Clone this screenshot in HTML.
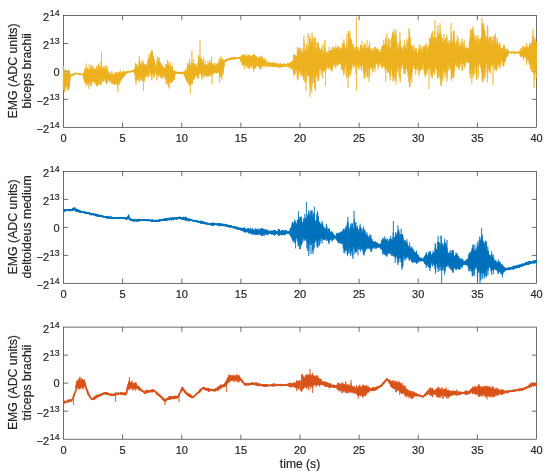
<!DOCTYPE html>
<html><head><meta charset="utf-8"><title>EMG</title>
<style>html,body{margin:0;padding:0;background:#fff}svg{display:block}text{stroke:#262626;stroke-width:.2px}</style>
</head><body>
<svg width="550" height="476" viewBox="0 0 550 476" font-family="'Liberation Sans', sans-serif" fill="#262626">
<rect width="550" height="476" fill="#fff"/>
<rect x="63.5" y="15.5" width="473.0" height="111.8" stroke="#262626" stroke-width="0.67" fill="none"/>
<g stroke="#262626" stroke-width="0.67" fill="none">
<path d="M122.6,127.3v-4.7M122.6,15.5v4.7M181.8,127.3v-4.7M181.8,15.5v4.7M240.9,127.3v-4.7M240.9,15.5v4.7M300.0,127.3v-4.7M300.0,15.5v4.7M359.1,127.3v-4.7M359.1,15.5v4.7M418.2,127.3v-4.7M418.2,15.5v4.7M477.4,127.3v-4.7M477.4,15.5v4.7M63.5,43.5h4.7M536.5,43.5h-4.7M63.5,71.4h4.7M536.5,71.4h-4.7M63.5,99.3h4.7M536.5,99.3h-4.7"/>
</g>
<path d="M63.5,83.5 63.6,87.4 63.6,84.4 63.7,76.8 63.8,83.1 63.8,74.5 63.9,84.7 64.0,75.0 64.0,86.6 64.1,76.2 64.2,86.3 64.2,73.5 64.3,76.5 64.4,70.1 64.4,91.2 64.5,75.7 64.6,73.9 64.6,72.7 64.7,87.3 64.8,91.0 64.8,90.7 64.9,74.8 65.0,92.6 65.0,75.5 65.1,87.7 65.2,69.1 65.2,84.3 65.3,89.6 65.4,85.5 65.4,73.3 65.5,86.9 65.6,69.4 65.6,85.2 65.7,72.0 65.8,84.8 65.8,70.9 65.9,86.8 66.0,76.5 66.0,86.6 66.1,76.8 66.2,83.2 66.2,73.7 66.3,82.7 66.4,77.6 66.4,82.6 66.5,77.3 66.6,85.4 66.6,75.8 66.7,86.5 66.8,86.0 66.8,73.6 66.9,82.5 67.0,83.5 67.0,76.2 67.1,83.8 67.2,88.3 67.2,81.7 67.3,77.8 67.4,76.3 67.4,76.2 67.5,83.5 67.6,76.4 67.6,83.4 67.7,71.4 67.8,91.0 67.8,72.2 67.9,89.5 68.0,75.1 68.0,83.7 68.1,71.7 68.2,75.8 68.2,69.9 68.3,89.4 68.4,69.7 68.4,82.6 68.5,74.1 68.6,85.2 68.6,73.0 68.7,84.5 68.8,74.6 68.8,85.1 68.9,89.8 69.0,88.2 69.0,75.8 69.1,86.5 69.2,75.4 69.2,87.0 69.3,71.8 69.4,87.2 69.4,75.7 69.5,82.9 69.6,70.5 69.6,83.6 69.7,75.9 69.8,78.9 69.8,75.0 69.9,81.3 70.0,75.9 70.0,78.3 70.1,75.5 70.2,78.1 70.2,75.4 70.3,76.4 70.4,74.5 70.4,76.6 70.5,74.5 70.6,75.5 70.6,75.7 70.7,76.5 70.8,75.9 70.8,75.6 70.9,74.1 71.0,76.1 71.0,74.7 71.1,75.7 71.2,74.3 71.2,75.9 71.3,75.9 71.4,75.9 71.4,74.6 71.5,75.3 71.6,74.8 71.6,75.4 71.7,74.4 71.8,75.3 71.8,74.4 71.9,75.4 72.0,74.6 72.0,75.3 72.1,74.7 72.2,75.2 72.2,74.7 72.3,75.2 72.4,74.2 72.4,75.2 72.5,74.1 72.6,75.1 72.6,74.4 72.7,75.5 72.8,74.1 72.8,74.8 72.9,75.1 73.0,75.0 73.0,74.2 73.1,74.8 73.2,74.1 73.2,75.5 73.3,73.7 73.4,75.1 73.4,74.8 73.5,73.7 73.6,74.0 73.6,75.1 73.7,75.6 73.8,75.0 73.8,73.3 73.9,75.0 74.0,74.6 74.0,74.5 74.1,73.7 74.2,75.0 74.2,73.4 74.3,74.5 74.4,73.7 74.4,74.9 74.5,73.7 74.6,74.5 74.6,73.2 74.7,73.3 74.8,73.2 74.8,74.2 74.9,73.3 75.0,73.9 75.0,73.4 75.1,74.1 75.2,73.4 75.2,74.0 75.3,73.4 75.4,74.2 75.4,73.2 75.5,73.8 75.6,72.9 75.6,73.0 75.7,72.6 75.8,73.8 75.8,72.8 75.9,74.0 76.0,72.8 76.0,74.0 76.1,73.3 76.2,73.8 76.2,72.8 76.3,74.3 76.4,72.9 76.4,74.1 76.5,73.2 76.6,73.0 76.6,73.4 76.7,74.0 76.8,73.3 76.8,73.9 76.9,73.1 77.0,73.9 77.0,73.2 77.1,74.0 77.2,74.0 77.2,74.1 77.3,73.4 77.4,73.8 77.4,73.3 77.5,73.4 77.6,73.6 77.6,74.1 77.7,73.4 77.8,73.5 77.8,73.0 77.9,74.0 78.0,73.4 78.0,74.1 78.1,73.2 78.2,74.4 78.2,73.7 78.3,74.2 78.4,73.4 78.4,74.1 78.5,73.7 78.6,73.6 78.6,73.7 78.7,73.7 78.8,73.7 78.8,74.1 78.9,73.6 79.0,73.6 79.0,74.2 79.1,74.5 79.2,73.7 79.2,74.6 79.3,73.7 79.4,74.4 79.4,73.5 79.5,74.4 79.6,73.9 79.6,74.3 79.7,73.7 79.8,74.6 79.8,74.4 79.9,74.3 80.0,73.7 80.0,74.7 80.1,73.7 80.2,74.7 80.2,73.9 80.3,74.5 80.4,73.7 80.4,74.5 80.5,73.8 80.6,73.7 80.6,73.8 80.7,74.6 80.8,73.9 80.8,73.9 80.9,74.0 81.0,74.5 81.0,73.8 81.1,73.9 81.2,74.8 81.2,74.9 81.3,74.1 81.4,74.6 81.4,74.5 81.5,74.9 81.6,73.8 81.6,74.6 81.7,74.3 81.8,74.0 81.8,73.7 81.9,74.6 82.0,74.6 82.0,74.8 82.1,74.2 82.2,74.8 82.2,74.3 82.3,74.7 82.4,74.0 82.4,75.2 82.5,74.0 82.6,74.8 82.6,74.3 82.7,74.9 82.8,74.3 82.8,75.0 82.9,74.2 83.0,75.0 83.0,74.2 83.1,75.4 83.2,74.4 83.2,75.2 83.3,74.1 83.4,77.2 83.4,73.5 83.5,76.5 83.6,73.4 83.6,78.5 83.7,71.7 83.8,78.2 83.8,73.5 83.9,79.1 84.0,80.3 84.0,79.9 84.1,73.8 84.2,78.3 84.2,73.0 84.3,79.5 84.4,73.8 84.4,81.0 84.5,82.6 84.6,80.4 84.6,68.2 84.7,78.7 84.8,70.6 84.8,78.7 84.9,70.4 85.0,82.7 85.0,73.2 85.1,80.1 85.2,69.5 85.2,80.5 85.3,72.5 85.4,81.1 85.4,72.5 85.5,81.8 85.6,81.7 85.6,79.4 85.7,73.7 85.8,79.1 85.8,80.2 85.9,72.1 86.0,73.2 86.0,83.3 86.1,63.6 86.2,86.4 86.2,70.8 86.3,79.0 86.4,83.4 86.4,80.9 86.5,74.2 86.6,82.5 86.6,72.5 86.7,80.5 86.8,67.1 86.8,81.5 86.9,73.5 87.0,78.7 87.0,80.1 87.1,80.2 87.2,68.8 87.2,84.7 87.3,74.8 87.4,72.0 87.4,68.4 87.5,81.8 87.6,74.5 87.6,73.5 87.7,68.0 87.8,84.0 87.8,69.5 87.9,80.8 88.0,73.9 88.0,81.4 88.1,70.8 88.2,83.6 88.2,73.0 88.3,81.3 88.4,73.2 88.4,83.8 88.5,71.2 88.6,72.9 88.6,72.0 88.7,79.4 88.8,70.2 88.8,89.0 88.9,72.8 89.0,82.1 89.0,71.1 89.1,79.4 89.2,64.3 89.2,78.8 89.3,71.4 89.4,70.8 89.4,72.8 89.5,81.6 89.6,70.4 89.6,82.6 89.7,69.1 89.8,79.2 89.8,74.1 89.9,82.9 90.0,69.9 90.0,85.5 90.1,69.8 90.2,82.2 90.2,70.6 90.3,73.9 90.4,72.7 90.4,80.4 90.5,71.3 90.6,80.5 90.6,67.0 90.7,82.0 90.8,73.1 90.8,80.1 90.9,68.0 91.0,80.7 91.0,71.9 91.1,80.0 91.2,86.3 91.2,82.7 91.3,64.9 91.4,80.6 91.4,69.5 91.5,79.7 91.6,84.8 91.6,86.0 91.7,65.1 91.8,82.0 91.8,65.1 91.9,81.6 92.0,69.7 92.0,70.9 92.1,68.8 92.2,82.4 92.2,67.8 92.3,78.0 92.4,71.9 92.4,78.2 92.5,69.8 92.6,81.3 92.6,73.2 92.7,77.8 92.8,80.5 92.8,78.4 92.9,71.2 93.0,73.9 93.0,74.2 93.1,82.2 93.2,72.8 93.2,72.6 93.3,72.0 93.4,72.0 93.4,70.4 93.5,80.6 93.6,77.9 93.6,72.8 93.7,73.7 93.8,81.0 93.8,67.0 93.9,79.1 94.0,73.4 94.0,82.4 94.1,68.5 94.2,78.3 94.2,72.9 94.3,80.0 94.4,70.0 94.4,73.8 94.5,69.9 94.6,81.6 94.6,68.9 94.7,83.2 94.8,82.4 94.8,83.6 94.9,72.9 95.0,82.9 95.0,69.6 95.1,82.2 95.2,72.0 95.2,80.6 95.3,69.8 95.4,81.4 95.4,73.2 95.5,79.1 95.6,73.0 95.6,80.3 95.7,69.1 95.8,78.4 95.8,73.3 95.9,72.0 96.0,74.1 96.0,81.0 96.1,71.9 96.2,85.0 96.2,68.6 96.3,86.4 96.4,65.6 96.4,80.8 96.5,68.9 96.6,78.9 96.6,80.9 96.7,79.3 96.8,83.4 96.8,71.6 96.9,86.3 97.0,80.9 97.0,68.3 97.1,80.6 97.2,81.4 97.2,80.4 97.3,68.3 97.4,84.0 97.4,78.9 97.5,79.2 97.6,71.5 97.6,80.6 97.7,70.0 97.8,85.5 97.8,73.1 97.9,79.4 98.0,73.8 98.0,84.8 98.1,65.1 98.2,79.3 98.2,84.5 98.3,71.6 98.4,71.3 98.4,66.8 98.5,66.1 98.6,84.6 98.6,79.0 98.7,71.3 98.8,65.4 98.8,68.5 98.9,63.6 99.0,77.7 99.0,67.9 99.1,77.8 99.2,68.5 99.2,67.5 99.3,82.0 99.4,81.0 99.4,71.1 99.5,77.2 99.6,68.1 99.6,84.6 99.7,69.4 99.8,77.3 99.8,72.4 99.9,78.8 100.0,70.9 100.0,76.6 100.1,70.2 100.2,72.1 100.2,72.0 100.3,77.0 100.4,78.4 100.4,78.4 100.5,70.0 100.6,77.6 100.6,84.9 100.7,77.2 100.8,78.7 100.8,80.0 100.9,61.6 101.0,78.8 101.0,66.9 101.1,79.3 101.2,66.8 101.2,85.0 101.3,79.1 101.4,81.0 101.4,71.1 101.5,51.4 101.6,81.1 101.6,83.8 101.7,68.3 101.8,79.2 101.8,68.9 101.9,79.3 102.0,66.4 102.0,78.2 102.1,70.9 102.2,71.3 102.2,71.1 102.3,77.8 102.4,70.1 102.4,78.7 102.5,80.8 102.6,79.6 102.6,71.1 102.7,77.1 102.8,69.7 102.8,79.5 102.9,69.4 103.0,78.6 103.0,71.5 103.1,76.6 103.2,69.1 103.2,81.7 103.3,67.3 103.4,77.6 103.4,68.0 103.5,77.9 103.6,78.3 103.6,81.7 103.7,68.8 103.8,81.5 103.8,68.5 103.9,77.1 104.0,68.8 104.0,77.8 104.1,65.5 104.2,78.4 104.2,68.3 104.3,77.5 104.4,71.0 104.4,70.9 104.5,72.1 104.6,71.7 104.6,71.7 104.7,77.6 104.8,67.7 104.8,80.0 104.9,72.7 105.0,77.8 105.0,70.8 105.1,78.8 105.2,72.1 105.2,76.9 105.3,71.5 105.4,78.1 105.4,71.6 105.5,80.9 105.6,71.3 105.6,80.5 105.7,69.9 105.8,79.7 105.8,70.4 105.9,81.9 106.0,82.0 106.0,72.8 106.1,71.5 106.2,83.1 106.2,65.6 106.3,80.2 106.4,65.7 106.4,78.6 106.5,66.8 106.6,83.2 106.6,70.6 106.7,68.5 106.8,69.7 106.8,83.8 106.9,79.4 107.0,82.0 107.0,67.7 107.1,83.4 107.2,71.8 107.2,78.6 107.3,67.8 107.4,79.6 107.4,76.9 107.5,77.7 107.6,74.2 107.6,78.1 107.7,72.4 107.8,78.9 107.8,71.6 107.9,79.9 108.0,73.0 108.0,80.4 108.1,71.4 108.2,78.3 108.2,73.7 108.3,80.2 108.4,73.8 108.4,73.8 108.5,76.8 108.6,77.1 108.6,74.4 108.7,78.1 108.8,73.2 108.8,72.0 108.9,71.5 109.0,77.6 109.0,73.9 109.1,76.5 109.2,73.8 109.2,78.2 109.3,73.7 109.4,81.6 109.4,72.4 109.5,82.2 109.6,73.9 109.6,78.4 109.7,75.3 109.8,80.5 109.8,75.0 109.9,79.5 110.0,75.7 110.0,79.0 110.1,74.3 110.2,75.1 110.2,75.4 110.3,81.1 110.4,74.5 110.4,76.4 110.5,76.5 110.6,80.9 110.6,76.9 110.7,79.9 110.8,80.3 110.8,81.6 110.9,76.0 111.0,79.3 111.0,77.1 111.1,74.3 111.2,73.9 111.2,82.5 111.3,82.9 111.4,81.3 111.4,73.0 111.5,81.0 111.6,72.5 111.6,75.5 111.7,74.6 111.8,70.6 111.8,75.6 111.9,81.0 112.0,75.1 112.0,84.6 112.1,73.6 112.2,75.9 112.2,75.7 112.3,81.3 112.4,81.2 112.4,83.8 112.5,73.3 112.6,80.1 112.6,82.7 112.7,82.6 112.8,75.0 112.8,82.8 112.9,75.9 113.0,81.3 113.0,76.1 113.1,82.8 113.2,76.2 113.2,82.1 113.3,76.3 113.4,82.3 113.4,76.7 113.5,80.1 113.6,75.0 113.6,77.2 113.7,76.8 113.8,84.6 113.8,75.6 113.9,80.8 114.0,73.7 114.0,81.0 114.1,76.2 114.2,81.4 114.2,74.1 114.3,82.4 114.4,81.7 114.4,83.2 114.5,74.0 114.6,84.4 114.6,80.5 114.7,84.8 114.8,76.2 114.8,84.1 114.9,74.1 115.0,83.6 115.0,72.4 115.1,81.5 115.2,74.7 115.2,84.7 115.3,75.8 115.4,81.8 115.4,76.5 115.5,83.8 115.6,72.0 115.6,81.2 115.7,75.4 115.8,72.5 115.8,76.4 115.9,84.1 116.0,73.8 116.0,71.8 116.1,72.3 116.2,82.6 116.2,75.4 116.3,83.3 116.4,76.9 116.4,82.3 116.5,76.4 116.6,81.9 116.6,77.7 116.7,82.2 116.8,76.2 116.8,81.3 116.9,75.1 117.0,78.1 117.0,77.9 117.1,75.0 117.2,76.6 117.2,73.4 117.3,73.2 117.4,86.4 117.4,73.4 117.5,82.9 117.6,72.2 117.6,84.1 117.7,75.8 117.8,76.5 117.8,76.2 117.9,75.2 118.0,92.4 118.0,75.1 118.1,74.0 118.2,82.4 118.2,75.2 118.3,76.8 118.4,73.9 118.4,84.2 118.5,74.9 118.6,80.5 118.6,72.5 118.7,82.4 118.8,76.3 118.8,79.9 118.9,75.5 119.0,80.7 119.0,73.2 119.1,81.1 119.2,74.7 119.2,84.7 119.3,71.6 119.4,74.2 119.4,74.7 119.5,79.3 119.6,72.4 119.6,80.5 119.7,73.3 119.8,83.7 119.8,74.2 119.9,81.5 120.0,73.9 120.0,80.3 120.1,73.5 120.2,81.6 120.2,72.8 120.3,78.5 120.4,69.9 120.4,78.8 120.5,73.6 120.6,79.5 120.6,74.2 120.7,78.9 120.8,74.5 120.8,72.5 120.9,74.0 121.0,74.6 121.0,73.5 121.1,77.1 121.2,73.0 121.2,79.7 121.3,77.4 121.4,80.6 121.4,73.4 121.5,79.1 121.6,74.1 121.6,77.0 121.7,73.4 121.8,77.3 121.8,72.7 121.9,77.9 122.0,78.1 122.0,77.8 122.1,72.1 122.2,78.6 122.2,74.0 122.3,76.6 122.4,73.2 122.4,77.0 122.5,73.6 122.6,76.7 122.6,71.7 122.7,77.9 122.8,71.5 122.8,73.1 122.9,71.4 123.0,78.4 123.0,72.7 123.1,76.8 123.2,71.5 123.2,76.5 123.3,71.2 123.4,76.8 123.4,72.7 123.5,75.8 123.6,72.9 123.6,76.2 123.7,73.0 123.8,75.6 123.8,72.4 123.9,75.0 124.0,72.4 124.0,76.5 124.1,72.6 124.2,74.9 124.2,75.2 124.3,75.1 124.4,76.3 124.4,74.9 124.5,75.6 124.6,75.0 124.6,71.6 124.7,71.3 124.8,71.9 124.8,74.5 124.9,71.3 125.0,72.0 125.0,72.7 125.1,74.2 125.2,72.5 125.2,75.0 125.3,71.9 125.4,74.5 125.4,72.0 125.5,74.3 125.6,71.8 125.6,73.7 125.7,72.4 125.8,74.1 125.8,73.2 125.9,73.2 126.0,72.0 126.0,73.0 126.1,72.3 126.2,73.4 126.2,72.1 126.3,73.4 126.4,72.0 126.4,72.7 126.5,71.9 126.6,72.8 126.6,71.6 126.7,72.5 126.8,71.3 126.8,73.1 126.9,71.9 127.0,72.8 127.0,71.9 127.1,72.7 127.2,72.7 127.2,73.0 127.3,71.6 127.4,72.5 127.4,71.6 127.5,72.4 127.6,71.9 127.6,72.5 127.7,71.8 127.8,72.6 127.8,72.6 127.9,72.4 128.0,71.4 128.0,72.6 128.1,72.6 128.2,72.5 128.2,71.6 128.3,72.4 128.4,71.7 128.4,72.2 128.5,72.5 128.6,72.6 128.6,71.5 128.7,71.0 128.8,71.3 128.8,71.0 128.9,71.3 129.0,72.1 129.0,72.2 129.1,72.5 129.2,72.3 129.2,71.3 129.3,72.2 129.4,72.5 129.4,71.2 129.5,72.3 129.6,71.0 129.6,72.1 129.7,71.4 129.8,72.0 129.8,72.1 129.9,71.0 130.0,71.1 130.0,71.9 130.1,72.7 130.2,72.1 130.2,71.3 130.3,72.0 130.4,71.0 130.4,72.6 130.5,70.8 130.6,72.0 130.6,71.1 130.7,71.6 130.8,71.2 130.8,71.6 130.9,71.2 131.0,71.6 131.0,71.0 131.1,71.5 131.2,71.0 131.2,71.8 131.3,71.6 131.4,71.5 131.4,71.7 131.5,71.7 131.6,71.0 131.6,71.6 131.7,70.6 131.8,71.9 131.8,70.9 131.9,71.8 132.0,70.8 132.0,71.8 132.1,71.4 132.2,70.6 132.2,70.4 132.3,71.8 132.4,70.8 132.4,71.4 132.5,70.3 132.6,70.4 132.6,70.8 132.7,71.9 132.8,71.4 132.8,71.7 132.9,70.5 133.0,72.0 133.0,70.6 133.1,71.3 133.2,70.5 133.2,71.3 133.3,70.2 133.4,71.4 133.4,71.4 133.5,71.8 133.6,70.3 133.6,71.9 133.7,70.1 133.8,71.7 133.8,70.4 133.9,71.7 134.0,71.5 134.0,71.8 134.1,70.2 134.2,73.2 134.2,69.8 134.3,72.9 134.4,69.5 134.4,72.4 134.5,69.5 134.6,74.1 134.6,68.1 134.7,73.7 134.8,74.3 134.8,69.3 134.9,73.1 135.0,73.2 135.0,69.7 135.1,75.2 135.2,67.9 135.2,67.7 135.3,67.3 135.4,76.6 135.4,77.5 135.5,74.4 135.6,63.6 135.6,80.8 135.7,64.8 135.8,79.3 135.8,63.1 135.9,75.8 136.0,69.1 136.0,85.1 136.1,64.2 136.2,77.4 136.2,74.9 136.3,75.0 136.4,67.8 136.4,81.3 136.5,79.4 136.6,68.0 136.6,64.0 136.7,78.2 136.8,67.8 136.8,78.7 136.9,68.3 137.0,66.6 137.0,77.5 137.1,78.7 137.2,65.3 137.2,74.4 137.3,69.1 137.4,67.2 137.4,69.6 137.5,73.6 137.6,66.8 137.6,79.7 137.7,66.0 137.8,74.6 137.8,69.1 137.9,74.0 138.0,77.7 138.0,77.4 138.1,67.7 138.2,73.4 138.2,67.0 138.3,76.5 138.4,67.0 138.4,77.7 138.5,66.6 138.6,80.3 138.6,79.0 138.7,81.0 138.8,67.0 138.8,74.0 138.9,68.1 139.0,76.1 139.0,61.8 139.1,76.8 139.2,66.9 139.2,63.8 139.3,56.0 139.4,75.9 139.4,67.4 139.5,82.3 139.6,59.7 139.6,74.6 139.7,75.3 139.8,77.2 139.8,61.8 139.9,74.6 140.0,66.0 140.0,74.4 140.1,67.8 140.2,76.0 140.2,67.1 140.3,78.9 140.4,63.9 140.4,79.3 140.5,66.2 140.6,74.4 140.6,68.3 140.7,74.0 140.8,66.0 140.8,73.7 140.9,69.2 141.0,73.2 141.0,64.9 141.1,75.3 141.2,64.7 141.2,73.7 141.3,68.5 141.4,67.1 141.4,64.4 141.5,73.5 141.6,68.6 141.6,74.0 141.7,65.0 141.8,80.2 141.8,61.4 141.9,80.9 142.0,66.3 142.0,64.6 142.1,67.2 142.2,67.7 142.2,75.2 142.3,67.0 142.4,68.2 142.4,68.5 142.5,80.0 142.6,78.7 142.6,68.6 142.7,78.1 142.8,60.3 142.8,81.1 142.9,65.5 143.0,74.9 143.0,68.9 143.1,81.2 143.2,68.4 143.2,78.4 143.3,64.2 143.4,91.0 143.4,65.5 143.5,77.3 143.6,62.3 143.6,74.0 143.7,67.3 143.8,74.8 143.8,77.1 143.9,77.0 144.0,64.6 144.0,76.3 144.1,65.3 144.2,76.2 144.2,67.7 144.3,74.9 144.4,67.3 144.4,74.9 144.5,68.2 144.6,81.7 144.6,64.6 144.7,79.7 144.8,69.1 144.8,68.3 144.9,67.0 145.0,75.2 145.0,67.2 145.1,74.7 145.2,64.7 145.2,73.4 145.3,76.8 145.4,74.9 145.4,65.3 145.5,76.6 145.6,64.7 145.6,73.6 145.7,69.8 145.8,63.5 145.8,73.8 145.9,75.8 146.0,69.1 146.0,75.7 146.1,68.1 146.2,75.3 146.2,65.4 146.3,73.1 146.4,65.6 146.4,76.6 146.5,73.1 146.6,75.6 146.6,68.7 146.7,73.5 146.8,68.3 146.8,75.1 146.9,69.6 147.0,74.1 147.0,72.6 147.1,71.9 147.2,67.1 147.2,71.4 147.3,68.9 147.4,72.5 147.4,67.8 147.5,71.6 147.6,67.7 147.6,75.2 147.7,65.8 147.8,70.4 147.8,59.8 147.9,72.5 148.0,63.3 148.0,77.5 148.1,63.1 148.2,74.7 148.2,69.8 148.3,72.9 148.4,71.5 148.4,77.5 148.5,61.7 148.6,72.8 148.6,58.0 148.7,70.3 148.8,58.5 148.8,75.6 148.9,60.4 149.0,72.4 149.0,54.0 149.1,68.6 149.2,63.4 149.2,72.3 149.3,62.6 149.4,56.7 149.4,58.9 149.5,62.1 149.6,58.5 149.6,68.1 149.7,61.3 149.8,70.4 149.8,59.7 149.9,68.6 150.0,58.4 150.0,69.7 150.1,63.2 150.2,69.1 150.2,61.2 150.3,76.0 150.4,70.1 150.4,72.7 150.5,57.2 150.6,74.3 150.6,52.6 150.7,67.7 150.8,69.7 150.8,70.6 150.9,60.0 151.0,69.0 151.0,55.0 151.1,52.2 151.2,61.5 151.2,60.9 151.3,56.4 151.4,68.9 151.4,61.3 151.5,73.7 151.6,51.4 151.6,69.2 151.7,60.9 151.8,79.8 151.8,49.7 151.9,79.5 152.0,58.0 152.0,72.6 152.1,51.2 152.2,70.6 152.2,54.8 152.3,70.6 152.4,59.0 152.4,74.2 152.5,51.6 152.6,73.8 152.6,72.3 152.7,70.9 152.8,57.1 152.8,70.0 152.9,62.7 153.0,70.1 153.0,71.5 153.1,68.9 153.2,55.7 153.2,69.7 153.3,60.8 153.4,74.8 153.4,56.2 153.5,68.6 153.6,70.4 153.6,74.0 153.7,62.6 153.8,72.5 153.8,60.3 153.9,75.7 154.0,58.4 154.0,77.3 154.1,59.9 154.2,69.6 154.2,63.1 154.3,71.9 154.4,62.7 154.4,65.2 154.5,75.3 154.6,76.9 154.6,64.7 154.7,70.1 154.8,66.3 154.8,70.4 154.9,62.7 155.0,72.0 155.0,72.2 155.1,72.4 155.2,71.5 155.2,71.6 155.3,71.9 155.4,73.3 155.4,66.9 155.5,72.2 155.6,68.4 155.6,72.9 155.7,70.9 155.8,67.8 155.8,72.6 155.9,72.6 156.0,68.4 156.0,70.8 156.1,67.8 156.2,66.9 156.2,66.8 156.3,73.7 156.4,66.3 156.4,73.4 156.5,64.8 156.6,73.7 156.6,74.0 156.7,74.5 156.8,75.6 156.8,80.5 156.9,63.8 157.0,75.2 157.0,60.5 157.1,75.2 157.2,72.7 157.2,74.3 157.3,56.6 157.4,57.0 157.4,56.8 157.5,73.7 157.6,61.2 157.6,72.6 157.7,63.6 157.8,71.6 157.8,61.7 157.9,64.1 158.0,61.1 158.0,77.5 158.1,58.2 158.2,57.5 158.2,64.4 158.3,73.8 158.4,64.9 158.4,64.5 158.5,63.8 158.6,70.8 158.6,64.2 158.7,75.8 158.8,65.2 158.8,74.4 158.9,63.3 159.0,75.5 159.0,64.1 159.1,63.0 159.2,61.4 159.2,61.8 159.3,64.5 159.4,57.2 159.4,65.9 159.5,72.4 159.6,62.1 159.6,70.9 159.7,63.3 159.8,75.6 159.8,65.9 159.9,72.4 160.0,62.0 160.0,63.7 160.1,63.5 160.2,72.6 160.2,64.0 160.3,77.7 160.4,65.4 160.4,74.7 160.5,64.0 160.6,71.1 160.6,64.4 160.7,74.9 160.8,64.0 160.8,71.9 160.9,64.9 161.0,74.1 161.0,62.7 161.1,78.7 161.2,66.7 161.2,74.3 161.3,67.1 161.4,72.4 161.4,67.2 161.5,74.9 161.6,67.3 161.6,74.3 161.7,68.2 161.8,75.5 161.8,74.3 161.9,73.8 162.0,65.9 162.0,76.1 162.1,69.6 162.2,69.8 162.2,65.6 162.3,77.9 162.4,65.5 162.4,75.4 162.5,65.3 162.6,67.2 162.6,69.6 162.7,68.0 162.8,78.0 162.8,75.8 162.9,65.8 163.0,73.5 163.0,68.3 163.1,73.5 163.2,68.0 163.2,75.3 163.3,70.2 163.4,74.0 163.4,67.5 163.5,76.6 163.6,74.9 163.6,74.4 163.7,69.8 163.8,78.5 163.8,67.5 163.9,73.8 164.0,69.4 164.0,68.4 164.1,70.8 164.2,74.1 164.2,68.0 164.3,75.6 164.4,74.6 164.4,68.0 164.5,70.3 164.6,75.9 164.6,68.2 164.7,73.6 164.8,70.5 164.8,75.3 164.9,70.8 165.0,74.2 165.0,70.7 165.1,69.2 165.2,70.4 165.2,74.6 165.3,68.0 165.4,79.7 165.4,68.7 165.5,77.6 165.6,69.7 165.6,76.8 165.7,64.0 165.8,76.4 165.8,70.5 165.9,80.8 166.0,64.3 166.0,77.6 166.1,70.0 166.2,77.9 166.2,68.7 166.3,84.9 166.4,65.2 166.4,79.5 166.5,65.6 166.6,78.0 166.6,66.1 166.7,78.9 166.8,70.1 166.8,77.7 166.9,70.9 167.0,80.2 167.0,82.8 167.1,76.9 167.2,65.6 167.2,76.6 167.3,68.9 167.4,71.0 167.4,70.1 167.5,60.0 167.6,68.8 167.6,68.9 167.7,65.5 167.8,69.3 167.8,62.9 167.9,78.8 168.0,60.6 168.0,84.6 168.1,69.8 168.2,81.6 168.2,84.7 168.3,85.0 168.4,69.2 168.4,82.3 168.5,87.1 168.6,78.4 168.6,63.7 168.7,83.9 168.8,67.0 168.8,82.7 168.9,67.8 169.0,77.7 169.0,65.2 169.1,79.0 169.2,80.4 169.2,88.7 169.3,65.4 169.4,78.7 169.4,66.9 169.5,79.4 169.6,70.7 169.6,79.3 169.7,71.7 169.8,78.6 169.8,66.4 169.9,81.1 170.0,71.1 170.0,78.0 170.1,68.9 170.2,77.5 170.2,71.1 170.3,78.7 170.4,69.1 170.4,80.5 170.5,62.1 170.6,82.4 170.6,65.7 170.7,67.2 170.8,69.3 170.8,83.2 170.9,81.6 171.0,78.4 171.0,81.1 171.1,78.6 171.2,78.3 171.2,78.0 171.3,82.3 171.4,71.7 171.4,71.7 171.5,79.6 171.6,70.6 171.6,81.1 171.7,67.6 171.8,82.9 171.8,70.2 171.9,67.1 172.0,81.9 172.0,78.3 172.1,73.2 172.2,81.5 172.2,69.4 172.3,71.7 172.4,65.5 172.4,79.7 172.5,66.0 172.6,80.1 172.6,72.8 172.7,77.3 172.8,69.7 172.8,81.0 172.9,70.8 173.0,77.2 173.0,73.1 173.1,70.3 173.2,70.1 173.2,78.8 173.3,70.4 173.4,76.7 173.4,71.1 173.5,79.8 173.6,70.7 173.6,77.9 173.7,79.8 173.8,80.3 173.8,72.3 173.9,77.8 174.0,73.6 174.0,79.5 174.1,71.4 174.2,76.9 174.2,79.5 174.3,77.8 174.4,72.1 174.4,72.0 174.5,78.9 174.6,76.6 174.6,70.5 174.7,71.1 174.8,71.1 174.8,75.4 174.9,71.3 175.0,75.6 175.0,72.5 175.1,74.3 175.2,72.3 175.2,71.9 175.3,73.8 175.4,74.2 175.4,71.7 175.5,72.8 175.6,72.3 175.6,72.9 175.7,72.1 175.8,72.9 175.8,73.2 175.9,72.9 176.0,71.7 176.0,72.8 176.1,72.9 176.2,73.1 176.2,71.9 176.3,72.9 176.4,71.8 176.4,73.4 176.5,73.0 176.6,73.1 176.6,71.7 176.7,72.8 176.8,72.1 176.8,73.4 176.9,72.1 177.0,73.3 177.0,72.0 177.1,73.5 177.2,72.1 177.2,72.9 177.3,72.4 177.4,72.9 177.4,72.0 177.5,73.0 177.6,72.3 177.6,72.3 177.7,72.3 177.8,73.7 177.8,71.9 177.9,73.1 178.0,72.0 178.0,72.0 178.1,72.3 178.2,73.6 178.2,72.4 178.3,73.4 178.4,72.0 178.4,73.5 178.5,73.9 178.6,73.1 178.6,72.4 178.7,72.4 178.8,72.4 178.8,73.1 178.9,73.5 179.0,72.3 179.0,73.5 179.1,73.0 179.2,72.4 179.2,73.2 179.3,72.3 179.4,73.4 179.4,71.7 179.5,73.6 179.6,72.4 179.6,73.3 179.7,72.3 179.8,73.2 179.8,72.3 179.9,72.2 180.0,72.4 180.0,73.6 180.1,71.9 180.2,74.1 180.2,72.5 180.3,74.0 180.4,72.0 180.4,73.3 180.5,72.5 180.6,73.4 180.6,72.3 180.7,73.1 180.8,73.4 180.8,74.0 180.9,72.3 181.0,73.2 181.0,72.3 181.1,73.8 181.2,72.1 181.2,73.5 181.3,72.1 181.4,74.0 181.4,71.7 181.5,74.0 181.6,72.2 181.6,73.7 181.7,72.0 181.8,74.2 181.9,72.5 181.9,73.2 182.0,72.1 182.1,73.5 182.1,73.6 182.2,73.4 182.3,72.2 182.3,74.0 182.4,74.0 182.5,72.0 182.5,72.7 182.6,73.2 182.7,72.7 182.7,73.1 182.8,72.7 182.9,73.3 182.9,72.3 183.0,73.1 183.1,72.7 183.1,73.6 183.2,72.6 183.3,73.4 183.3,72.7 183.4,73.7 183.5,72.3 183.5,72.4 183.6,72.7 183.7,73.5 183.7,73.5 183.8,73.3 183.9,71.9 183.9,73.9 184.0,72.2 184.1,72.4 184.1,71.5 184.2,75.1 184.3,72.2 184.3,74.6 184.4,71.4 184.5,75.0 184.5,72.5 184.6,74.5 184.7,71.0 184.7,75.0 184.8,71.7 184.9,77.3 184.9,74.7 185.0,76.1 185.1,72.4 185.1,76.3 185.2,71.8 185.3,75.6 185.3,76.9 185.4,75.3 185.5,68.7 185.5,78.6 185.6,72.2 185.7,79.2 185.7,72.0 185.8,76.7 185.9,70.3 185.9,76.9 186.0,78.5 186.1,75.2 186.1,71.7 186.2,70.3 186.3,71.4 186.3,77.7 186.4,75.4 186.5,81.5 186.5,75.3 186.6,75.0 186.7,70.7 186.7,78.1 186.8,71.2 186.9,76.5 186.9,77.0 187.0,79.2 187.1,70.5 187.1,77.7 187.2,68.3 187.3,80.7 187.3,64.9 187.4,82.7 187.5,71.1 187.5,80.6 187.6,63.6 187.7,82.4 187.7,67.8 187.8,81.1 187.9,62.7 187.9,78.3 188.0,76.6 188.1,79.8 188.1,71.3 188.2,80.6 188.3,67.9 188.3,78.6 188.4,67.5 188.5,79.3 188.5,70.9 188.6,80.2 188.7,68.4 188.7,77.2 188.8,83.2 188.9,79.3 188.9,64.4 189.0,84.5 189.1,69.6 189.1,83.5 189.2,65.9 189.3,85.9 189.3,70.4 189.4,77.7 189.5,62.0 189.5,85.2 189.6,58.7 189.7,81.1 189.7,62.6 189.8,79.8 189.9,71.2 189.9,76.6 190.0,66.0 190.1,77.6 190.1,70.7 190.2,75.6 190.3,68.3 190.3,76.2 190.4,94.0 190.5,67.7 190.5,71.2 190.6,78.0 190.7,66.4 190.7,78.1 190.8,67.0 190.9,81.7 190.9,64.7 191.0,76.5 191.1,68.8 191.1,84.8 191.2,68.9 191.3,79.1 191.3,83.2 191.4,76.4 191.5,64.7 191.5,84.1 191.6,61.6 191.7,79.9 191.7,66.6 191.8,79.1 191.9,78.1 191.9,50.6 192.0,80.4 192.1,83.2 192.1,80.1 192.2,78.3 192.3,65.3 192.3,78.0 192.4,63.4 192.5,64.2 192.5,67.9 192.6,84.4 192.7,68.7 192.7,64.3 192.8,66.3 192.9,69.2 192.9,66.5 193.0,78.2 193.1,68.5 193.1,78.0 193.2,62.8 193.3,78.1 193.3,58.9 193.4,79.8 193.5,67.0 193.5,75.0 193.6,68.0 193.7,74.1 193.7,66.8 193.8,75.9 193.9,69.4 193.9,80.0 194.0,68.4 194.1,77.2 194.1,69.2 194.2,74.8 194.3,63.4 194.3,74.4 194.4,64.3 194.5,78.0 194.5,68.9 194.6,67.5 194.7,64.0 194.7,75.8 194.8,66.2 194.9,78.3 194.9,68.9 195.0,75.0 195.1,63.7 195.1,75.4 195.2,68.5 195.3,74.3 195.3,75.4 195.4,65.7 195.5,63.6 195.5,68.3 195.6,65.3 195.7,76.3 195.7,69.3 195.8,73.9 195.9,65.1 195.9,74.2 196.0,66.4 196.1,69.1 196.1,68.6 196.2,72.9 196.3,68.9 196.3,72.9 196.4,68.9 196.5,73.0 196.5,69.0 196.6,76.2 196.7,67.3 196.7,73.0 196.8,65.7 196.9,76.2 196.9,69.4 197.0,72.9 197.1,67.9 197.1,74.4 197.2,72.9 197.3,76.0 197.3,68.2 197.4,78.6 197.5,68.2 197.5,74.7 197.6,62.8 197.7,76.3 197.7,74.6 197.8,67.6 197.9,67.5 197.9,75.5 198.0,66.0 198.1,78.6 198.1,65.3 198.2,74.8 198.3,64.3 198.3,63.4 198.4,60.9 198.5,62.0 198.5,55.4 198.6,72.1 198.7,55.9 198.7,78.8 198.8,61.7 198.9,73.7 198.9,61.5 199.0,70.1 199.1,58.4 199.1,73.3 199.2,61.0 199.3,70.3 199.3,60.3 199.4,70.5 199.5,59.3 199.5,73.4 199.6,59.2 199.7,57.0 199.7,60.6 199.8,68.3 199.9,59.0 199.9,68.5 200.0,40.3 200.1,72.5 200.1,62.0 200.2,70.3 200.3,60.5 200.3,73.7 200.4,62.1 200.5,68.9 200.5,58.7 200.6,73.6 200.7,57.4 200.7,72.4 200.8,69.6 200.9,69.0 200.9,60.8 201.0,71.1 201.1,58.5 201.1,69.3 201.2,60.6 201.3,70.5 201.3,59.6 201.4,70.9 201.5,61.2 201.5,74.8 201.6,59.3 201.7,78.2 201.7,78.0 201.8,80.2 201.9,60.4 201.9,76.1 202.0,60.1 202.1,61.6 202.1,63.5 202.2,77.0 202.3,60.9 202.3,74.9 202.4,62.0 202.5,69.8 202.5,61.2 202.6,71.9 202.7,62.3 202.7,62.9 202.8,64.6 202.9,71.5 202.9,71.6 203.0,74.9 203.1,64.5 203.1,63.9 203.2,63.2 203.3,72.6 203.3,65.4 203.4,64.6 203.5,65.5 203.5,72.0 203.6,57.5 203.7,74.8 203.7,72.3 203.8,78.5 203.9,66.6 203.9,75.3 204.0,63.7 204.1,75.0 204.1,64.4 204.2,71.3 204.3,65.7 204.3,72.6 204.4,66.4 204.5,70.4 204.5,67.2 204.6,72.3 204.7,67.5 204.7,70.9 204.8,66.2 204.9,70.7 204.9,65.0 205.0,71.0 205.1,64.1 205.1,75.7 205.2,60.2 205.3,73.7 205.3,64.9 205.4,75.0 205.5,73.9 205.5,76.0 205.6,65.9 205.7,72.4 205.7,76.2 205.8,71.2 205.9,64.5 205.9,73.2 206.0,66.0 206.1,72.6 206.1,66.9 206.2,73.6 206.3,71.8 206.3,71.2 206.4,66.1 206.5,67.3 206.5,66.4 206.6,77.1 206.7,66.3 206.7,71.5 206.8,66.9 206.9,71.1 206.9,65.9 207.0,74.0 207.1,65.3 207.1,71.0 207.2,73.0 207.3,70.5 207.3,65.2 207.4,70.6 207.5,64.3 207.5,71.0 207.6,71.9 207.7,76.6 207.7,66.3 207.8,75.7 207.9,60.9 207.9,74.1 208.0,65.0 208.1,74.7 208.1,64.3 208.2,72.9 208.3,65.0 208.3,76.1 208.4,64.4 208.5,75.8 208.5,66.0 208.6,64.4 208.7,63.3 208.7,73.4 208.8,63.0 208.9,73.3 208.9,65.2 209.0,72.1 209.1,67.9 209.1,74.4 209.2,71.2 209.3,70.8 209.3,65.2 209.4,76.6 209.5,66.4 209.5,74.7 209.6,73.0 209.7,73.0 209.7,67.1 209.8,59.9 209.9,66.2 209.9,73.6 210.0,64.5 210.1,74.5 210.1,62.1 210.2,72.4 210.3,67.4 210.3,63.9 210.4,73.5 210.5,72.0 210.5,66.3 210.6,75.7 210.7,65.7 210.7,64.4 210.8,62.7 210.9,75.2 210.9,72.6 211.0,73.1 211.1,67.8 211.1,74.1 211.2,64.5 211.3,72.7 211.3,63.4 211.4,73.2 211.5,67.5 211.5,56.5 211.6,73.7 211.7,73.7 211.7,67.1 211.8,72.9 211.9,67.6 211.9,73.3 212.0,84.4 212.1,65.0 212.1,67.6 212.2,71.7 212.3,66.2 212.3,73.9 212.4,63.0 212.5,73.1 212.5,72.5 212.6,71.9 212.7,72.6 212.7,73.1 212.8,67.3 212.9,75.5 212.9,63.1 213.0,70.6 213.1,66.5 213.1,70.7 213.2,65.7 213.3,70.8 213.3,66.6 213.4,72.5 213.5,64.5 213.5,71.9 213.6,65.2 213.7,72.7 213.7,67.8 213.8,73.9 213.9,72.5 213.9,71.1 214.0,66.9 214.1,71.0 214.1,66.0 214.2,71.8 214.3,66.5 214.3,71.3 214.4,65.8 214.5,72.1 214.5,65.3 214.6,71.2 214.7,64.9 214.7,72.6 214.8,66.7 214.9,66.1 214.9,62.6 215.0,63.9 215.1,63.7 215.1,72.2 215.2,66.9 215.3,72.8 215.3,65.0 215.4,72.5 215.5,72.8 215.5,71.1 215.6,66.9 215.7,71.1 215.7,70.5 215.8,71.0 215.9,70.1 215.9,72.6 216.0,65.5 216.1,70.6 216.1,67.4 216.2,72.9 216.3,73.3 216.3,72.0 216.4,67.3 216.5,70.4 216.5,66.3 216.6,71.6 216.7,73.4 216.7,70.4 216.8,63.7 216.9,71.9 216.9,66.1 217.0,72.4 217.1,64.8 217.1,70.2 217.2,70.6 217.3,72.4 217.3,67.0 217.4,70.3 217.5,65.3 217.5,71.9 217.6,62.9 217.7,71.4 217.7,64.1 217.8,71.2 217.9,67.1 217.9,72.8 218.0,67.2 218.1,72.5 218.1,65.3 218.2,72.0 218.3,67.0 218.3,69.5 218.4,66.9 218.5,70.0 218.5,67.4 218.6,71.8 218.7,66.8 218.7,70.9 218.8,66.0 218.9,71.8 218.9,61.9 219.0,72.2 219.1,64.4 219.1,58.3 219.2,65.3 219.3,72.7 219.3,62.7 219.4,83.0 219.5,62.3 219.5,71.0 219.6,73.7 219.7,62.9 219.7,76.6 219.8,74.7 219.9,62.3 219.9,70.7 220.0,60.1 220.1,73.9 220.1,60.7 220.2,71.7 220.3,60.1 220.3,70.4 220.4,62.7 220.5,69.0 220.5,76.7 220.6,71.0 220.7,59.4 220.7,71.4 220.8,60.1 220.9,74.2 220.9,56.2 221.0,72.8 221.1,61.6 221.1,77.7 221.2,72.5 221.3,75.7 221.3,58.7 221.4,76.9 221.5,60.8 221.5,73.0 221.6,63.8 221.7,69.8 221.7,59.0 221.8,79.7 221.9,58.3 221.9,75.5 222.0,63.5 222.1,76.3 222.1,58.3 222.2,70.0 222.3,62.4 222.3,73.4 222.4,72.2 222.5,69.4 222.5,58.8 222.6,71.4 222.7,69.9 222.7,73.2 222.8,62.5 222.9,70.2 222.9,70.1 223.0,59.7 223.1,74.0 223.1,70.2 223.2,71.8 223.3,69.0 223.3,60.5 223.4,63.8 223.5,60.8 223.5,70.8 223.6,62.1 223.7,67.6 223.7,63.4 223.8,66.5 223.9,60.8 223.9,61.7 224.0,61.3 224.1,67.0 224.1,61.1 224.2,61.1 224.3,61.2 224.3,63.1 224.4,60.2 224.5,62.1 224.5,62.1 224.6,60.7 224.7,60.3 224.7,61.5 224.8,60.7 224.9,62.0 224.9,60.6 225.0,61.3 225.1,60.6 225.1,61.3 225.2,60.4 225.3,61.2 225.3,61.9 225.4,61.3 225.5,61.2 225.5,61.5 225.6,59.8 225.7,61.6 225.7,59.7 225.8,59.5 225.9,60.1 225.9,61.2 226.0,59.1 226.1,61.1 226.1,59.8 226.2,60.8 226.3,59.7 226.3,60.7 226.4,59.4 226.5,61.5 226.5,59.8 226.6,59.2 226.7,59.6 226.7,60.3 226.8,59.4 226.9,58.9 226.9,59.5 227.0,60.4 227.1,58.8 227.1,60.1 227.2,59.2 227.3,59.9 227.3,59.2 227.4,60.5 227.5,59.3 227.5,60.4 227.6,59.3 227.7,60.1 227.7,58.8 227.8,59.0 227.9,58.4 227.9,60.0 228.0,59.0 228.1,59.2 228.1,59.0 228.2,60.0 228.3,59.1 228.3,60.0 228.4,58.8 228.5,59.9 228.5,58.5 228.6,59.6 228.7,58.6 228.7,58.7 228.8,58.5 228.9,60.2 228.9,59.0 229.0,58.7 229.1,59.8 229.1,60.5 229.2,58.8 229.3,60.0 229.3,58.1 229.4,58.5 229.5,58.2 229.5,59.6 229.6,58.0 229.7,58.7 229.7,58.4 229.8,59.4 229.9,59.3 229.9,59.6 230.0,58.3 230.1,59.4 230.1,59.2 230.2,59.4 230.3,58.6 230.3,59.6 230.4,59.3 230.5,57.8 230.5,58.0 230.6,59.0 230.7,58.0 230.7,59.9 230.8,59.7 230.9,59.5 230.9,57.5 231.0,59.1 231.1,58.2 231.1,59.2 231.2,59.9 231.3,59.2 231.3,58.2 231.4,59.8 231.5,57.6 231.5,59.2 231.6,58.3 231.7,59.0 231.7,59.6 231.8,59.0 231.9,57.8 231.9,58.9 232.0,58.0 232.1,58.9 232.1,58.2 232.2,58.8 232.3,57.8 232.3,58.8 232.4,57.8 232.5,59.2 232.5,57.5 232.6,58.9 232.7,58.0 232.7,58.7 232.8,57.8 232.9,59.3 232.9,58.0 233.0,59.0 233.1,58.0 233.1,59.0 233.2,57.8 233.3,59.4 233.3,57.1 233.4,58.8 233.5,57.4 233.5,58.9 233.6,57.9 233.7,58.1 233.7,57.6 233.8,59.0 233.9,58.8 233.9,59.4 234.0,57.9 234.1,58.7 234.1,57.4 234.2,59.5 234.3,57.3 234.3,59.6 234.4,57.8 234.5,59.1 234.5,57.3 234.6,58.7 234.7,57.4 234.7,57.7 234.8,58.1 234.9,58.6 234.9,57.6 235.0,58.8 235.1,58.1 235.1,58.1 235.2,59.1 235.3,58.6 235.3,58.1 235.4,58.8 235.5,57.5 235.5,58.1 235.6,57.6 235.7,59.0 235.7,57.7 235.8,58.6 235.9,57.6 235.9,58.8 236.0,58.5 236.1,58.6 236.1,58.0 236.2,58.7 236.3,57.6 236.3,58.5 236.4,57.6 236.5,58.4 236.5,58.0 236.6,58.4 236.7,57.7 236.7,58.6 236.8,57.6 236.9,58.7 236.9,57.9 237.0,57.9 237.1,57.6 237.1,57.4 237.2,57.6 237.3,58.6 237.3,58.4 237.4,58.5 237.5,58.7 237.5,58.4 237.6,57.3 237.7,58.4 237.7,58.8 237.8,58.5 237.9,57.4 237.9,59.0 238.0,57.6 238.1,58.4 238.1,57.9 238.2,58.4 238.3,57.8 238.3,58.5 238.4,58.4 238.5,58.6 238.5,57.7 238.6,58.6 238.7,57.4 238.7,58.8 238.8,57.6 238.9,58.7 238.9,57.7 239.0,58.5 239.1,58.8 239.1,58.4 239.2,57.5 239.3,58.7 239.3,57.8 239.4,58.6 239.5,58.7 239.5,58.5 239.6,57.6 239.7,58.8 239.7,57.6 239.8,58.3 239.9,57.4 239.9,58.6 240.0,58.0 240.1,59.4 240.1,57.2 240.2,57.9 240.3,59.1 240.3,59.5 240.4,57.7 240.5,61.5 240.5,57.9 240.6,60.7 240.7,56.7 240.7,60.1 240.8,57.7 240.9,60.2 240.9,57.0 241.0,60.4 241.1,57.5 241.1,60.8 241.2,56.8 241.3,60.5 241.3,55.6 241.4,56.9 241.5,58.2 241.5,60.6 241.6,61.1 241.7,60.4 241.7,62.4 241.8,62.6 241.9,57.1 241.9,61.6 242.0,57.5 242.1,66.0 242.1,55.9 242.2,61.4 242.3,54.2 242.3,61.1 242.4,55.1 242.5,64.1 242.5,57.8 242.6,60.5 242.7,57.2 242.7,61.5 242.8,57.4 242.9,62.0 242.9,58.0 243.0,63.9 243.1,56.5 243.1,62.8 243.2,56.2 243.3,56.6 243.3,57.8 243.4,62.1 243.5,56.4 243.5,65.3 243.6,65.3 243.7,55.0 243.7,57.5 243.8,64.5 243.9,57.1 243.9,61.7 244.0,55.9 244.1,63.8 244.1,55.1 244.2,69.3 244.3,61.8 244.3,63.1 244.4,54.5 244.5,66.8 244.5,62.7 244.6,61.9 244.7,57.2 244.7,63.7 244.8,55.2 244.9,61.8 244.9,56.4 245.0,61.6 245.1,57.5 245.1,60.8 245.2,56.6 245.3,61.7 245.3,57.6 245.4,62.2 245.5,56.8 245.5,65.4 245.6,56.2 245.7,57.4 245.7,55.9 245.8,64.0 245.9,54.4 245.9,65.0 246.0,64.7 246.1,63.2 246.1,64.5 246.2,62.8 246.3,57.4 246.3,67.6 246.4,56.4 246.5,64.2 246.5,57.9 246.6,63.8 246.7,58.4 246.7,61.4 246.8,58.2 246.9,62.2 246.9,57.5 247.0,65.3 247.1,57.4 247.1,63.4 247.2,63.3 247.3,61.1 247.3,56.1 247.4,65.3 247.5,57.8 247.5,65.8 247.6,56.9 247.7,67.0 247.7,56.6 247.8,65.8 247.9,57.4 247.9,66.2 248.0,55.5 248.1,66.4 248.1,54.4 248.2,69.2 248.3,56.4 248.3,63.8 248.4,56.8 248.5,66.7 248.5,57.8 248.6,67.3 248.7,58.1 248.7,63.8 248.8,55.2 248.9,62.3 248.9,57.2 249.0,63.4 249.1,55.5 249.1,64.0 249.2,57.7 249.3,65.8 249.3,57.2 249.4,57.4 249.5,56.4 249.5,62.0 249.6,58.1 249.7,69.2 249.7,54.9 249.8,64.7 249.9,56.6 249.9,66.9 250.0,56.7 250.1,62.6 250.1,55.9 250.2,62.4 250.3,56.9 250.3,65.0 250.4,56.7 250.5,58.0 250.5,55.4 250.6,63.8 250.7,56.8 250.7,64.6 250.8,56.6 250.9,65.6 250.9,56.4 251.0,64.2 251.1,57.7 251.1,67.9 251.2,57.8 251.3,65.9 251.3,56.4 251.4,65.4 251.5,67.4 251.5,63.4 251.6,57.5 251.7,63.6 251.7,58.3 251.8,63.0 251.9,56.6 251.9,65.0 252.0,58.6 252.1,62.5 252.1,57.6 252.2,65.5 252.3,57.3 252.3,63.9 252.4,55.4 252.5,62.9 252.5,57.1 252.6,63.0 252.7,57.0 252.7,57.5 252.8,57.1 252.9,62.7 252.9,55.4 253.0,61.9 253.1,56.1 253.1,68.6 253.2,54.6 253.3,63.4 253.3,67.8 253.4,62.3 253.5,54.5 253.5,71.5 253.6,55.2 253.7,66.4 253.7,54.5 253.8,67.8 253.9,58.3 253.9,67.9 254.0,54.1 254.1,64.0 254.1,56.6 254.2,67.8 254.3,54.9 254.3,68.6 254.4,58.0 254.5,56.0 254.5,57.9 254.6,66.4 254.7,55.0 254.7,69.1 254.8,57.0 254.9,67.2 254.9,57.6 255.0,64.7 255.1,56.8 255.1,62.8 255.2,56.9 255.3,68.1 255.3,56.9 255.4,63.3 255.5,56.8 255.5,62.7 255.6,55.3 255.7,68.0 255.7,56.1 255.8,58.1 255.9,58.8 255.9,66.6 256.0,63.1 256.1,62.4 256.1,57.5 256.2,57.9 256.3,57.0 256.3,62.8 256.4,58.9 256.5,56.2 256.5,57.5 256.6,65.8 256.7,63.9 256.7,65.7 256.8,57.2 256.9,58.2 256.9,63.2 257.0,62.7 257.1,58.1 257.1,62.0 257.2,64.5 257.3,62.8 257.3,58.5 257.4,63.4 257.5,58.2 257.5,64.6 257.6,58.2 257.7,61.8 257.7,63.6 257.8,66.8 257.9,64.7 257.9,65.2 258.0,59.2 258.1,64.7 258.1,59.1 258.2,65.1 258.3,58.3 258.3,62.0 258.4,62.7 258.5,63.4 258.5,57.5 258.6,64.4 258.7,63.8 258.7,65.8 258.8,59.3 258.9,67.4 258.9,57.9 259.0,66.3 259.1,58.6 259.1,64.2 259.2,56.5 259.3,64.3 259.3,59.1 259.4,67.2 259.5,57.7 259.5,68.3 259.6,59.8 259.7,67.7 259.7,58.6 259.8,67.9 259.9,58.0 259.9,69.3 260.0,56.7 260.1,63.8 260.1,59.7 260.2,57.8 260.3,57.2 260.3,57.2 260.4,65.0 260.5,63.5 260.5,63.8 260.6,66.0 260.7,58.2 260.7,68.0 260.8,58.3 260.9,58.5 260.9,59.4 261.0,65.4 261.1,59.3 261.1,64.1 261.2,59.9 261.3,59.6 261.3,58.3 261.4,70.1 261.5,55.8 261.5,66.2 261.6,56.3 261.7,64.4 261.7,56.1 261.8,66.5 261.9,59.3 261.9,65.0 262.0,56.3 262.1,66.4 262.1,59.4 262.2,64.8 262.3,60.0 262.3,64.2 262.4,61.1 262.5,65.4 262.5,60.0 262.6,64.2 262.7,60.9 262.7,65.3 262.8,58.8 262.9,64.0 262.9,60.4 263.0,64.6 263.1,64.3 263.1,64.9 263.2,59.5 263.3,63.7 263.3,60.8 263.4,63.5 263.5,60.8 263.5,64.8 263.6,61.1 263.7,67.1 263.7,61.5 263.8,58.2 263.9,61.7 263.9,65.8 264.0,59.8 264.1,64.5 264.1,60.0 264.2,65.4 264.3,60.7 264.3,65.5 264.4,61.6 264.5,66.9 264.5,59.0 264.6,66.7 264.7,58.5 264.7,64.6 264.8,61.0 264.9,66.4 264.9,61.0 265.0,64.8 265.1,61.9 265.1,63.9 265.2,61.5 265.3,64.1 265.3,62.1 265.4,65.6 265.5,61.2 265.5,64.7 265.6,62.1 265.7,64.1 265.7,64.6 265.8,64.1 265.9,60.8 265.9,62.3 266.0,60.7 266.1,61.9 266.1,61.3 266.2,60.8 266.3,59.6 266.3,61.0 266.4,62.0 266.5,66.7 266.5,65.8 266.6,64.5 266.7,64.8 266.7,66.4 266.8,62.6 266.9,66.1 266.9,62.7 267.0,65.2 267.1,65.0 267.1,65.3 267.2,62.7 267.3,64.6 267.3,65.1 267.4,65.2 267.5,63.2 267.5,64.8 267.6,63.3 267.7,63.4 267.7,63.5 267.8,62.2 267.9,63.0 267.9,65.6 268.0,65.2 268.1,64.9 268.1,63.1 268.2,65.0 268.3,63.2 268.3,64.7 268.4,63.6 268.5,63.3 268.5,63.4 268.6,65.9 268.7,67.1 268.7,63.4 268.8,62.0 268.9,66.2 268.9,62.6 269.0,65.7 269.1,67.0 269.1,66.1 269.2,63.1 269.3,63.3 269.3,62.7 269.4,65.2 269.5,63.8 269.5,65.3 269.6,62.8 269.7,65.2 269.7,61.9 269.8,65.3 269.9,63.9 269.9,66.1 270.0,66.6 270.1,65.4 270.1,64.0 270.2,64.0 270.3,63.1 270.3,65.6 270.4,66.4 270.5,66.0 270.5,64.2 270.6,65.6 270.7,63.4 270.7,66.2 270.8,63.7 270.9,63.8 270.9,64.3 271.0,65.5 271.1,63.6 271.1,65.9 271.2,63.6 271.3,66.0 271.3,62.7 271.4,62.9 271.5,63.1 271.5,66.1 271.6,63.8 271.7,66.9 271.7,64.0 271.8,63.1 271.9,63.0 271.9,65.9 272.0,62.3 272.1,66.6 272.1,62.7 272.2,65.5 272.3,65.9 272.3,63.5 272.4,64.2 272.5,66.5 272.5,63.8 272.6,65.7 272.7,61.9 272.7,67.0 272.8,63.2 272.9,62.3 272.9,63.3 273.0,67.0 273.1,63.9 273.1,66.6 273.2,63.9 273.3,65.8 273.3,62.9 273.4,66.2 273.5,63.4 273.5,65.7 273.6,63.1 273.7,65.9 273.7,64.5 273.8,66.2 273.9,63.4 273.9,66.4 274.0,63.8 274.1,65.9 274.1,63.9 274.2,66.2 274.3,64.0 274.3,65.7 274.4,66.2 274.5,66.5 274.5,64.0 274.6,66.7 274.7,63.7 274.7,66.4 274.8,64.2 274.9,64.4 274.9,63.4 275.0,65.8 275.1,62.6 275.1,66.0 275.2,65.9 275.3,66.8 275.3,63.3 275.4,65.9 275.5,63.9 275.5,65.8 275.6,64.5 275.7,66.4 275.7,63.7 275.8,66.0 275.9,63.4 275.9,65.8 276.0,63.2 276.1,67.2 276.1,67.0 276.2,66.9 276.3,63.9 276.3,66.0 276.4,64.6 276.5,67.0 276.5,63.8 276.6,66.8 276.7,64.4 276.7,65.8 276.8,64.1 276.9,65.9 276.9,65.9 277.0,67.0 277.1,63.4 277.1,64.4 277.2,64.2 277.3,66.6 277.3,62.8 277.4,66.5 277.5,64.2 277.5,67.2 277.6,64.5 277.7,64.7 277.7,64.5 277.8,66.8 277.9,64.8 277.9,66.4 278.0,64.5 278.1,66.7 278.1,65.0 278.2,66.0 278.3,64.4 278.3,66.1 278.4,64.3 278.5,65.7 278.5,66.2 278.6,66.7 278.7,64.6 278.7,66.1 278.8,64.3 278.9,63.9 278.9,64.5 279.0,66.7 279.1,64.4 279.1,68.2 279.2,67.0 279.3,67.1 279.3,66.6 279.4,66.5 279.5,64.8 279.5,66.9 279.6,64.7 279.7,67.6 279.7,66.5 279.8,68.0 279.9,63.2 279.9,64.2 280.0,64.1 280.1,66.9 280.1,66.7 280.2,66.1 280.3,63.2 280.3,66.6 280.4,66.4 280.5,66.2 280.5,64.8 280.6,66.2 280.7,64.9 280.7,66.0 280.8,63.7 280.9,66.9 280.9,63.7 281.0,66.7 281.1,63.9 281.1,67.7 281.2,66.4 281.3,66.8 281.3,66.7 281.4,66.9 281.5,66.1 281.5,67.1 281.6,64.8 281.7,66.1 281.7,64.2 281.8,66.1 281.9,64.5 281.9,65.9 282.0,64.5 282.1,66.2 282.1,66.8 282.2,66.2 282.3,64.6 282.3,66.2 282.4,64.1 282.5,66.2 282.5,64.1 282.6,64.7 282.7,64.7 282.7,66.6 282.8,64.9 282.9,66.1 282.9,64.8 283.0,64.6 283.1,64.5 283.1,66.4 283.2,64.1 283.3,64.5 283.3,66.2 283.4,66.8 283.5,64.8 283.5,64.8 283.6,64.8 283.7,67.0 283.7,64.8 283.8,66.5 283.9,64.8 283.9,66.0 284.0,64.5 284.1,64.4 284.1,64.2 284.2,63.8 284.3,63.7 284.3,66.4 284.4,63.3 284.5,64.1 284.5,63.1 284.6,66.6 284.7,64.2 284.7,67.0 284.8,64.3 284.9,66.7 284.9,64.7 285.0,66.2 285.1,64.9 285.1,66.2 285.2,64.4 285.3,66.4 285.3,66.1 285.4,66.3 285.5,64.7 285.5,66.8 285.6,66.5 285.7,65.9 285.7,65.9 285.8,65.7 285.9,65.0 285.9,64.4 286.0,64.4 286.1,65.9 286.1,64.7 286.2,65.7 286.3,64.8 286.3,66.1 286.4,64.4 286.5,64.5 286.5,64.9 286.6,65.9 286.7,64.1 286.7,65.7 286.8,63.9 286.9,66.1 286.9,64.7 287.0,65.8 287.1,64.8 287.1,64.6 287.2,64.1 287.3,65.9 287.3,64.8 287.4,66.7 287.5,63.7 287.5,66.3 287.6,64.3 287.7,64.2 287.7,63.3 287.8,65.7 287.9,67.0 287.9,66.4 288.0,64.6 288.1,67.6 288.1,62.8 288.2,66.0 288.3,66.8 288.3,66.3 288.4,63.7 288.5,67.5 288.5,63.6 288.6,66.1 288.7,64.3 288.7,66.7 288.8,63.0 288.9,66.7 288.9,63.8 289.0,66.0 289.1,65.6 289.1,65.9 289.2,63.8 289.3,64.6 289.3,64.6 289.4,66.6 289.5,63.5 289.5,65.9 289.6,63.4 289.7,64.2 289.7,64.4 289.8,66.9 289.9,63.5 289.9,65.9 290.0,64.2 290.1,67.1 290.1,63.6 290.2,65.7 290.3,63.3 290.3,66.4 290.4,67.6 290.5,66.4 290.5,62.0 290.6,67.2 290.7,62.8 290.7,68.2 290.8,63.4 290.9,66.8 290.9,63.8 291.0,68.9 291.1,63.9 291.1,66.5 291.2,69.0 291.3,66.5 291.3,63.7 291.4,66.0 291.5,63.9 291.5,67.3 291.6,63.4 291.7,63.0 291.7,63.6 291.8,61.3 291.9,63.4 291.9,69.5 292.0,61.6 292.1,67.5 292.1,61.9 292.2,68.3 292.3,63.8 292.3,62.8 292.4,61.8 292.5,66.9 292.5,66.9 292.6,68.8 292.7,63.3 292.7,66.4 292.8,63.0 292.9,66.1 292.9,59.7 293.0,66.1 293.1,60.9 293.1,67.2 293.2,69.7 293.3,66.8 293.3,67.0 293.4,72.5 293.5,62.1 293.5,58.2 293.6,59.5 293.7,73.6 293.7,54.7 293.8,57.7 293.9,54.0 293.9,58.1 294.0,58.6 294.1,75.3 294.1,69.5 294.2,75.8 294.3,60.3 294.3,69.1 294.4,57.9 294.5,72.3 294.5,61.4 294.6,73.5 294.7,55.8 294.7,69.5 294.8,58.8 294.9,69.0 294.9,61.5 295.0,71.0 295.1,60.2 295.1,68.3 295.2,59.4 295.3,69.1 295.3,55.0 295.4,67.4 295.5,59.9 295.5,69.5 295.6,55.7 295.7,69.6 295.7,55.9 295.8,74.1 295.9,55.5 295.9,69.1 296.0,57.2 296.1,69.8 296.1,58.7 296.2,68.1 296.3,56.5 296.3,67.3 296.4,59.0 296.5,65.9 296.5,60.1 296.6,61.2 296.7,61.1 296.7,67.1 296.8,66.5 296.9,67.0 296.9,58.0 297.0,70.5 297.1,59.7 297.1,59.0 297.2,58.1 297.3,79.5 297.3,47.1 297.4,70.6 297.5,58.3 297.5,68.5 297.6,52.3 297.7,78.8 297.7,54.5 297.8,56.4 297.9,47.4 297.9,80.3 298.0,50.4 298.1,77.0 298.1,57.4 298.2,55.2 298.3,56.5 298.3,70.1 298.4,50.3 298.5,71.4 298.5,56.6 298.6,69.0 298.7,56.4 298.7,68.9 298.8,55.2 298.9,67.9 298.9,48.0 299.0,73.7 299.1,51.5 299.1,67.7 299.2,52.3 299.3,57.1 299.3,57.5 299.4,68.7 299.5,52.9 299.5,70.5 299.6,58.1 299.7,67.9 299.7,48.6 299.8,72.3 299.9,65.9 299.9,71.1 300.0,47.5 300.1,69.6 300.1,57.3 300.2,68.7 300.3,55.0 300.3,64.9 300.4,52.2 300.5,69.5 300.5,52.0 300.6,75.4 300.7,56.4 300.7,68.3 300.8,66.6 300.9,56.3 300.9,57.1 301.0,53.4 301.1,50.4 301.1,67.7 301.2,50.1 301.3,53.2 301.3,54.0 301.4,72.5 301.5,55.6 301.5,67.1 301.6,48.3 301.7,52.4 301.7,51.7 301.8,76.6 301.9,65.3 301.9,71.3 302.0,58.5 302.1,70.4 302.1,58.5 302.2,70.7 302.3,58.9 302.3,65.4 302.4,54.1 302.5,74.7 302.5,51.9 302.6,69.6 302.7,76.1 302.7,70.4 302.8,66.7 302.9,69.7 302.9,57.6 303.0,72.8 303.1,54.5 303.1,72.5 303.2,72.8 303.3,73.2 303.3,48.0 303.4,79.7 303.5,69.0 303.5,77.1 303.6,55.9 303.7,69.1 303.7,55.2 303.8,54.4 303.9,35.9 303.9,76.5 304.0,71.1 304.1,72.4 304.1,46.8 304.2,40.8 304.3,45.6 304.3,82.3 304.4,48.4 304.5,77.3 304.5,53.3 304.6,72.7 304.7,52.1 304.7,70.4 304.8,55.7 304.9,66.9 304.9,54.5 305.0,53.9 305.1,55.3 305.1,66.4 305.2,52.4 305.3,53.4 305.3,56.4 305.4,70.1 305.5,54.8 305.5,66.8 305.6,52.6 305.7,81.4 305.7,76.5 305.8,75.3 305.9,49.3 305.9,71.7 306.0,91.0 306.1,53.6 306.1,51.5 306.2,70.6 306.3,51.0 306.3,71.8 306.4,73.7 306.5,43.5 306.5,51.3 306.6,67.6 306.7,55.1 306.7,82.4 306.8,69.4 306.9,67.0 306.9,49.4 307.0,70.8 307.1,51.8 307.1,78.1 307.2,46.9 307.3,73.6 307.3,56.3 307.4,70.5 307.5,55.2 307.5,69.0 307.6,54.8 307.7,70.6 307.7,51.8 307.8,70.0 307.9,71.8 307.9,67.5 308.0,33.0 308.1,71.4 308.1,52.6 308.2,67.4 308.3,55.2 308.3,76.1 308.4,50.1 308.5,69.2 308.5,51.2 308.6,69.8 308.7,75.6 308.7,70.1 308.8,44.2 308.9,69.8 308.9,55.1 309.0,76.0 309.1,51.6 309.1,75.0 309.2,54.3 309.3,69.3 309.3,46.2 309.4,76.3 309.5,49.6 309.5,83.9 309.6,39.1 309.7,35.1 309.7,38.1 309.8,76.4 309.9,39.2 309.9,96.9 310.0,52.6 310.1,74.5 310.1,53.3 310.2,78.3 310.3,46.2 310.3,79.6 310.4,50.1 310.5,76.1 310.5,45.6 310.6,37.9 310.7,52.8 310.7,87.7 310.8,45.3 310.9,76.9 310.9,71.0 311.0,90.4 311.1,55.8 311.1,69.0 311.2,47.8 311.3,58.1 311.3,48.0 311.4,74.8 311.5,47.0 311.5,78.3 311.6,42.5 311.7,72.9 311.7,41.2 311.8,93.1 311.9,41.9 311.9,78.0 312.0,50.3 312.1,75.6 312.1,32.4 312.2,77.5 312.3,50.7 312.3,84.5 312.4,72.3 312.5,76.1 312.5,37.8 312.6,42.7 312.7,49.3 312.7,69.9 312.8,56.6 312.9,74.9 312.9,42.7 313.0,75.1 313.1,48.3 313.1,69.9 313.2,51.4 313.3,74.4 313.3,50.5 313.4,82.9 313.5,50.4 313.5,70.2 313.6,50.4 313.7,77.2 313.7,51.1 313.8,68.6 313.9,52.9 313.9,70.6 314.0,36.4 314.1,52.9 314.1,55.8 314.2,70.7 314.3,47.2 314.3,56.6 314.4,41.9 314.5,78.0 314.5,38.2 314.6,72.3 314.7,50.7 314.7,73.5 314.8,88.5 314.9,70.6 314.9,38.8 315.0,87.3 315.1,73.3 315.1,78.7 315.2,37.7 315.3,82.3 315.3,48.0 315.4,91.1 315.5,68.7 315.5,48.9 315.6,58.6 315.7,77.3 315.7,47.1 315.8,73.5 315.9,52.5 315.9,68.5 316.0,52.7 316.1,75.6 316.1,70.8 316.2,73.9 316.3,53.2 316.3,69.9 316.4,57.3 316.5,70.5 316.5,51.8 316.6,71.3 316.7,58.5 316.7,77.4 316.8,58.2 316.9,67.9 316.9,42.2 317.0,72.7 317.1,50.6 317.1,74.7 317.2,53.7 317.3,68.3 317.3,47.5 317.4,71.8 317.5,54.7 317.5,70.2 317.6,55.2 317.7,43.6 317.7,55.5 317.8,69.4 317.9,51.0 317.9,80.7 318.0,44.8 318.1,70.3 318.1,56.6 318.2,81.3 318.3,52.5 318.3,41.9 318.4,52.8 318.5,69.1 318.5,54.0 318.6,79.3 318.7,49.3 318.7,52.4 318.8,53.2 318.9,46.6 318.9,78.0 319.0,54.1 319.1,48.8 319.1,66.4 319.2,56.2 319.3,65.2 319.3,56.4 319.4,56.4 319.5,48.2 319.5,69.4 319.6,57.0 319.7,64.8 319.7,49.8 319.8,65.9 319.9,57.7 319.9,69.9 320.0,65.8 320.1,69.2 320.1,49.1 320.2,67.7 320.3,53.7 320.3,66.3 320.4,50.3 320.5,69.2 320.5,55.5 320.6,64.6 320.7,55.3 320.7,66.0 320.8,51.3 320.9,66.1 320.9,50.0 321.0,67.9 321.1,56.5 321.1,75.0 321.2,51.9 321.3,65.1 321.3,54.8 321.4,53.6 321.5,48.7 321.5,68.9 321.6,55.2 321.7,71.3 321.7,47.0 321.8,71.7 321.9,55.5 321.9,67.3 322.0,49.0 322.1,72.7 322.1,72.5 322.2,72.8 322.3,64.1 322.3,68.9 322.4,64.4 322.5,71.0 322.5,67.2 322.6,63.9 322.7,52.6 322.7,78.5 322.8,44.5 322.9,68.4 322.9,54.6 323.0,67.3 323.1,69.2 323.1,70.0 323.2,52.9 323.3,64.9 323.3,56.3 323.4,54.0 323.5,55.3 323.5,57.3 323.6,64.9 323.7,70.8 323.7,58.0 323.8,63.8 323.9,56.3 323.9,63.8 324.0,55.1 324.1,68.0 324.1,50.3 324.2,71.5 324.3,55.1 324.3,64.3 324.4,42.9 324.5,69.5 324.5,69.5 324.6,70.3 324.7,48.7 324.7,49.8 324.8,53.9 324.9,72.6 324.9,56.1 325.0,40.0 325.1,66.0 325.1,67.9 325.2,47.9 325.3,65.5 325.3,54.0 325.4,65.5 325.5,86.0 325.5,52.1 325.6,55.8 325.7,69.6 325.7,53.4 325.8,70.7 325.9,53.2 325.9,66.7 326.0,55.5 326.1,67.7 326.1,52.5 326.2,65.6 326.3,64.3 326.3,66.1 326.4,54.3 326.5,64.5 326.5,53.0 326.6,53.4 326.7,56.9 326.7,62.8 326.8,54.2 326.9,52.7 326.9,68.5 327.0,66.3 327.1,56.9 327.1,65.8 327.2,57.0 327.3,61.5 327.3,53.7 327.4,61.6 327.5,55.7 327.5,67.5 327.6,62.3 327.7,61.4 327.7,56.6 327.8,52.8 327.9,51.0 327.9,62.1 328.0,51.3 328.1,64.2 328.1,62.9 328.2,62.6 328.3,54.6 328.3,62.1 328.4,55.0 328.5,62.2 328.5,56.4 328.6,68.3 328.7,63.1 328.7,69.1 328.8,53.4 328.9,67.3 328.9,55.0 329.0,62.8 329.1,50.3 329.1,50.9 329.2,46.7 329.3,65.2 329.3,55.0 329.4,64.9 329.5,51.1 329.5,66.9 329.6,55.0 329.7,55.0 329.7,53.6 329.8,64.0 329.9,55.6 329.9,53.7 330.0,53.5 330.1,62.8 330.1,55.7 330.2,64.7 330.3,51.9 330.3,50.0 330.4,55.2 330.5,53.2 330.5,52.0 330.6,67.2 330.7,50.3 330.7,70.4 330.8,55.1 330.9,69.8 330.9,52.2 331.0,63.6 331.1,64.1 331.1,64.3 331.2,67.8 331.3,54.1 331.3,50.8 331.4,61.6 331.5,51.7 331.5,69.3 331.6,54.6 331.7,63.6 331.7,54.3 331.8,63.6 331.9,64.9 331.9,69.2 332.0,48.5 332.1,61.5 332.1,71.8 332.2,64.0 332.3,46.6 332.3,65.8 332.4,67.3 332.5,63.4 332.5,64.1 332.6,61.5 332.7,52.1 332.7,65.5 332.8,50.2 332.9,61.1 332.9,50.6 333.0,62.9 333.1,52.3 333.1,61.5 333.2,55.2 333.3,61.4 333.3,54.2 333.4,64.6 333.5,54.1 333.5,63.9 333.6,46.8 333.7,62.2 333.7,67.0 333.8,52.4 333.9,53.2 333.9,60.4 334.0,50.0 334.1,53.3 334.1,48.2 334.2,60.7 334.3,51.3 334.3,62.5 334.4,53.2 334.5,64.1 334.5,52.3 334.6,60.5 334.7,54.1 334.7,65.0 334.8,48.5 334.9,61.3 334.9,53.6 335.0,52.0 335.1,52.7 335.1,59.2 335.2,53.7 335.3,62.7 335.3,50.0 335.4,67.3 335.5,53.0 335.5,64.6 335.6,48.9 335.7,63.7 335.7,47.7 335.8,66.4 335.9,44.8 335.9,68.1 336.0,67.4 336.1,63.7 336.1,50.0 336.2,62.6 336.3,48.5 336.3,60.5 336.4,49.8 336.5,60.6 336.5,52.0 336.6,64.3 336.7,51.4 336.7,59.9 336.8,49.8 336.9,59.6 336.9,49.7 337.0,63.2 337.1,51.3 337.1,65.1 337.2,50.4 337.3,60.8 337.3,49.1 337.4,63.0 337.5,46.7 337.5,62.0 337.6,52.6 337.7,66.0 337.7,52.9 337.8,62.4 337.9,50.8 337.9,62.9 338.0,51.4 338.1,59.9 338.1,54.0 338.2,59.6 338.3,45.9 338.3,64.7 338.4,48.0 338.5,64.8 338.5,52.5 338.6,62.9 338.7,48.4 338.7,53.1 338.8,53.6 338.9,61.3 338.9,54.6 339.0,60.6 339.1,54.5 339.1,60.6 339.2,54.0 339.3,59.5 339.3,52.2 339.4,59.0 339.5,63.3 339.5,59.7 339.6,51.6 339.7,61.8 339.7,47.0 339.8,63.4 339.9,47.3 339.9,59.6 340.0,51.1 340.1,59.9 340.1,52.9 340.2,61.0 340.3,51.5 340.3,59.9 340.4,49.3 340.5,63.8 340.5,48.9 340.6,61.2 340.7,54.8 340.7,60.3 340.8,53.2 340.9,64.2 340.9,53.4 341.0,64.2 341.1,51.2 341.1,54.3 341.2,51.3 341.3,66.5 341.3,63.7 341.4,65.8 341.5,53.1 341.5,64.1 341.6,48.8 341.7,61.6 341.7,48.1 341.8,70.1 341.9,51.9 341.9,68.8 342.0,66.3 342.1,64.1 342.1,69.9 342.2,63.7 342.3,49.8 342.3,61.7 342.4,53.9 342.5,66.6 342.5,42.9 342.6,63.9 342.7,45.3 342.7,69.2 342.8,45.1 342.9,62.1 342.9,52.3 343.0,70.8 343.1,44.4 343.1,61.5 343.2,49.1 343.3,66.2 343.3,52.2 343.4,63.4 343.5,50.2 343.5,48.8 343.6,52.0 343.7,75.5 343.7,39.5 343.8,68.1 343.9,44.3 343.9,68.0 344.0,45.9 344.1,74.2 344.1,41.4 344.2,67.8 344.3,49.6 344.3,71.0 344.4,65.5 344.5,65.3 344.5,47.3 344.6,62.4 344.7,51.6 344.7,68.2 344.8,55.1 344.9,52.6 344.9,52.9 345.0,62.3 345.1,50.7 345.1,52.6 345.2,65.4 345.3,64.8 345.3,55.0 345.4,63.1 345.5,47.8 345.5,60.3 345.6,61.7 345.7,65.5 345.7,64.3 345.8,62.7 345.9,54.6 345.9,63.2 346.0,52.8 346.1,63.2 346.1,51.8 346.2,76.0 346.3,50.9 346.3,53.5 346.4,44.0 346.5,63.6 346.5,50.4 346.6,47.7 346.7,78.2 346.7,65.1 346.8,50.3 346.9,33.8 346.9,51.8 347.0,50.0 347.1,72.1 347.1,70.9 347.2,48.9 347.3,67.9 347.3,49.3 347.4,66.6 347.5,52.3 347.5,70.4 347.6,47.1 347.7,66.0 347.7,48.2 347.8,63.8 347.9,73.7 347.9,63.4 348.0,88.0 348.1,47.4 348.1,40.2 348.2,63.4 348.3,43.0 348.3,71.4 348.4,30.4 348.5,35.2 348.5,41.0 348.6,77.3 348.7,39.1 348.7,70.1 348.8,44.4 348.9,71.7 348.9,33.1 349.0,76.0 349.1,50.6 349.1,34.3 349.2,46.1 349.3,64.4 349.3,47.6 349.4,61.5 349.5,47.8 349.5,64.5 349.6,38.4 349.7,68.1 349.7,49.3 349.8,62.3 349.9,40.3 349.9,76.4 350.0,31.0 350.1,63.5 350.1,45.6 350.2,62.0 350.3,44.7 350.3,50.3 350.4,66.0 350.5,72.6 350.5,73.0 350.6,61.2 350.7,38.5 350.7,62.1 350.8,50.5 350.9,74.3 350.9,44.1 351.0,70.2 351.1,50.5 351.1,64.1 351.2,39.4 351.3,64.0 351.3,66.3 351.4,63.3 351.5,42.5 351.5,66.6 351.6,40.2 351.7,66.3 351.7,70.0 351.8,48.6 351.9,59.5 351.9,44.0 352.0,45.0 352.1,60.4 352.1,47.7 352.2,60.3 352.3,49.3 352.3,45.0 352.4,50.0 352.5,64.1 352.5,47.9 352.6,51.7 352.7,62.0 352.7,60.0 352.8,43.8 352.9,61.7 352.9,52.1 353.0,63.0 353.1,47.6 353.1,67.3 353.2,49.8 353.3,66.0 353.3,51.8 353.4,62.5 353.5,45.2 353.5,60.7 353.6,50.6 353.7,65.0 353.7,62.8 353.8,63.4 353.9,53.5 353.9,60.0 354.0,52.4 354.1,60.5 354.1,52.3 354.2,64.6 354.3,52.8 354.3,63.2 354.4,53.3 354.5,62.6 354.5,51.5 354.6,61.6 354.7,49.4 354.7,65.2 354.8,53.7 354.9,67.7 354.9,50.9 355.0,60.8 355.1,46.9 355.1,62.8 355.2,48.8 355.3,64.7 355.3,49.8 355.4,62.6 355.5,48.4 355.5,64.1 355.6,51.6 355.7,64.3 355.7,64.6 355.8,61.3 355.9,51.7 355.9,74.5 356.0,47.2 356.1,49.8 356.1,52.6 356.2,51.9 356.3,51.2 356.3,60.1 356.4,17.0 356.5,68.8 356.5,51.0 356.6,91.0 356.7,46.7 356.7,61.1 356.8,50.9 356.9,64.3 356.9,47.2 357.0,63.2 357.1,52.2 357.1,53.8 357.2,51.2 357.3,60.0 357.3,63.3 357.4,64.6 357.5,50.4 357.5,65.7 357.6,49.9 357.7,60.4 357.7,53.1 357.8,63.2 357.9,54.0 357.9,66.2 358.0,51.4 358.1,61.8 358.1,50.2 358.2,52.6 358.3,51.9 358.3,63.8 358.4,46.9 358.5,61.9 358.5,69.3 358.6,63.3 358.7,52.0 358.7,67.0 358.8,53.9 358.9,51.3 358.9,48.2 359.0,69.4 359.1,52.9 359.1,61.7 359.2,50.7 359.3,62.8 359.3,52.9 359.4,64.3 359.5,51.5 359.5,60.8 359.6,52.3 359.7,62.6 359.7,53.8 359.8,61.4 359.9,54.5 359.9,60.6 360.0,53.7 360.1,63.3 360.1,52.2 360.2,65.9 360.3,53.7 360.3,65.7 360.4,53.2 360.5,60.5 360.5,44.9 360.6,51.2 360.7,55.5 360.7,45.1 360.8,54.4 360.9,62.9 360.9,54.8 361.0,68.4 361.1,54.7 361.1,64.3 361.2,47.8 361.3,44.7 361.3,49.6 361.4,65.2 361.5,53.2 361.5,71.1 361.6,61.3 361.7,67.5 361.7,51.0 361.8,70.1 361.9,40.8 361.9,63.1 362.0,50.4 362.1,64.1 362.1,51.6 362.2,63.9 362.3,48.6 362.3,65.4 362.4,51.5 362.5,63.0 362.5,47.6 362.6,65.3 362.7,47.8 362.7,63.2 362.8,48.2 362.9,62.4 362.9,50.4 363.0,62.7 363.1,51.9 363.1,64.9 363.2,49.8 363.3,62.9 363.3,64.7 363.4,62.5 363.5,55.1 363.5,71.7 363.6,46.6 363.7,64.3 363.7,52.8 363.8,64.8 363.9,45.2 363.9,71.5 364.0,51.3 364.1,75.1 364.1,51.4 364.2,78.5 364.3,65.4 364.3,78.5 364.4,51.2 364.5,72.5 364.5,49.0 364.6,43.0 364.7,47.1 364.7,66.6 364.8,50.7 364.9,72.4 364.9,43.8 365.0,72.9 365.1,49.6 365.1,76.5 365.2,47.6 365.3,74.1 365.3,53.6 365.4,69.9 365.5,47.3 365.5,62.9 365.6,48.0 365.7,70.5 365.7,48.2 365.8,71.6 365.9,52.2 365.9,64.1 366.0,52.1 366.1,67.7 366.1,53.5 366.2,64.7 366.3,66.8 366.3,61.6 366.4,66.8 366.5,56.8 366.5,53.6 366.6,56.1 366.7,54.1 366.7,47.6 366.8,50.8 366.9,63.5 366.9,48.2 367.0,77.8 367.1,40.3 367.1,64.3 367.2,50.4 367.3,72.6 367.3,66.0 367.4,66.8 367.5,51.8 367.5,77.1 367.6,52.8 367.7,53.8 367.7,48.3 367.8,76.8 367.9,53.2 367.9,65.6 368.0,55.1 368.1,67.4 368.1,55.3 368.2,68.8 368.3,47.5 368.3,68.6 368.4,52.6 368.5,62.8 368.5,53.9 368.6,62.9 368.7,54.9 368.7,70.1 368.8,47.4 368.9,63.1 368.9,45.8 369.0,82.0 369.1,52.1 369.1,68.3 369.2,54.6 369.3,51.6 369.3,47.5 369.4,63.9 369.5,42.4 369.5,73.8 369.6,52.5 369.7,76.8 369.7,43.2 369.8,62.4 369.9,54.9 369.9,48.2 370.0,68.4 370.1,62.1 370.1,66.4 370.2,61.8 370.3,56.9 370.3,63.5 370.4,67.0 370.5,61.6 370.5,50.7 370.6,63.6 370.7,64.3 370.7,62.7 370.8,52.2 370.9,62.6 370.9,51.9 371.0,66.7 371.1,66.0 371.1,68.8 371.2,48.2 371.3,62.9 371.3,51.0 371.4,63.4 371.5,55.3 371.5,62.2 371.6,49.4 371.7,68.5 371.7,51.9 371.8,66.9 371.9,53.0 371.9,66.7 372.0,50.7 372.1,66.5 372.1,65.6 372.2,64.6 372.3,65.7 372.3,62.5 372.4,52.1 372.5,64.0 372.5,52.9 372.6,72.5 372.7,48.3 372.7,67.2 372.8,71.9 372.9,61.8 372.9,53.6 373.0,55.8 373.1,56.3 373.1,68.7 373.2,55.9 373.3,62.9 373.3,50.0 373.4,60.9 373.5,55.0 373.5,63.1 373.6,53.2 373.7,60.6 373.7,54.5 373.8,63.3 373.9,55.2 373.9,67.8 374.0,49.5 374.1,63.6 374.1,64.3 374.2,62.8 374.3,51.4 374.3,52.4 374.4,50.1 374.5,68.6 374.5,51.3 374.6,62.5 374.7,52.5 374.7,47.0 374.8,48.9 374.9,61.2 374.9,46.8 375.0,71.5 375.1,50.1 375.1,64.1 375.2,51.6 375.3,65.0 375.3,67.5 375.4,65.1 375.5,51.8 375.5,61.8 375.6,47.3 375.7,64.0 375.7,51.9 375.8,62.9 375.9,49.4 375.9,61.6 376.0,62.6 376.1,63.2 376.1,49.1 376.2,62.6 376.3,52.3 376.3,61.1 376.4,61.7 376.5,60.0 376.5,48.6 376.6,62.0 376.7,52.2 376.7,61.1 376.8,53.1 376.9,60.0 376.9,52.7 377.0,64.3 377.1,48.8 377.1,59.5 377.2,54.2 377.3,60.2 377.3,55.0 377.4,61.1 377.5,51.8 377.5,54.6 377.6,48.8 377.7,64.6 377.7,54.1 377.8,66.5 377.9,52.9 377.9,64.7 378.0,49.7 378.1,61.5 378.1,53.8 378.2,69.7 378.3,52.4 378.3,65.7 378.4,51.7 378.5,61.6 378.5,51.6 378.6,51.6 378.7,53.6 378.7,61.2 378.8,49.0 378.9,52.5 378.9,60.6 379.0,60.2 379.1,52.7 379.1,54.5 379.2,52.7 379.3,63.4 379.3,52.5 379.4,62.1 379.5,53.4 379.5,58.9 379.6,52.0 379.7,58.1 379.7,54.4 379.8,59.9 379.9,53.1 379.9,60.1 380.0,54.0 380.1,64.5 380.1,52.9 380.2,61.8 380.3,60.5 380.3,60.5 380.4,66.4 380.5,59.1 380.5,62.3 380.6,59.2 380.7,50.8 380.7,50.5 380.8,51.8 380.9,61.4 380.9,63.9 381.0,63.7 381.1,64.9 381.1,64.3 381.2,49.0 381.3,63.1 381.3,52.6 381.4,62.5 381.5,50.8 381.5,63.0 381.6,50.9 381.7,65.7 381.7,49.0 381.8,64.2 381.9,46.4 381.9,68.0 382.0,50.1 382.1,52.5 382.1,50.5 382.2,64.5 382.3,48.6 382.3,51.0 382.4,52.2 382.5,68.5 382.5,47.6 382.6,63.3 382.7,45.0 382.7,61.1 382.8,49.8 382.9,60.5 382.9,52.7 383.0,61.6 383.1,46.4 383.1,64.0 383.2,63.5 383.3,66.5 383.3,45.1 383.4,62.9 383.5,48.4 383.5,62.7 383.6,52.9 383.7,62.6 383.7,39.8 383.8,66.6 383.9,46.2 383.9,66.0 384.0,65.0 384.1,61.7 384.1,51.6 384.2,62.6 384.3,53.9 384.3,65.6 384.4,50.4 384.5,63.3 384.5,44.5 384.6,66.8 384.7,45.0 384.7,66.2 384.8,47.8 384.9,63.4 384.9,43.5 385.0,63.9 385.1,44.5 385.1,70.1 385.2,47.4 385.3,48.6 385.3,52.0 385.4,71.8 385.5,48.4 385.5,49.3 385.6,49.3 385.7,81.7 385.7,37.9 385.8,62.7 385.9,39.3 385.9,63.8 386.0,47.1 386.1,62.1 386.1,44.9 386.2,61.2 386.3,51.4 386.3,63.1 386.4,52.5 386.5,68.9 386.5,48.0 386.6,52.4 386.7,49.2 386.7,66.9 386.8,33.3 386.9,70.1 386.9,50.6 387.0,66.3 387.1,45.3 387.1,68.2 387.2,52.2 387.3,70.1 387.3,64.6 387.4,73.1 387.5,49.4 387.5,72.2 387.6,51.9 387.7,72.3 387.7,52.1 387.8,66.2 387.9,49.7 387.9,69.6 388.0,49.4 388.1,61.2 388.1,43.7 388.2,50.7 388.3,51.4 388.3,64.2 388.4,37.8 388.5,68.1 388.5,49.3 388.6,64.8 388.7,46.2 388.7,46.9 388.8,72.4 388.9,71.0 388.9,51.1 389.0,65.3 389.1,40.8 389.1,72.0 389.2,49.8 389.3,48.7 389.3,51.0 389.4,67.0 389.5,75.3 389.5,62.6 389.6,49.2 389.7,65.9 389.7,63.0 389.8,67.3 389.9,51.7 389.9,73.5 390.0,39.2 390.1,64.2 390.1,52.0 390.2,80.3 390.3,51.3 390.3,63.8 390.4,50.4 390.5,67.7 390.5,49.3 390.6,77.3 390.7,47.5 390.7,67.9 390.8,67.6 390.9,70.1 390.9,48.8 391.0,66.9 391.1,51.4 391.1,63.6 391.2,46.5 391.3,67.1 391.3,63.4 391.4,63.2 391.5,43.1 391.5,39.1 391.6,38.6 391.7,63.0 391.7,64.8 391.8,71.3 391.9,47.5 391.9,36.4 392.0,39.5 392.1,65.4 392.1,46.8 392.2,75.7 392.3,75.3 392.3,65.6 392.4,44.1 392.5,72.9 392.5,42.5 392.6,75.5 392.7,37.3 392.7,32.3 392.8,38.5 392.9,63.0 392.9,32.1 393.0,81.2 393.1,48.7 393.1,63.6 393.2,34.6 393.3,76.4 393.3,46.9 393.4,66.0 393.5,41.2 393.5,73.8 393.6,35.8 393.7,81.6 393.7,34.7 393.8,77.0 393.9,34.9 393.9,29.0 394.0,47.1 394.1,66.6 394.1,44.0 394.2,73.1 394.3,34.4 394.3,69.6 394.4,42.8 394.5,73.8 394.5,46.6 394.6,78.5 394.7,44.7 394.7,71.2 394.8,40.4 394.9,61.6 394.9,67.4 395.0,50.8 395.1,50.0 395.1,71.7 395.2,73.5 395.3,36.8 395.3,49.5 395.4,78.0 395.5,31.3 395.5,65.0 395.6,48.1 395.7,64.0 395.7,48.2 395.8,73.7 395.9,30.3 395.9,80.6 396.0,41.7 396.1,84.5 396.1,34.9 396.2,68.6 396.3,45.7 396.3,67.5 396.4,61.9 396.5,66.6 396.5,50.1 396.6,66.2 396.7,50.2 396.7,71.5 396.8,49.6 396.9,64.7 396.9,52.3 397.0,65.4 397.1,53.2 397.1,65.9 397.2,41.9 397.3,62.2 397.3,51.2 397.4,61.8 397.5,51.4 397.5,71.6 397.6,52.0 397.7,64.7 397.7,49.5 397.8,60.9 397.9,47.7 397.9,66.1 398.0,51.6 398.1,61.8 398.1,52.6 398.2,62.7 398.3,47.6 398.3,64.5 398.4,50.8 398.5,65.1 398.5,51.9 398.6,60.1 398.7,63.6 398.7,43.6 398.8,51.4 398.9,76.0 398.9,63.2 399.0,68.4 399.1,51.5 399.1,52.8 399.2,48.6 399.3,66.7 399.3,49.5 399.4,69.8 399.5,47.3 399.5,46.5 399.6,45.9 399.7,71.7 399.7,47.4 399.8,79.4 399.9,32.2 399.9,62.7 400.0,66.7 400.1,68.4 400.1,39.8 400.2,64.8 400.3,71.6 400.3,82.6 400.4,73.1 400.5,64.5 400.5,41.7 400.6,65.3 400.7,51.5 400.7,64.9 400.8,52.6 400.9,62.9 400.9,50.7 401.0,48.2 401.1,51.7 401.1,68.2 401.2,51.5 401.3,53.5 401.3,52.8 401.4,69.8 401.5,48.0 401.5,48.3 401.6,50.1 401.7,63.1 401.7,46.8 401.8,67.5 401.9,51.7 401.9,66.5 402.0,54.0 402.1,60.5 402.1,49.8 402.2,62.3 402.3,55.0 402.3,62.1 402.4,61.4 402.5,63.2 402.5,49.4 402.6,64.2 402.7,52.4 402.7,61.8 402.8,62.1 402.9,64.3 402.9,49.6 403.0,61.4 403.1,60.6 403.1,62.6 403.2,54.6 403.3,65.1 403.3,46.0 403.4,68.3 403.5,53.1 403.5,70.2 403.6,49.3 403.7,66.3 403.7,51.3 403.8,61.5 403.9,51.1 403.9,73.9 404.0,45.7 404.1,62.8 404.1,50.7 404.2,63.6 404.3,49.2 404.3,68.3 404.4,48.1 404.5,63.5 404.5,40.0 404.6,73.9 404.7,50.9 404.7,66.1 404.8,51.6 404.9,73.5 404.9,66.3 405.0,63.5 405.1,50.1 405.1,68.2 405.2,52.0 405.3,70.6 405.3,46.8 405.4,73.3 405.5,48.2 405.5,63.7 405.6,67.1 405.7,67.4 405.7,53.2 405.8,61.4 405.9,52.2 405.9,48.2 406.0,65.3 406.1,68.9 406.1,43.8 406.2,67.7 406.3,50.0 406.3,55.3 406.4,48.1 406.5,63.4 406.5,48.3 406.6,69.2 406.7,65.9 406.7,68.8 406.8,53.5 406.9,65.5 406.9,49.2 407.0,39.0 407.1,52.3 407.1,65.5 407.2,50.1 407.3,66.8 407.3,52.2 407.4,64.9 407.5,53.6 407.5,72.0 407.6,49.4 407.7,66.7 407.7,40.6 407.8,71.0 407.9,52.1 407.9,50.7 408.0,50.6 408.1,76.4 408.1,45.0 408.2,66.0 408.3,50.8 408.3,75.1 408.4,52.4 408.5,67.7 408.5,38.2 408.6,66.5 408.7,81.9 408.7,42.6 408.8,50.1 408.9,68.9 408.9,28.6 409.0,28.0 409.1,32.5 409.1,44.1 409.2,50.3 409.3,66.8 409.3,45.6 409.4,84.3 409.5,30.9 409.5,87.4 409.6,31.2 409.7,67.4 409.7,42.7 409.8,49.4 409.9,43.6 409.9,75.7 410.0,36.8 410.1,87.0 410.1,37.0 410.2,74.3 410.3,44.3 410.3,65.5 410.4,47.2 410.5,71.6 410.5,46.3 410.6,79.1 410.7,66.3 410.7,67.4 410.8,54.3 410.9,45.1 410.9,63.8 411.0,71.9 411.1,51.0 411.1,76.9 411.2,49.4 411.3,64.4 411.3,67.0 411.4,73.9 411.5,52.1 411.5,68.7 411.6,49.3 411.7,45.1 411.7,53.0 411.8,82.8 411.9,49.5 411.9,49.2 412.0,49.1 412.1,73.6 412.1,45.8 412.2,69.0 412.3,63.2 412.3,68.5 412.4,47.6 412.5,68.7 412.5,47.2 412.6,71.4 412.7,47.7 412.7,62.8 412.8,50.8 412.9,63.3 412.9,49.7 413.0,62.7 413.1,64.0 413.1,64.5 413.2,51.3 413.3,63.8 413.3,53.3 413.4,62.0 413.5,50.6 413.5,65.7 413.6,52.6 413.7,63.2 413.7,52.3 413.8,65.9 413.9,50.6 413.9,63.0 414.0,44.6 414.1,65.8 414.1,52.3 414.2,68.4 414.3,53.3 414.3,61.2 414.4,54.1 414.5,66.0 414.5,68.8 414.6,60.8 414.7,54.9 414.7,61.9 414.8,53.0 414.9,64.1 414.9,52.0 415.0,60.2 415.1,55.2 415.1,51.6 415.2,53.5 415.3,62.4 415.3,64.8 415.4,62.5 415.5,51.0 415.5,70.3 415.6,52.1 415.7,74.9 415.7,48.5 415.8,68.7 415.9,50.2 415.9,61.5 416.0,48.2 416.1,63.9 416.1,48.9 416.2,66.7 416.3,48.7 416.3,69.2 416.4,52.7 416.5,54.8 416.5,64.5 416.6,53.0 416.7,61.7 416.7,65.4 416.8,53.0 416.9,63.6 416.9,54.3 417.0,68.8 417.1,55.1 417.1,71.0 417.2,53.3 417.3,65.8 417.3,52.4 417.4,67.1 417.5,55.2 417.5,62.2 417.6,55.3 417.7,60.9 417.7,55.6 417.8,56.6 417.9,65.5 417.9,61.3 418.0,62.1 418.1,63.1 418.1,55.6 418.2,62.7 418.3,54.8 418.4,64.4 418.4,53.4 418.5,66.3 418.6,51.1 418.6,55.9 418.7,55.8 418.8,69.8 418.8,53.3 418.9,64.0 419.0,45.2 419.0,75.2 419.1,49.1 419.2,75.2 419.2,50.7 419.3,65.7 419.4,49.0 419.4,66.3 419.5,52.1 419.6,62.6 419.6,49.4 419.7,71.5 419.8,55.2 419.8,71.1 419.9,48.0 420.0,44.6 420.0,65.2 420.1,63.7 420.2,52.0 420.2,64.4 420.3,48.8 420.4,65.9 420.4,51.4 420.5,67.5 420.6,48.5 420.6,70.6 420.7,53.8 420.8,47.8 420.8,50.4 420.9,70.8 421.0,53.0 421.0,53.3 421.1,56.7 421.2,64.6 421.2,53.9 421.3,62.0 421.4,53.3 421.4,57.2 421.5,54.6 421.6,61.6 421.6,65.2 421.7,68.8 421.8,49.5 421.8,68.1 421.9,61.5 422.0,65.3 422.0,68.6 422.1,46.2 422.2,51.6 422.2,69.0 422.3,64.8 422.4,68.6 422.4,52.7 422.5,67.8 422.6,55.0 422.6,54.4 422.7,53.1 422.8,64.4 422.8,50.3 422.9,62.4 423.0,53.8 423.0,63.7 423.1,56.0 423.2,63.1 423.2,50.4 423.3,64.9 423.4,51.9 423.4,63.3 423.5,47.0 423.6,54.1 423.6,53.6 423.7,62.0 423.8,49.6 423.8,64.2 423.9,53.3 424.0,71.0 424.0,45.7 424.1,64.0 424.2,49.9 424.2,70.5 424.3,50.9 424.4,64.1 424.4,53.1 424.5,74.1 424.6,50.0 424.6,66.7 424.7,48.2 424.8,65.4 424.8,48.2 424.9,54.1 425.0,77.1 425.0,66.6 425.1,45.3 425.2,64.9 425.2,45.1 425.3,53.7 425.4,69.4 425.4,50.8 425.5,52.5 425.6,64.3 425.6,53.7 425.7,67.9 425.8,50.7 425.8,73.9 425.9,49.8 426.0,75.1 426.0,46.2 426.1,63.2 426.2,52.7 426.2,70.0 426.3,43.0 426.4,67.8 426.4,51.2 426.5,71.5 426.6,47.9 426.6,63.6 426.7,49.7 426.8,73.9 426.8,52.4 426.9,63.3 427.0,53.2 427.0,62.9 427.1,52.9 427.2,61.6 427.2,53.2 427.3,61.3 427.4,66.9 427.4,69.8 427.5,64.3 427.6,53.4 427.6,50.8 427.7,71.3 427.8,45.7 427.8,61.4 427.9,53.8 428.0,63.4 428.0,52.5 428.1,67.4 428.2,48.4 428.2,50.0 428.3,49.8 428.4,62.9 428.4,50.5 428.5,60.9 428.6,53.1 428.6,67.0 428.7,53.9 428.8,69.7 428.8,44.8 428.9,68.4 429.0,53.1 429.0,89.0 429.1,47.3 429.2,45.2 429.2,49.6 429.3,61.7 429.4,47.8 429.4,38.4 429.5,50.8 429.6,64.6 429.6,48.3 429.7,65.0 429.8,68.4 429.8,40.8 429.9,38.0 430.0,39.9 430.0,51.1 430.1,63.9 430.2,49.5 430.2,62.2 430.3,47.6 430.4,64.5 430.4,47.5 430.5,61.6 430.6,42.8 430.6,66.3 430.7,48.5 430.8,75.6 430.8,40.7 430.9,69.6 431.0,47.4 431.0,46.6 431.1,36.7 431.2,69.7 431.2,41.8 431.3,74.3 431.4,35.8 431.4,47.4 431.5,33.7 431.6,65.8 431.6,42.8 431.7,69.3 431.8,39.4 431.8,76.8 431.9,33.2 432.0,73.7 432.0,48.3 432.1,78.6 432.2,64.4 432.2,65.0 432.3,40.5 432.4,70.2 432.4,46.4 432.5,73.0 432.6,31.0 432.6,77.2 432.7,70.9 432.8,63.2 432.8,38.9 432.9,72.7 433.0,40.2 433.0,62.7 433.1,50.0 433.2,65.1 433.2,43.7 433.3,72.0 433.4,37.1 433.4,68.7 433.5,37.2 433.6,63.1 433.6,48.8 433.7,62.3 433.8,42.4 433.8,64.3 433.9,70.4 434.0,66.2 434.0,43.3 434.1,70.3 434.2,42.2 434.2,68.0 434.3,31.6 434.4,68.0 434.4,38.4 434.5,74.9 434.6,42.4 434.6,73.4 434.7,37.4 434.8,63.0 434.8,46.6 434.9,49.0 435.0,49.5 435.0,20.0 435.1,65.5 435.2,66.7 435.2,46.9 435.3,62.9 435.4,40.0 435.4,67.1 435.5,41.7 435.6,59.4 435.6,40.8 435.7,62.8 435.8,50.3 435.8,63.6 435.9,39.8 436.0,69.7 436.0,42.1 436.1,62.6 436.2,63.8 436.2,67.2 436.3,36.9 436.4,62.5 436.4,64.5 436.5,65.2 436.6,59.9 436.6,69.4 436.7,47.6 436.8,69.2 436.8,38.1 436.9,69.4 437.0,42.3 437.0,39.9 437.1,41.8 437.2,73.6 437.2,45.3 437.3,45.9 437.4,31.5 437.4,78.7 437.5,41.3 437.6,62.3 437.6,39.9 437.7,76.6 437.8,34.9 437.8,71.2 437.9,25.1 438.0,78.2 438.0,42.1 438.1,73.4 438.2,61.7 438.2,42.8 438.3,76.8 438.4,65.2 438.4,45.2 438.5,69.8 438.6,34.7 438.6,70.6 438.7,33.1 438.8,76.5 438.8,63.5 438.9,63.7 439.0,49.5 439.0,35.6 439.1,72.9 439.2,65.3 439.2,50.9 439.3,61.7 439.4,46.2 439.4,62.7 439.5,46.9 439.6,41.0 439.6,46.0 439.7,64.1 439.8,45.3 439.8,66.6 439.9,33.3 440.0,76.9 440.0,23.0 440.1,65.5 440.2,47.2 440.2,79.2 440.3,30.1 440.4,72.0 440.4,38.7 440.5,70.0 440.6,39.6 440.6,74.0 440.7,43.0 440.8,85.8 440.8,40.3 440.9,71.8 441.0,36.7 441.0,82.8 441.1,50.3 441.2,78.1 441.2,34.6 441.3,74.9 441.4,45.0 441.4,70.2 441.5,44.6 441.6,85.9 441.6,43.5 441.7,73.5 441.8,45.5 441.8,71.0 441.9,76.9 442.0,66.3 442.0,44.2 442.1,68.9 442.2,39.4 442.2,46.2 442.3,37.9 442.4,81.1 442.4,47.4 442.5,44.9 442.6,47.7 442.6,47.1 442.7,71.2 442.8,73.1 442.8,45.6 442.9,41.6 443.0,51.7 443.0,63.7 443.1,50.3 443.2,64.1 443.2,52.2 443.3,65.5 443.4,52.1 443.4,48.1 443.5,49.7 443.6,67.0 443.6,42.8 443.7,69.6 443.8,34.2 443.8,78.5 443.9,50.2 444.0,65.6 444.0,62.8 444.1,65.0 444.2,45.2 444.2,66.2 444.3,39.6 444.4,72.5 444.4,49.8 444.5,73.0 444.6,51.2 444.6,64.2 444.7,48.5 444.8,64.2 444.8,42.9 444.9,46.8 445.0,43.6 445.0,66.7 445.1,44.3 445.2,71.5 445.2,46.4 445.3,38.1 445.4,43.3 445.4,76.3 445.5,47.0 445.6,73.9 445.6,38.5 445.7,62.8 445.8,42.1 445.8,62.7 445.9,47.4 446.0,65.0 446.0,50.8 446.1,71.4 446.2,47.1 446.2,63.3 446.3,34.2 446.4,66.8 446.4,40.9 446.5,72.5 446.6,44.6 446.6,49.1 446.7,44.7 446.8,64.4 446.8,40.8 446.9,81.7 447.0,48.6 447.0,65.4 447.1,38.8 447.2,37.1 447.2,44.8 447.3,69.0 447.4,78.3 447.4,73.5 447.5,50.0 447.6,62.1 447.6,42.9 447.7,43.3 447.8,47.5 447.8,63.4 447.9,45.2 448.0,61.2 448.0,51.2 448.1,67.1 448.2,44.1 448.2,70.7 448.3,64.9 448.4,50.1 448.4,49.3 448.5,49.8 448.6,43.9 448.6,61.9 448.7,47.1 448.8,40.8 448.8,47.3 448.9,63.4 449.0,49.3 449.0,61.0 449.1,49.8 449.2,63.6 449.2,49.1 449.3,62.8 449.4,49.7 449.4,66.2 449.5,44.8 449.6,69.3 449.6,62.7 449.7,62.4 449.8,39.5 449.8,67.2 449.9,46.9 450.0,60.6 450.0,50.1 450.1,60.2 450.2,44.3 450.2,64.4 450.3,63.9 450.4,61.7 450.4,42.3 450.5,63.9 450.6,48.1 450.6,46.0 450.7,70.1 450.8,61.1 450.8,64.9 450.9,67.7 451.0,38.8 451.0,23.0 451.1,64.3 451.2,79.2 451.2,46.9 451.3,49.3 451.4,40.1 451.4,62.1 451.5,81.0 451.6,46.9 451.6,43.9 451.7,61.4 451.8,46.1 451.8,32.5 451.9,49.6 452.0,71.2 452.0,46.0 452.1,59.2 452.2,42.7 452.2,49.4 452.3,49.3 452.4,66.8 452.4,74.6 452.5,61.9 452.6,65.4 452.6,69.2 452.7,78.0 452.8,66.8 452.8,40.8 452.9,72.0 453.0,42.2 453.0,60.7 453.1,46.5 453.2,47.7 453.2,46.6 453.3,62.1 453.4,45.7 453.4,78.4 453.5,30.4 453.6,76.5 453.6,41.7 453.7,66.0 453.8,46.8 453.8,77.1 453.9,35.7 454.0,71.8 454.0,47.7 454.1,63.3 454.2,30.4 454.2,69.8 454.3,41.6 454.4,70.2 454.4,41.3 454.5,40.2 454.6,61.2 454.6,43.7 454.7,45.6 454.8,65.5 454.8,47.4 454.9,61.5 455.0,47.3 455.0,61.4 455.1,46.2 455.2,58.1 455.2,49.3 455.3,65.1 455.4,42.9 455.4,62.1 455.5,46.6 455.6,58.6 455.6,61.1 455.7,62.1 455.8,46.2 455.8,57.2 455.9,51.2 456.0,57.3 456.0,49.7 456.1,57.2 456.2,49.5 456.2,61.5 456.3,50.1 456.4,60.1 456.4,43.0 456.5,57.8 456.6,40.5 456.6,67.3 456.7,46.7 456.8,61.6 456.8,48.2 456.9,57.8 457.0,61.2 457.0,67.2 457.1,42.7 457.2,59.9 457.2,35.7 457.3,37.3 457.4,49.4 457.4,65.3 457.5,47.4 457.6,65.6 457.6,62.0 457.7,59.0 457.8,50.1 457.8,51.8 457.9,48.9 458.0,47.6 458.0,48.6 458.1,57.7 458.2,44.9 458.2,62.9 458.3,51.6 458.4,48.4 458.4,45.6 458.5,38.3 458.6,47.1 458.6,67.8 458.7,48.6 458.8,66.2 458.8,69.1 458.9,62.2 459.0,48.4 459.0,70.2 459.1,49.7 459.2,65.2 459.2,48.9 459.3,58.1 459.4,47.9 459.4,63.2 459.5,46.2 459.6,64.3 459.6,45.7 459.7,61.7 459.8,52.0 459.8,64.4 459.9,51.2 460.0,42.6 460.0,48.6 460.1,61.9 460.2,51.9 460.2,66.8 460.3,51.6 460.4,49.9 460.4,47.1 460.5,57.7 460.6,62.4 460.6,62.2 460.7,51.8 460.8,43.9 460.8,47.8 460.9,58.1 461.0,60.1 461.0,62.3 461.1,50.5 461.2,57.6 461.2,49.3 461.3,63.6 461.4,49.8 461.4,60.9 461.5,43.7 461.6,50.1 461.6,49.2 461.7,58.3 461.8,64.3 461.8,66.2 461.9,66.1 462.0,71.1 462.0,38.4 462.1,64.2 462.2,50.9 462.2,70.6 462.3,47.9 462.4,59.4 462.4,42.1 462.5,41.6 462.6,42.3 462.6,58.2 462.7,44.3 462.8,58.5 462.8,52.3 462.9,60.3 463.0,52.2 463.0,57.4 463.1,50.6 463.2,51.1 463.2,52.3 463.3,64.0 463.4,47.3 463.4,60.5 463.5,61.3 463.6,62.1 463.6,47.0 463.7,64.8 463.8,47.6 463.8,61.4 463.9,49.6 464.0,59.0 464.0,42.2 464.1,68.3 464.2,39.8 464.2,61.6 464.3,63.5 464.4,61.6 464.4,50.7 464.5,64.7 464.6,49.3 464.6,57.7 464.7,59.4 464.8,65.8 464.8,50.3 464.9,67.8 465.0,62.1 465.0,63.8 465.1,51.0 465.2,59.7 465.2,51.1 465.3,47.9 465.4,49.8 465.4,57.2 465.5,50.2 465.6,57.4 465.6,52.4 465.7,57.8 465.8,48.0 465.8,58.1 465.9,60.7 466.0,61.9 466.0,61.6 466.1,61.5 466.2,46.1 466.2,61.7 466.3,48.9 466.4,59.3 466.4,59.1 466.5,59.5 466.6,63.1 466.6,59.2 466.7,60.1 466.8,59.0 466.8,51.8 466.9,58.5 467.0,50.4 467.0,59.7 467.1,49.7 467.2,56.5 467.2,49.5 467.3,58.0 467.4,48.4 467.4,61.5 467.5,52.7 467.6,60.4 467.6,51.0 467.7,63.2 467.8,57.7 467.8,57.1 467.9,52.3 468.0,62.3 468.0,52.4 468.1,60.9 468.2,49.5 468.2,57.7 468.3,47.9 468.4,49.7 468.4,59.0 468.5,59.7 468.6,48.5 468.6,60.1 468.7,47.9 468.8,62.6 468.8,51.6 468.9,61.7 469.0,49.8 469.0,60.6 469.1,49.3 469.2,61.0 469.2,49.6 469.3,47.7 469.4,40.8 469.4,62.8 469.5,62.1 469.6,58.3 469.6,42.9 469.7,41.1 469.8,43.9 469.8,64.0 469.9,44.8 470.0,73.9 470.0,37.7 470.1,75.5 470.2,47.8 470.2,78.2 470.3,78.6 470.4,31.4 470.4,29.6 470.5,64.8 470.6,38.2 470.6,69.8 470.7,46.7 470.8,64.8 470.8,35.5 470.9,45.5 471.0,29.7 471.0,64.9 471.1,42.1 471.2,68.6 471.2,29.6 471.3,73.8 471.4,42.8 471.4,60.1 471.5,44.6 471.6,64.3 471.6,39.7 471.7,63.3 471.8,46.5 471.8,83.6 471.9,43.6 472.0,63.9 472.0,34.8 472.1,65.9 472.2,47.1 472.2,62.3 472.3,34.2 472.4,67.3 472.4,29.9 472.5,67.2 472.6,28.1 472.6,67.9 472.7,42.7 472.8,62.2 472.8,43.4 472.9,78.4 473.0,38.3 473.0,73.5 473.1,47.0 473.2,73.9 473.2,26.3 473.3,69.2 473.4,34.2 473.4,44.4 473.5,43.5 473.6,63.6 473.6,45.4 473.7,75.8 473.8,42.3 473.8,62.3 473.9,33.3 474.0,61.4 474.0,46.1 474.1,64.2 474.2,44.7 474.2,45.6 474.3,49.8 474.4,62.0 474.4,49.9 474.5,67.3 474.6,49.8 474.6,73.9 474.7,48.7 474.8,39.6 474.8,48.1 474.9,63.0 475.0,40.6 475.0,66.8 475.1,35.9 475.2,63.7 475.2,38.2 475.3,60.7 475.4,49.7 475.4,67.6 475.5,49.4 475.6,48.5 475.6,63.6 475.7,48.5 475.8,49.9 475.8,40.8 475.9,51.2 476.0,59.1 476.0,68.1 476.1,73.9 476.2,49.1 476.2,66.3 476.3,41.3 476.4,67.6 476.4,42.4 476.5,74.3 476.6,42.4 476.6,80.2 476.7,48.9 476.8,64.9 476.8,35.3 476.9,71.2 477.0,38.8 477.0,79.1 477.1,47.4 477.2,65.4 477.2,58.1 477.3,58.9 477.4,51.7 477.4,47.3 477.5,48.4 477.6,57.2 477.6,52.1 477.7,60.5 477.8,46.2 477.8,65.0 477.9,61.7 478.0,63.9 478.0,47.1 478.1,35.4 478.2,45.9 478.2,44.3 478.3,38.7 478.4,71.9 478.4,77.1 478.5,70.4 478.6,43.7 478.6,66.6 478.7,45.2 478.8,60.9 478.8,41.1 478.9,63.8 479.0,42.3 479.0,65.9 479.1,47.2 479.2,62.6 479.2,47.7 479.3,60.1 479.4,46.0 479.4,61.1 479.5,44.7 479.6,60.1 479.6,41.6 479.7,63.4 479.8,44.9 479.8,38.7 479.9,40.8 480.0,41.8 480.0,62.6 480.1,60.6 480.2,42.7 480.2,63.7 480.3,46.5 480.4,38.3 480.4,43.3 480.5,63.4 480.6,41.0 480.6,67.7 480.7,48.1 480.8,65.2 480.8,42.7 480.9,60.3 481.0,47.6 481.0,57.1 481.1,49.3 481.2,60.0 481.2,41.8 481.3,71.2 481.4,38.0 481.4,68.7 481.5,35.2 481.6,58.5 481.6,59.2 481.7,71.4 481.8,47.2 481.8,74.2 481.9,43.3 482.0,71.5 482.0,18.0 482.1,64.1 482.2,23.6 482.2,80.2 482.3,27.3 482.4,81.6 482.4,24.5 482.5,78.9 482.6,28.5 482.6,63.3 482.7,43.5 482.8,64.3 482.8,41.0 482.9,73.3 483.0,66.2 483.0,74.7 483.1,76.0 483.2,31.3 483.2,41.4 483.3,81.6 483.4,44.9 483.4,76.0 483.5,23.2 483.6,74.6 483.6,29.3 483.7,64.6 483.8,32.4 483.8,67.7 483.9,25.6 484.0,68.3 484.0,66.4 484.1,78.0 484.2,44.5 484.2,41.2 484.3,29.4 484.4,71.7 484.4,33.0 484.5,66.7 484.6,33.6 484.6,66.4 484.7,44.8 484.8,61.3 484.8,45.8 484.9,60.5 485.0,42.9 485.0,73.8 485.1,39.5 485.2,78.6 485.2,30.6 485.3,66.7 485.4,60.3 485.4,68.0 485.5,43.7 485.6,35.9 485.6,39.4 485.7,62.4 485.8,42.9 485.8,66.7 485.9,39.4 486.0,45.9 486.0,45.7 486.1,59.1 486.2,42.9 486.2,61.8 486.3,46.6 486.4,61.0 486.4,49.2 486.5,58.3 486.6,37.5 486.6,43.5 486.7,46.4 486.8,61.8 486.8,39.4 486.9,63.9 487.0,35.5 487.0,37.9 487.1,47.0 487.2,72.2 487.2,41.1 487.3,72.4 487.4,70.0 487.4,82.6 487.5,25.1 487.6,62.3 487.6,41.6 487.7,78.1 487.8,27.6 487.8,61.9 487.9,47.9 488.0,63.1 488.0,40.9 488.1,61.6 488.2,39.6 488.2,70.9 488.3,41.2 488.4,66.9 488.4,47.4 488.5,59.5 488.6,59.6 488.6,61.1 488.7,50.1 488.8,63.2 488.8,42.7 488.9,63.2 489.0,43.8 489.0,38.2 489.1,37.5 489.2,47.5 489.2,60.9 489.3,67.4 489.4,40.9 489.4,72.3 489.5,37.6 489.6,63.8 489.6,40.5 489.7,69.9 489.8,43.1 489.8,63.8 489.9,48.0 490.0,61.5 490.0,47.9 490.1,36.9 490.2,36.0 490.2,68.5 490.3,48.5 490.4,48.1 490.4,45.4 490.5,73.3 490.6,44.7 490.6,58.5 490.7,42.5 490.8,44.3 490.8,37.2 490.9,64.7 491.0,43.0 491.0,67.0 491.1,47.9 491.2,66.4 491.2,46.4 491.3,61.1 491.4,43.9 491.4,57.4 491.5,59.0 491.6,64.6 491.6,36.6 491.7,61.0 491.8,49.1 491.8,40.2 491.9,43.4 492.0,56.2 492.0,47.6 492.1,60.0 492.2,62.1 492.2,58.1 492.3,66.1 492.4,59.3 492.4,46.5 492.5,58.2 492.6,40.5 492.6,61.3 492.7,48.9 492.8,45.6 492.8,61.8 492.9,57.1 493.0,48.5 493.0,85.0 493.1,42.5 493.2,62.6 493.2,46.0 493.3,46.2 493.4,36.5 493.4,47.3 493.5,47.6 493.6,63.4 493.6,45.1 493.7,64.8 493.8,36.9 493.8,60.7 493.9,46.5 494.0,59.1 494.0,43.5 494.1,64.4 494.2,44.5 494.2,70.4 494.3,35.6 494.4,59.3 494.4,56.9 494.5,58.7 494.6,39.3 494.6,68.1 494.7,46.8 494.8,55.3 494.8,48.9 494.9,45.8 495.0,44.2 495.0,60.3 495.1,60.5 495.2,65.6 495.2,43.6 495.3,58.6 495.4,45.7 495.4,63.2 495.5,33.4 495.6,67.7 495.6,57.9 495.7,59.4 495.8,68.4 495.8,69.8 495.9,41.5 496.0,71.3 496.0,42.3 496.1,63.2 496.2,48.7 496.2,64.4 496.3,46.2 496.4,64.2 496.4,43.7 496.5,45.5 496.6,59.8 496.6,70.1 496.7,63.8 496.8,68.2 496.8,48.1 496.9,62.0 497.0,60.7 497.0,69.8 497.1,46.6 497.2,59.7 497.2,37.9 497.3,63.0 497.4,37.7 497.4,61.2 497.5,49.5 497.6,63.5 497.6,43.7 497.7,49.4 497.8,60.1 497.8,60.1 497.9,49.4 498.0,60.9 498.0,44.9 498.1,66.7 498.2,52.3 498.2,64.6 498.3,44.6 498.4,64.3 498.4,47.1 498.5,62.2 498.6,47.3 498.6,63.7 498.7,52.2 498.8,62.4 498.8,45.1 498.9,62.4 499.0,52.0 499.0,62.1 499.1,50.2 499.2,60.1 499.2,52.7 499.3,66.4 499.4,42.2 499.4,64.0 499.5,47.3 499.6,60.2 499.6,50.3 499.7,66.1 499.8,46.1 499.8,66.2 499.9,68.6 500.0,50.7 500.0,59.5 500.1,43.4 500.2,44.4 500.2,66.7 500.3,47.2 500.4,58.8 500.4,63.3 500.5,61.4 500.6,47.3 500.6,62.0 500.7,52.3 500.8,59.1 500.8,51.7 500.9,59.2 501.0,52.5 501.0,57.7 501.1,52.2 501.2,60.1 501.2,53.7 501.3,59.2 501.4,48.3 501.4,59.3 501.5,49.6 501.6,59.8 501.6,51.5 501.7,60.6 501.8,49.6 501.8,59.6 501.9,52.3 502.0,63.3 502.0,61.6 502.1,61.5 502.2,52.8 502.2,59.7 502.3,50.3 502.4,61.5 502.4,47.7 502.5,61.2 502.6,49.1 502.6,60.1 502.7,61.0 502.8,59.7 502.8,50.8 502.9,61.8 503.0,50.1 503.0,66.1 503.1,59.6 503.2,66.1 503.2,48.2 503.3,66.7 503.4,47.5 503.4,50.0 503.5,50.7 503.6,62.0 503.6,51.5 503.7,62.0 503.8,44.4 503.8,60.8 503.9,46.4 504.0,65.5 504.0,51.0 504.1,45.7 504.2,45.7 504.2,59.3 504.3,50.0 504.4,59.6 504.4,52.3 504.5,61.4 504.6,46.6 504.6,57.4 504.7,51.9 504.8,50.8 504.8,49.8 504.9,49.6 505.0,51.6 505.0,61.4 505.1,49.2 505.2,57.1 505.2,61.5 505.3,58.0 505.4,52.3 505.4,61.3 505.5,50.0 505.6,52.6 505.6,50.2 505.7,56.4 505.8,52.2 505.8,48.5 505.9,55.5 506.0,51.8 506.0,51.5 506.1,57.7 506.2,50.7 506.2,57.0 506.3,58.1 506.4,57.0 506.4,52.0 506.5,55.0 506.6,51.7 506.6,55.1 506.7,50.7 506.8,55.5 506.8,51.8 506.9,56.3 507.0,50.8 507.0,56.3 507.1,50.3 507.2,55.2 507.2,52.1 507.3,55.3 507.4,48.5 507.4,52.2 507.5,54.4 507.6,55.2 507.6,52.1 507.7,54.0 507.8,49.6 507.8,51.4 507.9,56.7 508.0,54.0 508.0,50.4 508.1,53.7 508.2,50.8 508.2,53.8 508.3,51.3 508.4,54.0 508.4,53.6 508.5,52.0 508.6,52.1 508.6,53.3 508.7,51.6 508.8,52.9 508.8,51.4 508.9,53.1 509.0,52.1 509.0,52.1 509.1,52.0 509.2,52.7 509.2,52.6 509.3,52.7 509.4,52.9 509.4,52.8 509.5,52.1 509.6,52.9 509.6,52.2 509.7,52.9 509.8,52.7 509.8,52.8 509.9,52.9 510.0,52.7 510.0,51.7 510.1,53.0 510.2,52.1 510.2,52.7 510.3,53.0 510.4,53.0 510.4,52.1 510.5,53.1 510.6,52.0 510.6,53.3 510.7,52.2 510.8,52.9 510.8,51.9 510.9,53.1 511.0,53.2 511.0,52.2 511.1,52.0 511.2,52.9 511.2,52.1 511.3,52.7 511.4,52.0 511.4,53.2 511.5,51.6 511.6,53.3 511.6,51.9 511.7,53.0 511.8,51.4 511.8,52.8 511.9,52.0 512.0,53.3 512.0,51.8 512.1,53.0 512.2,51.9 512.2,52.8 512.3,51.6 512.4,52.7 512.4,52.0 512.5,53.0 512.6,52.1 512.6,52.8 512.7,52.0 512.8,51.8 512.8,51.8 512.9,52.2 513.0,51.8 513.0,52.0 513.1,52.1 513.2,53.0 513.2,52.0 513.3,53.0 513.4,52.0 513.4,52.3 513.5,52.1 513.6,52.8 513.6,51.9 513.7,53.1 513.8,51.7 513.8,53.1 513.9,51.7 514.0,52.8 514.0,52.0 514.1,53.4 514.2,51.4 514.2,53.6 514.3,51.9 514.4,53.5 514.4,52.0 514.5,52.9 514.6,51.8 514.6,52.0 514.7,53.7 514.8,52.1 514.8,52.3 514.9,53.4 515.0,53.3 515.0,51.9 515.1,52.3 515.2,53.0 515.2,53.0 515.3,52.7 515.4,52.7 515.4,53.5 515.5,52.3 515.6,52.8 515.6,52.2 515.7,53.5 515.8,52.0 515.8,52.8 515.9,53.0 516.0,53.4 516.0,51.8 516.1,52.8 516.2,51.9 516.2,53.1 516.3,52.0 516.4,52.3 516.4,51.8 516.5,52.2 516.6,52.0 516.6,52.1 516.7,51.8 516.8,52.8 516.8,53.4 516.9,52.3 517.0,52.1 517.0,52.9 517.1,52.1 517.2,53.1 517.2,52.3 517.3,52.8 517.4,52.2 517.4,52.9 517.5,52.8 517.6,52.9 517.6,53.0 517.7,51.9 517.8,52.1 517.8,53.0 517.9,51.6 518.0,52.9 518.0,52.0 518.1,52.9 518.2,52.1 518.2,53.4 518.3,51.5 518.4,53.1 518.4,51.9 518.5,53.0 518.6,51.5 518.6,53.1 518.7,52.0 518.8,53.4 518.8,52.3 518.9,53.1 519.0,53.2 519.0,52.2 519.1,53.4 519.2,53.5 519.2,51.4 519.3,53.3 519.4,52.1 519.4,53.5 519.5,53.5 519.6,53.9 519.6,52.4 519.7,53.3 519.8,51.3 519.8,53.6 519.9,52.1 520.0,55.2 520.0,54.7 520.1,55.6 520.2,51.9 520.2,54.4 520.3,51.9 520.4,51.9 520.4,50.9 520.5,56.5 520.6,50.9 520.6,50.7 520.7,48.2 520.8,55.5 520.8,51.2 520.9,56.1 521.0,55.8 521.0,54.9 521.1,50.2 521.2,55.7 521.2,54.1 521.3,57.3 521.4,50.5 521.4,54.2 521.5,48.7 521.6,56.1 521.6,54.9 521.7,54.6 521.8,50.0 521.8,54.6 521.9,51.4 522.0,55.8 522.0,52.1 522.1,54.7 522.2,51.4 522.2,54.9 522.3,49.4 522.4,50.1 522.4,49.9 522.5,54.8 522.6,55.5 522.6,57.0 522.7,49.4 522.8,45.7 522.8,50.0 522.9,55.6 523.0,49.3 523.0,55.9 523.1,51.0 523.2,55.2 523.2,49.6 523.3,60.5 523.4,50.9 523.4,49.4 523.5,47.4 523.6,51.0 523.6,58.3 523.7,55.4 523.8,47.5 523.8,57.0 523.9,46.1 524.0,56.0 524.0,47.3 524.1,56.7 524.2,48.7 524.2,57.1 524.3,51.1 524.4,55.1 524.4,49.2 524.5,55.8 524.6,50.9 524.6,55.3 524.7,48.2 524.8,55.0 524.8,50.3 524.9,55.1 525.0,47.4 525.0,55.7 525.1,51.6 525.2,47.6 525.2,49.6 525.3,51.4 525.4,49.0 525.4,58.3 525.5,50.5 525.6,57.0 525.6,49.3 525.7,57.7 525.8,49.2 525.8,55.5 525.9,49.9 526.0,57.6 526.0,47.9 526.1,49.1 526.2,46.6 526.2,57.5 526.3,48.4 526.4,58.2 526.4,45.0 526.5,59.0 526.6,65.0 526.6,59.3 526.7,43.0 526.8,61.7 526.8,59.1 526.9,57.1 527.0,49.4 527.0,57.4 527.1,49.0 527.2,59.7 527.2,48.5 527.3,51.7 527.4,51.9 527.4,46.7 527.5,58.1 527.6,57.2 527.6,50.3 527.7,60.9 527.8,47.0 527.8,58.5 527.9,46.5 528.0,56.7 528.0,52.0 528.1,55.8 528.2,50.0 528.2,56.7 528.3,51.3 528.4,61.1 528.4,52.3 528.5,58.6 528.6,47.5 528.6,48.6 528.7,57.2 528.8,60.8 528.8,47.9 528.9,59.7 529.0,50.0 529.0,59.5 529.1,50.0 529.2,64.0 529.2,45.7 529.3,46.0 529.4,51.6 529.4,61.5 529.5,42.9 529.6,62.0 529.6,45.7 529.7,63.5 529.8,45.5 529.8,65.5 529.9,46.3 530.0,43.5 530.0,57.4 530.1,61.6 530.2,57.2 530.2,65.4 530.3,50.1 530.4,50.8 530.4,49.7 530.5,69.6 530.6,45.9 530.6,45.8 530.7,47.1 530.8,64.9 530.8,46.2 530.9,57.6 531.0,65.0 531.0,59.8 531.1,48.7 531.2,70.9 531.2,47.8 531.3,42.7 531.4,48.6 531.4,63.0 531.5,42.4 531.6,59.4 531.6,45.4 531.7,59.6 531.8,44.5 531.8,64.7 531.9,48.1 532.0,69.0 532.0,59.1 532.1,43.5 532.2,46.3 532.2,59.2 532.3,43.4 532.4,61.9 532.4,36.6 532.5,69.1 532.6,40.5 532.6,66.2 532.7,45.4 532.8,46.9 532.8,44.7 532.9,60.7 533.0,47.6 533.0,29.0 533.1,64.4 533.2,72.6 533.2,43.7 533.3,71.6 533.4,38.2 533.4,72.7 533.5,44.3 533.6,73.7 533.6,46.8 533.7,71.0 533.8,35.1 533.8,71.5 533.9,65.9 534.0,80.8 534.0,88.0 534.1,48.8 534.2,47.0 534.2,41.7 534.3,46.0 534.4,63.8 534.4,49.2 534.5,65.6 534.6,39.9 534.6,73.7 534.7,51.2 534.8,68.0 534.8,80.7 534.9,67.6 535.0,49.1 535.0,73.6 535.1,44.1 535.2,61.6 535.2,43.1 535.3,63.9 535.4,38.4 535.4,71.3 535.5,50.4 535.6,67.5 535.6,42.6 535.7,65.5 535.8,45.9 535.8,64.0 535.9,41.6 536.0,61.4 536.0,48.3 536.1,63.1 536.2,71.2 536.2,61.1 536.3,46.1 536.4,78.3 536.4,41.5 536.5,69.9" fill="none" stroke="#EDB120" stroke-width="0.60" stroke-linejoin="round"/>
<path d="M63.4,66V90" fill="none" stroke="#EDB120" stroke-width="1.1"/>
<text x="63.5" y="142.0" text-anchor="middle" font-size="11">0</text>
<text x="122.6" y="142.0" text-anchor="middle" font-size="11">5</text>
<text x="181.8" y="142.0" text-anchor="middle" font-size="11">10</text>
<text x="240.9" y="142.0" text-anchor="middle" font-size="11">15</text>
<text x="300.0" y="142.0" text-anchor="middle" font-size="11">20</text>
<text x="359.1" y="142.0" text-anchor="middle" font-size="11">25</text>
<text x="418.2" y="142.0" text-anchor="middle" font-size="11">30</text>
<text x="477.4" y="142.0" text-anchor="middle" font-size="11">35</text>
<text x="536.5" y="142.0" text-anchor="middle" font-size="11">40</text>
<text x="49.0" y="21.1" text-anchor="end" font-size="11">2</text>
<text x="59.6" y="16.1" text-anchor="end" font-size="8.8">14</text>
<text x="49.0" y="49.1" text-anchor="end" font-size="11">2</text>
<text x="59.6" y="44.1" text-anchor="end" font-size="8.8">13</text>
<text x="59.6" y="75.6" text-anchor="end" font-size="11">0</text>
<text x="49.0" y="104.9" text-anchor="end" font-size="11">−2</text>
<text x="59.6" y="99.9" text-anchor="end" font-size="8.8">13</text>
<text x="49.0" y="132.9" text-anchor="end" font-size="11">−2</text>
<text x="59.6" y="127.9" text-anchor="end" font-size="8.8">14</text>
<text transform="translate(16.8,70.9) rotate(-90)" text-anchor="middle" font-size="12.3">EMG (ADC units)</text>
<text transform="translate(31.1,70.9) rotate(-90)" text-anchor="middle" font-size="12.3">biceps brachii</text>
<rect x="63.5" y="171.5" width="473.0" height="111.8" stroke="#262626" stroke-width="0.67" fill="none"/>
<g stroke="#262626" stroke-width="0.67" fill="none">
<path d="M122.6,283.3v-4.7M122.6,171.5v4.7M181.8,283.3v-4.7M181.8,171.5v4.7M240.9,283.3v-4.7M240.9,171.5v4.7M300.0,283.3v-4.7M300.0,171.5v4.7M359.1,283.3v-4.7M359.1,171.5v4.7M418.2,283.3v-4.7M418.2,171.5v4.7M477.4,283.3v-4.7M477.4,171.5v4.7M63.5,199.4h4.7M536.5,199.4h-4.7M63.5,227.4h4.7M536.5,227.4h-4.7M63.5,255.4h4.7M536.5,255.4h-4.7"/>
</g>
<path d="M63.5,211.3 63.6,209.6 63.7,211.5 63.7,209.7 63.8,211.3 63.9,209.9 64.0,211.3 64.0,209.0 64.1,210.9 64.2,209.8 64.3,210.0 64.3,209.4 64.4,211.3 64.5,209.5 64.6,211.1 64.7,209.4 64.7,211.7 64.8,209.2 64.9,211.3 65.0,209.3 65.0,211.2 65.1,209.0 65.2,211.1 65.3,209.4 65.3,211.0 65.4,209.6 65.5,211.1 65.6,209.4 65.7,209.7 65.7,209.4 65.8,211.2 65.9,209.6 66.0,210.7 66.0,209.5 66.1,211.1 66.2,211.1 66.3,211.0 66.3,209.6 66.4,209.8 66.5,209.9 66.6,210.8 66.7,209.6 66.7,210.6 66.8,209.8 66.9,210.6 67.0,209.8 67.0,209.6 67.1,209.6 67.2,210.6 67.3,209.7 67.3,210.8 67.4,209.9 67.5,211.0 67.6,209.9 67.7,210.6 67.7,209.9 67.8,209.4 67.9,209.8 68.0,209.6 68.0,209.8 68.1,210.9 68.2,209.6 68.3,210.5 68.3,209.7 68.4,210.5 68.5,209.7 68.6,209.4 68.7,209.5 68.7,210.5 68.8,209.8 68.9,210.5 69.0,209.6 69.0,210.5 69.1,209.2 69.2,210.8 69.3,209.5 69.3,210.9 69.4,209.6 69.5,210.5 69.6,209.3 69.7,211.2 69.7,209.4 69.8,209.6 69.9,211.2 70.0,211.3 70.0,209.4 70.1,211.1 70.2,209.6 70.3,210.9 70.3,209.3 70.4,210.8 70.5,209.3 70.6,210.7 70.7,209.6 70.7,210.5 70.8,209.3 70.9,209.6 71.0,209.3 71.0,209.0 71.1,209.3 71.2,210.8 71.3,209.0 71.3,209.2 71.4,211.0 71.5,209.0 71.6,209.5 71.7,210.9 71.7,209.2 71.8,210.8 71.9,209.0 72.0,210.8 72.0,211.2 72.1,211.0 72.2,209.2 72.3,210.8 72.3,208.3 72.4,210.4 72.5,208.3 72.6,211.1 72.7,209.1 72.7,210.4 72.8,208.8 72.9,210.3 73.0,209.0 73.0,210.3 73.1,207.8 73.2,210.7 73.3,208.1 73.3,210.4 73.4,208.7 73.5,210.1 73.6,208.4 73.7,210.0 73.7,208.1 73.8,209.6 73.9,208.0 74.0,210.2 74.0,207.7 74.1,208.0 74.2,207.6 74.3,209.6 74.3,207.6 74.4,209.4 74.5,208.1 74.6,208.0 74.7,208.1 74.7,209.9 74.8,208.1 74.9,210.0 75.0,207.4 75.0,210.4 75.1,208.6 75.2,210.6 75.3,208.5 75.3,211.2 75.4,211.9 75.5,211.1 75.6,209.0 75.7,210.5 75.7,209.1 75.8,210.7 75.9,208.4 76.0,211.0 76.0,210.7 76.1,209.1 76.2,209.3 76.3,211.4 76.3,209.4 76.4,211.5 76.5,209.3 76.6,211.0 76.7,209.1 76.7,211.8 76.8,209.6 76.9,211.5 77.0,209.5 77.0,211.9 77.1,209.6 77.2,211.7 77.3,209.9 77.3,212.1 77.4,209.3 77.5,211.5 77.6,210.0 77.7,209.2 77.7,209.7 77.8,212.0 77.9,209.4 78.0,209.4 78.0,208.9 78.1,211.7 78.2,209.8 78.3,211.6 78.3,210.2 78.4,211.6 78.5,209.9 78.6,210.3 78.7,209.9 78.7,211.9 78.8,210.0 78.9,211.6 79.0,210.3 79.0,212.2 79.1,211.6 79.2,212.6 79.3,210.4 79.3,211.8 79.4,210.7 79.5,212.5 79.6,210.0 79.7,212.7 79.7,210.7 79.8,210.3 79.9,210.4 80.0,212.5 80.0,212.6 80.1,213.0 80.2,210.5 80.3,212.5 80.3,210.9 80.4,212.5 80.5,212.5 80.6,212.2 80.7,211.2 80.7,210.7 80.8,211.2 80.9,212.2 81.0,211.3 81.0,212.6 81.1,211.1 81.2,212.5 81.3,211.3 81.3,212.2 81.4,211.2 81.5,212.3 81.6,211.4 81.7,212.3 81.7,211.3 81.8,212.2 81.9,211.7 82.0,212.3 82.0,211.6 82.1,212.3 82.2,211.6 82.3,212.5 82.3,211.7 82.4,212.5 82.5,211.6 82.6,212.8 82.7,211.5 82.7,211.6 82.8,212.6 82.9,212.5 83.0,211.7 83.0,212.6 83.1,212.6 83.2,212.8 83.3,211.7 83.3,212.6 83.4,211.4 83.5,211.9 83.6,213.0 83.7,212.9 83.7,211.5 83.8,212.9 83.9,211.3 84.0,213.0 84.0,211.7 84.1,211.8 84.2,211.3 84.3,211.5 84.3,211.8 84.4,213.3 84.5,211.9 84.6,212.1 84.7,211.6 84.7,213.3 84.8,211.9 84.9,213.5 85.0,213.0 85.0,213.4 85.1,213.6 85.2,213.6 85.3,212.1 85.3,213.3 85.4,211.7 85.5,213.5 85.6,211.7 85.7,214.0 85.7,212.2 85.8,212.3 85.9,212.3 86.0,213.2 86.0,213.4 86.1,213.4 86.2,212.2 86.3,213.5 86.3,212.1 86.4,212.5 86.5,212.5 86.6,213.6 86.7,212.3 86.7,214.0 86.8,212.2 86.9,213.7 87.0,212.3 87.0,213.9 87.1,212.5 87.2,214.1 87.3,212.3 87.4,212.3 87.4,212.3 87.5,214.0 87.6,212.5 87.7,214.0 87.7,212.2 87.8,212.2 87.9,212.8 88.0,212.8 88.0,212.4 88.1,212.5 88.2,212.7 88.3,212.7 88.4,212.8 88.4,213.9 88.5,212.7 88.6,214.0 88.7,212.9 88.7,214.0 88.8,212.8 88.9,213.9 89.0,212.1 89.0,214.0 89.1,212.9 89.2,214.1 89.3,212.6 89.4,214.7 89.4,212.7 89.5,214.1 89.6,212.5 89.7,214.5 89.7,213.1 89.8,214.4 89.9,213.0 90.0,214.2 90.0,213.0 90.1,214.1 90.2,213.0 90.3,214.4 90.4,212.9 90.4,214.1 90.5,213.0 90.6,214.5 90.7,213.4 90.7,213.2 90.8,214.8 90.9,214.7 91.0,212.9 91.0,214.5 91.1,213.3 91.2,215.1 91.3,213.3 91.4,213.3 91.4,213.4 91.5,215.3 91.6,213.2 91.7,215.3 91.7,213.5 91.8,215.0 91.9,213.2 92.0,214.9 92.0,213.7 92.1,214.9 92.2,213.5 92.3,213.8 92.4,214.8 92.4,214.7 92.5,213.8 92.6,215.0 92.7,213.8 92.7,214.8 92.8,213.9 92.9,215.0 93.0,213.9 93.0,214.7 93.1,214.8 93.2,215.2 93.3,213.2 93.4,215.1 93.4,214.0 93.5,215.0 93.6,213.3 93.7,215.4 93.7,213.7 93.8,214.9 93.9,213.8 94.0,214.1 94.0,213.5 94.1,215.0 94.2,214.0 94.3,215.2 94.4,214.2 94.4,215.2 94.5,214.4 94.6,215.4 94.7,215.6 94.7,215.4 94.8,214.3 94.9,215.8 95.0,215.6 95.0,215.8 95.1,214.5 95.2,215.5 95.3,214.2 95.4,215.3 95.4,213.8 95.5,216.0 95.6,213.5 95.7,216.2 95.7,214.4 95.8,216.0 95.9,214.5 96.0,215.6 96.0,213.7 96.1,216.4 96.2,214.3 96.3,216.1 96.4,214.5 96.4,216.0 96.5,214.2 96.6,216.4 96.7,215.8 96.7,214.2 96.8,214.3 96.9,216.3 97.0,214.1 97.0,216.1 97.1,214.7 97.2,216.2 97.3,214.4 97.4,215.9 97.4,214.7 97.5,216.4 97.6,214.9 97.7,216.2 97.7,214.4 97.8,215.9 97.9,214.4 98.0,216.3 98.0,214.9 98.1,216.4 98.2,214.9 98.3,216.1 98.4,216.6 98.4,216.4 98.5,214.8 98.6,214.9 98.7,216.6 98.7,216.1 98.8,214.8 98.9,216.5 99.0,214.8 99.0,216.6 99.1,215.3 99.2,216.4 99.3,215.3 99.4,216.6 99.4,214.8 99.5,216.9 99.6,215.0 99.7,215.0 99.7,214.9 99.8,216.9 99.9,216.9 100.0,217.0 100.0,215.2 100.1,215.2 100.2,215.6 100.3,216.7 100.4,215.3 100.4,216.6 100.5,214.9 100.6,217.1 100.7,215.4 100.7,216.5 100.8,215.7 100.9,216.4 101.0,215.7 101.0,217.0 101.1,215.7 101.2,216.6 101.3,215.9 101.4,216.6 101.4,215.9 101.5,216.6 101.6,215.7 101.7,216.8 101.7,215.8 101.8,216.8 101.9,215.9 102.0,216.6 102.0,215.4 102.1,217.1 102.2,215.5 102.3,215.9 102.4,215.3 102.4,216.9 102.5,215.6 102.6,217.5 102.7,215.5 102.7,216.0 102.8,215.9 102.9,215.6 103.0,215.9 103.0,217.2 103.1,217.0 103.2,217.4 103.3,216.0 103.4,217.1 103.4,216.1 103.5,217.0 103.6,215.9 103.7,217.5 103.7,216.2 103.8,217.2 103.9,216.1 104.0,217.1 104.0,216.3 104.1,217.3 104.2,216.2 104.3,217.3 104.4,216.1 104.4,217.3 104.5,216.5 104.6,217.4 104.7,216.2 104.7,216.5 104.8,216.0 104.9,217.7 105.0,217.6 105.0,216.0 105.1,217.6 105.2,217.4 105.3,216.1 105.4,217.5 105.4,217.3 105.5,216.4 105.6,216.5 105.7,217.6 105.7,216.2 105.8,217.3 105.9,216.5 106.0,217.7 106.0,215.8 106.1,216.2 106.2,216.3 106.3,217.6 106.4,217.4 106.4,216.6 106.5,217.8 106.6,217.6 106.7,218.2 106.7,218.4 106.8,216.5 106.9,218.5 107.0,216.1 107.0,218.4 107.1,216.5 107.2,218.0 107.3,216.1 107.4,217.7 107.4,216.2 107.5,217.9 107.6,218.6 107.7,218.4 107.7,216.2 107.8,218.2 107.9,216.8 108.0,217.9 108.0,218.2 108.1,218.0 108.2,216.7 108.3,218.4 108.4,215.8 108.4,218.8 108.5,217.8 108.6,216.8 108.7,217.0 108.7,218.1 108.8,218.4 108.9,218.0 109.0,216.6 109.0,218.4 109.1,216.9 109.2,217.1 109.3,216.8 109.4,218.2 109.4,217.2 109.5,218.3 109.6,216.9 109.7,218.4 109.7,217.2 109.8,218.0 109.9,217.2 110.0,218.1 110.0,218.1 110.1,218.1 110.2,216.9 110.3,216.6 110.4,218.8 110.4,218.7 110.5,216.7 110.6,218.3 110.7,216.3 110.7,218.9 110.8,216.5 110.9,218.4 111.0,216.4 111.0,217.4 111.1,217.2 111.2,218.3 111.3,217.2 111.4,217.0 111.4,217.2 111.5,218.4 111.6,217.1 111.7,218.8 111.7,218.4 111.8,218.7 111.9,217.3 112.0,218.6 112.0,217.5 112.1,218.7 112.2,217.5 112.3,219.2 112.4,217.3 112.4,218.3 112.5,217.3 112.6,218.3 112.7,217.6 112.7,218.8 112.8,218.3 112.9,218.8 113.0,217.4 113.0,218.6 113.1,217.4 113.2,218.4 113.3,217.3 113.4,217.4 113.4,217.1 113.5,218.7 113.6,217.2 113.7,217.2 113.7,218.6 113.8,218.8 113.9,217.0 114.0,218.6 114.0,216.9 114.1,218.8 114.2,217.4 114.3,217.2 114.4,217.1 114.4,218.8 114.5,218.9 114.6,218.5 114.7,217.1 114.7,218.6 114.8,217.2 114.9,218.9 115.0,217.3 115.0,218.9 115.1,217.4 115.2,218.9 115.3,218.7 115.4,218.6 115.4,217.3 115.5,218.8 115.6,217.5 115.7,218.4 115.7,218.6 115.8,218.6 115.9,217.6 116.0,217.6 116.0,217.5 116.1,218.8 116.2,217.2 116.3,218.6 116.4,217.4 116.4,218.7 116.5,218.6 116.6,218.4 116.7,217.3 116.7,218.6 116.8,217.6 116.9,218.8 117.0,217.6 117.0,218.5 117.1,217.6 117.2,218.9 117.3,217.5 117.4,218.9 117.4,217.5 117.5,218.6 117.6,217.4 117.7,218.5 117.7,217.2 117.8,219.0 117.9,218.4 118.0,218.9 118.0,217.3 118.1,217.6 118.2,217.2 118.3,218.6 118.4,217.3 118.4,217.6 118.5,217.4 118.6,217.5 118.7,217.2 118.7,217.7 118.8,217.7 118.9,219.1 119.0,218.8 119.0,218.6 119.1,217.4 119.2,218.5 119.3,217.5 119.4,218.6 119.4,217.4 119.5,218.7 119.6,217.5 119.7,217.2 119.7,216.9 119.8,218.5 119.9,217.5 120.0,218.5 120.0,217.6 120.1,218.4 120.2,217.5 120.3,218.5 120.4,217.3 120.4,218.6 120.5,217.6 120.6,218.4 120.7,217.5 120.7,218.4 120.8,217.3 120.9,218.4 121.0,217.6 121.0,218.5 121.1,217.6 121.2,218.5 121.3,217.4 121.4,217.6 121.4,217.2 121.5,218.8 121.6,217.6 121.7,218.7 121.7,217.6 121.8,218.6 121.9,217.4 122.0,218.5 122.0,218.5 122.1,218.7 122.2,217.2 122.3,217.2 122.4,217.7 122.4,217.5 122.5,217.6 122.6,217.6 122.7,217.6 122.7,218.7 122.8,217.6 122.9,218.6 123.0,217.1 123.0,218.7 123.1,217.8 123.2,217.5 123.3,217.3 123.4,218.6 123.4,217.7 123.5,218.4 123.6,217.9 123.7,217.5 123.7,217.9 123.8,217.7 123.9,217.6 124.0,218.6 124.0,217.7 124.1,218.6 124.2,217.9 124.3,217.8 124.4,217.9 124.4,219.0 124.5,219.2 124.6,218.9 124.7,218.7 124.7,219.0 124.8,217.0 124.9,218.9 125.0,217.7 125.0,218.9 125.1,217.5 125.2,219.0 125.3,218.0 125.4,217.8 125.4,219.4 125.5,219.0 125.6,217.7 125.7,217.2 125.7,219.4 125.8,219.4 125.9,217.1 126.0,219.1 126.0,219.4 126.1,219.1 126.2,217.8 126.3,219.6 126.4,217.8 126.4,219.1 126.5,217.8 126.6,219.6 126.7,217.8 126.7,219.0 126.8,219.2 126.9,219.0 127.0,217.9 127.0,219.3 127.1,218.1 127.2,219.3 127.3,217.5 127.4,219.0 127.4,219.3 127.5,218.8 127.6,217.1 127.7,218.6 127.7,216.6 127.8,218.1 127.9,216.3 128.0,218.1 128.0,216.1 128.1,218.9 128.2,215.8 128.3,218.7 128.4,214.7 128.4,217.6 128.5,215.2 128.6,214.5 128.7,216.1 128.7,215.7 128.8,216.4 128.9,215.7 129.0,216.5 129.0,219.2 129.1,220.3 129.2,219.4 129.3,217.0 129.4,216.6 129.4,217.7 129.5,219.7 129.6,218.0 129.7,217.6 129.7,218.2 129.8,218.1 129.9,217.8 130.0,218.7 130.0,218.7 130.1,218.7 130.2,218.5 130.3,220.4 130.4,218.6 130.4,220.6 130.5,218.8 130.6,220.5 130.7,219.1 130.7,218.9 130.8,218.9 130.9,220.4 131.0,220.5 131.0,220.2 131.1,219.1 131.2,220.6 131.3,219.1 131.4,220.5 131.4,218.5 131.5,221.0 131.6,219.3 131.7,221.0 131.7,221.2 131.8,220.4 131.9,219.2 132.0,221.0 132.0,219.0 132.1,220.4 132.2,220.5 132.3,220.4 132.4,219.2 132.4,220.9 132.5,219.5 132.6,220.5 132.7,219.2 132.7,219.6 132.8,219.3 132.9,221.2 133.0,219.0 133.0,220.8 133.1,219.3 133.2,221.1 133.3,219.7 133.4,219.6 133.4,219.0 133.5,221.5 133.6,219.5 133.7,221.7 133.7,221.3 133.8,221.4 133.9,218.8 134.0,221.2 134.0,219.2 134.1,221.0 134.2,219.2 134.3,221.2 134.4,219.3 134.4,221.2 134.5,219.8 134.6,221.1 134.7,221.1 134.7,221.2 134.8,219.7 134.9,221.3 135.0,219.8 135.1,221.0 135.1,219.8 135.2,221.1 135.3,219.8 135.4,221.0 135.4,220.9 135.5,221.1 135.6,219.8 135.7,221.0 135.7,219.5 135.8,221.2 135.9,219.6 136.0,219.6 136.1,219.3 136.1,221.2 136.2,219.8 136.3,221.9 136.4,219.6 136.4,219.8 136.5,220.9 136.6,221.1 136.7,219.5 136.7,220.8 136.8,219.5 136.9,220.9 137.0,219.6 137.1,221.4 137.1,219.1 137.2,220.9 137.3,221.3 137.4,221.5 137.4,219.8 137.5,221.2 137.6,219.2 137.7,220.8 137.7,219.6 137.8,220.6 137.9,219.6 138.0,220.8 138.1,219.9 138.1,221.0 138.2,219.5 138.3,221.3 138.4,219.8 138.4,220.8 138.5,219.6 138.6,220.9 138.7,219.7 138.7,220.8 138.8,219.5 138.9,221.3 139.0,219.3 139.1,219.4 139.1,219.0 139.2,221.3 139.3,219.4 139.4,220.9 139.4,218.7 139.5,220.9 139.6,219.0 139.7,221.2 139.7,219.3 139.8,218.9 139.9,219.0 140.0,221.1 140.1,221.0 140.1,221.1 140.2,219.7 140.3,220.6 140.4,220.9 140.4,220.7 140.5,219.8 140.6,220.5 140.7,219.7 140.7,219.6 140.8,219.6 140.9,220.7 141.0,220.6 141.1,220.4 141.1,219.5 141.2,220.8 141.3,219.5 141.4,220.3 141.4,219.5 141.5,220.8 141.6,219.7 141.7,220.7 141.7,219.4 141.8,220.8 141.9,219.8 142.0,220.7 142.1,220.7 142.1,220.6 142.2,219.5 142.3,220.4 142.4,219.4 142.4,220.7 142.5,219.7 142.6,219.3 142.7,219.2 142.7,220.8 142.8,219.5 142.9,219.3 143.0,219.1 143.1,220.9 143.1,219.2 143.2,220.7 143.3,220.5 143.4,220.6 143.4,219.3 143.5,220.7 143.6,220.4 143.7,220.6 143.7,219.4 143.8,219.1 143.9,220.6 144.0,220.6 144.1,219.5 144.1,220.5 144.2,219.5 144.3,220.7 144.4,219.4 144.4,220.4 144.5,219.5 144.6,220.5 144.7,219.5 144.7,220.7 144.8,219.5 144.9,219.8 145.0,219.6 145.1,220.6 145.1,220.5 145.2,220.7 145.3,219.8 145.4,220.4 145.4,220.6 145.5,220.5 145.6,219.7 145.7,221.0 145.7,219.4 145.8,220.8 145.9,219.3 146.0,220.5 146.1,219.6 146.1,220.9 146.2,219.7 146.3,221.0 146.4,219.7 146.4,220.9 146.5,219.2 146.6,219.2 146.7,219.4 146.7,220.6 146.8,219.3 146.9,221.1 147.0,219.6 147.1,221.0 147.1,219.5 147.2,219.5 147.3,219.6 147.4,221.3 147.4,219.0 147.5,219.6 147.6,219.6 147.7,220.7 147.7,220.9 147.8,221.0 147.9,219.9 148.0,221.1 148.1,221.0 148.1,220.9 148.2,219.6 148.3,219.7 148.4,219.8 148.4,221.1 148.5,219.8 148.6,221.2 148.7,219.7 148.7,220.8 148.8,219.4 148.9,220.8 149.0,219.8 149.1,220.9 149.1,219.8 149.2,220.0 149.3,220.0 149.4,219.9 149.4,219.8 149.5,220.9 149.6,219.6 149.7,220.8 149.7,220.3 149.8,220.9 149.9,220.0 150.0,221.2 150.1,221.3 150.1,221.3 150.2,220.0 150.3,221.1 150.4,220.0 150.4,220.2 150.5,219.7 150.6,220.9 150.7,219.8 150.7,221.7 150.8,219.9 150.9,221.2 151.0,220.0 151.1,221.2 151.1,219.6 151.2,221.3 151.3,219.8 151.4,221.2 151.4,219.7 151.5,221.8 151.6,220.2 151.7,221.4 151.7,220.0 151.8,221.2 151.9,220.0 152.0,221.4 152.1,220.3 152.1,220.2 152.2,220.0 152.3,220.3 152.4,220.3 152.4,221.1 152.5,219.7 152.6,221.8 152.7,219.6 152.7,222.0 152.8,219.9 152.9,221.5 153.0,219.8 153.1,221.5 153.1,219.7 153.2,222.0 153.3,220.1 153.4,221.9 153.4,220.0 153.5,221.5 153.6,220.3 153.7,221.5 153.7,220.2 153.8,221.5 153.9,220.3 154.0,221.5 154.1,220.2 154.1,221.2 154.2,220.4 154.3,221.4 154.4,220.3 154.4,221.4 154.5,220.3 154.6,221.8 154.7,220.5 154.7,221.6 154.8,220.5 154.9,221.2 155.0,220.6 155.1,221.3 155.1,220.5 155.2,220.7 155.3,220.4 155.4,221.3 155.4,220.6 155.5,221.7 155.6,220.5 155.7,221.4 155.7,220.0 155.8,221.5 155.9,220.4 156.0,220.0 156.1,219.7 156.1,221.7 156.2,219.9 156.3,221.7 156.4,220.2 156.4,221.9 156.5,219.9 156.6,221.3 156.7,220.1 156.7,221.6 156.8,219.9 156.9,221.8 157.0,219.9 157.1,221.5 157.1,221.9 157.2,221.5 157.3,220.5 157.4,220.2 157.4,220.2 157.5,221.1 157.6,220.3 157.7,221.4 157.7,220.0 157.8,221.1 157.9,220.1 158.0,221.4 158.1,220.0 158.1,221.0 158.2,221.2 158.3,221.5 158.4,219.7 158.4,221.8 158.5,219.9 158.6,221.4 158.7,219.7 158.7,221.7 158.8,219.9 158.9,221.0 159.0,219.7 159.1,219.2 159.1,219.7 159.2,221.5 159.3,219.6 159.4,221.5 159.4,219.6 159.5,221.4 159.6,219.4 159.7,221.3 159.7,221.0 159.8,221.6 159.9,220.0 160.0,221.0 160.1,219.7 160.1,221.1 160.2,219.7 160.3,221.1 160.4,219.6 160.4,220.9 160.5,219.8 160.6,220.7 160.7,220.6 160.7,220.6 160.8,219.9 160.9,220.7 161.0,219.9 161.1,220.9 161.1,219.6 161.2,219.1 161.3,221.2 161.4,221.1 161.4,221.1 161.5,220.6 161.6,219.7 161.7,220.6 161.7,219.3 161.8,220.9 161.9,219.1 162.0,220.9 162.1,219.6 162.1,219.5 162.2,219.3 162.3,220.8 162.4,219.6 162.4,219.6 162.5,219.1 162.6,221.0 162.7,219.0 162.7,220.8 162.8,218.9 162.9,220.4 163.0,219.0 163.1,219.3 163.1,219.2 163.2,220.6 163.3,218.9 163.4,220.8 163.4,219.2 163.5,220.5 163.6,219.3 163.7,220.9 163.7,218.5 163.8,221.0 163.9,219.0 164.0,220.3 164.1,218.8 164.1,220.7 164.2,220.5 164.3,220.6 164.4,219.3 164.4,220.4 164.5,219.0 164.6,220.3 164.7,219.2 164.7,220.0 164.8,218.9 164.9,220.5 165.0,218.5 165.1,220.9 165.1,218.7 165.2,220.5 165.3,218.5 165.4,221.1 165.4,218.0 165.5,220.4 165.6,218.1 165.7,220.6 165.7,218.5 165.8,220.8 165.9,218.7 166.0,218.5 166.1,218.8 166.1,220.6 166.2,218.9 166.3,220.3 166.4,218.1 166.4,220.1 166.5,220.5 166.6,220.9 166.7,218.7 166.7,220.0 166.8,218.3 166.9,220.7 167.0,218.1 167.1,220.4 167.1,218.3 167.2,218.3 167.3,218.5 167.4,219.7 167.4,218.6 167.5,219.7 167.6,218.5 167.7,220.1 167.7,218.3 167.8,220.1 167.9,218.5 168.0,220.2 168.1,220.2 168.1,218.7 168.2,218.5 168.3,219.8 168.4,217.6 168.4,219.8 168.5,218.2 168.6,220.1 168.7,220.0 168.7,218.3 168.8,220.2 168.9,218.1 169.0,219.7 169.1,219.8 169.1,218.4 169.2,219.6 169.3,218.5 169.4,219.7 169.4,218.7 169.5,219.9 169.6,218.3 169.7,220.4 169.7,218.1 169.8,219.4 169.9,218.4 170.0,219.4 170.1,218.3 170.1,217.9 170.2,217.8 170.3,220.1 170.4,218.3 170.4,220.0 170.5,218.5 170.6,218.3 170.7,220.0 170.7,219.9 170.8,217.4 170.9,219.9 171.0,217.7 171.1,219.7 171.1,217.8 171.2,219.9 171.3,218.0 171.4,220.4 171.4,218.3 171.5,220.2 171.6,217.6 171.7,219.8 171.7,217.9 171.8,220.2 171.9,218.2 172.0,220.0 172.1,217.7 172.1,219.5 172.2,217.8 172.3,219.5 172.4,219.9 172.4,220.1 172.5,217.9 172.6,219.3 172.7,217.7 172.7,219.4 172.8,217.3 172.9,219.3 173.0,218.1 173.1,219.8 173.1,218.1 173.2,220.1 173.3,218.0 173.4,217.7 173.4,218.0 173.5,219.0 173.6,218.0 173.7,219.3 173.7,217.9 173.8,219.3 173.9,219.6 174.0,219.2 174.1,217.7 174.1,219.9 174.2,219.7 174.3,219.9 174.4,217.6 174.4,219.6 174.5,218.9 174.6,219.4 174.7,217.9 174.7,218.1 174.8,217.6 174.9,217.8 175.0,217.5 175.1,219.5 175.1,217.5 175.2,217.3 175.3,219.1 175.4,219.2 175.4,217.8 175.5,217.8 175.6,217.1 175.7,218.9 175.7,217.7 175.8,218.9 175.9,217.5 176.0,218.7 176.1,217.5 176.1,219.1 176.2,217.9 176.3,218.9 176.4,217.7 176.4,219.2 176.5,217.4 176.6,217.5 176.7,219.2 176.7,219.8 176.8,217.1 176.9,217.0 177.0,217.3 177.1,219.1 177.1,219.8 177.2,218.9 177.3,218.9 177.4,217.4 177.4,217.1 177.5,219.1 177.6,217.4 177.7,218.4 177.7,217.6 177.8,218.7 177.9,217.6 178.0,218.8 178.1,217.5 178.1,218.8 178.2,217.4 178.3,218.8 178.4,217.3 178.4,217.4 178.5,217.2 178.6,218.5 178.7,217.6 178.7,218.4 178.8,218.8 178.9,217.3 179.0,217.2 179.1,217.5 179.1,217.4 179.2,219.0 179.3,216.6 179.4,216.9 179.4,217.1 179.5,219.1 179.6,216.8 179.7,217.3 179.7,217.0 179.8,219.0 179.9,216.6 180.0,219.3 180.1,217.1 180.1,218.7 180.2,217.2 180.3,217.4 180.4,217.4 180.4,218.7 180.5,217.4 180.6,218.9 180.7,217.3 180.7,218.8 180.8,217.2 180.9,219.2 181.0,218.7 181.1,219.1 181.1,217.3 181.2,219.0 181.3,217.5 181.4,218.8 181.4,217.4 181.5,217.3 181.6,219.4 181.7,219.4 181.8,217.8 181.8,219.1 181.9,217.4 182.0,218.9 182.1,217.5 182.1,219.4 182.2,217.3 182.3,219.4 182.4,220.0 182.4,219.1 182.5,217.5 182.6,217.1 182.7,217.2 182.8,217.3 182.8,217.2 182.9,219.4 183.0,217.3 183.1,217.2 183.1,216.8 183.2,219.6 183.3,217.3 183.4,220.0 183.4,219.1 183.5,219.9 183.6,216.9 183.7,217.9 183.8,218.0 183.8,217.6 183.9,217.4 184.0,219.6 184.1,219.6 184.1,217.7 184.2,218.0 184.3,219.3 184.4,217.6 184.4,219.0 184.5,217.7 184.6,219.6 184.7,217.5 184.8,219.4 184.8,217.4 184.9,219.2 185.0,219.3 185.1,220.0 185.1,217.2 185.2,220.4 185.3,217.0 185.4,221.1 185.4,217.5 185.5,220.2 185.6,216.9 185.7,220.7 185.8,216.7 185.8,220.6 185.9,216.9 186.0,219.8 186.1,218.0 186.1,217.9 186.2,218.2 186.3,219.9 186.4,218.3 186.4,220.0 186.5,218.1 186.6,218.4 186.7,219.6 186.8,219.7 186.8,220.3 186.9,218.5 187.0,218.8 187.1,220.0 187.1,218.8 187.2,220.5 187.3,218.8 187.4,220.7 187.4,218.4 187.5,220.4 187.6,220.4 187.7,221.1 187.8,218.7 187.8,220.5 187.9,218.9 188.0,220.7 188.1,218.5 188.1,220.4 188.2,219.0 188.3,220.0 188.4,219.2 188.4,220.5 188.5,218.9 188.6,220.6 188.7,218.7 188.8,220.4 188.8,218.2 188.9,218.6 189.0,220.5 189.1,220.4 189.1,219.1 189.2,221.4 189.3,219.2 189.4,221.2 189.4,219.3 189.5,220.9 189.6,219.4 189.7,218.8 189.8,219.0 189.8,221.2 189.9,219.0 190.0,220.5 190.1,218.6 190.1,220.5 190.2,219.4 190.3,221.2 190.4,219.6 190.4,220.6 190.5,220.4 190.6,219.1 190.7,219.2 190.8,220.6 190.8,219.2 190.9,220.9 191.0,220.7 191.1,219.7 191.1,219.8 191.2,219.9 191.3,219.2 191.4,220.7 191.4,219.8 191.5,219.9 191.6,219.9 191.7,219.7 191.8,219.8 191.8,219.3 191.9,219.9 192.0,221.1 192.1,220.7 192.1,221.0 192.2,220.1 192.3,221.0 192.4,220.8 192.4,220.8 192.5,219.8 192.6,221.0 192.7,219.9 192.8,221.2 192.8,219.8 192.9,221.3 193.0,221.6 193.1,221.5 193.1,220.1 193.2,221.6 193.3,219.9 193.4,221.6 193.4,220.2 193.5,220.1 193.6,221.4 193.7,221.1 193.8,220.3 193.8,220.4 193.9,220.1 194.0,221.0 194.1,220.4 194.1,221.2 194.2,221.2 194.3,221.1 194.4,220.4 194.4,220.3 194.5,220.1 194.6,221.8 194.7,220.4 194.8,221.7 194.8,220.3 194.9,221.6 195.0,220.1 195.1,221.8 195.1,221.5 195.2,221.5 195.3,221.7 195.4,220.5 195.4,220.7 195.5,221.6 195.6,220.6 195.7,221.5 195.8,220.7 195.8,221.9 195.9,221.7 196.0,221.8 196.1,221.9 196.1,220.8 196.2,220.8 196.3,221.7 196.4,220.2 196.4,220.5 196.5,220.7 196.6,221.8 196.7,222.1 196.8,222.1 196.8,220.6 196.9,221.8 197.0,220.3 197.1,222.1 197.1,220.8 197.2,222.0 197.3,221.9 197.4,222.2 197.4,221.1 197.5,222.4 197.6,220.6 197.7,222.3 197.8,220.4 197.8,221.0 197.9,220.9 198.0,222.1 198.1,221.2 198.1,222.2 198.2,221.1 198.3,222.8 198.4,221.3 198.4,221.4 198.5,221.3 198.6,222.5 198.7,221.3 198.8,221.3 198.8,221.3 198.9,221.5 199.0,221.4 199.1,221.6 199.1,221.6 199.2,222.3 199.3,221.2 199.4,222.4 199.4,221.3 199.5,223.0 199.6,221.2 199.7,221.2 199.8,221.6 199.8,222.8 199.9,221.5 200.0,222.7 200.1,221.5 200.1,222.6 200.2,221.5 200.3,221.6 200.4,221.4 200.4,223.1 200.5,223.1 200.6,222.8 200.7,220.6 200.8,223.6 200.8,221.5 200.9,223.8 201.0,220.7 201.1,223.0 201.1,221.5 201.2,223.4 201.3,221.5 201.4,223.0 201.4,221.3 201.5,223.2 201.6,221.4 201.7,223.1 201.8,222.0 201.8,223.4 201.9,222.0 202.0,223.1 202.1,221.8 202.1,221.5 202.2,222.0 202.3,223.5 202.4,221.5 202.4,223.1 202.5,221.5 202.6,223.8 202.7,221.5 202.8,223.4 202.8,221.4 202.9,224.1 203.0,221.6 203.1,223.5 203.1,221.4 203.2,223.7 203.3,223.3 203.4,223.6 203.4,221.7 203.5,222.0 203.6,221.8 203.7,223.3 203.8,222.5 203.8,223.4 203.9,222.2 204.0,223.5 204.1,221.8 204.1,223.5 204.2,221.9 204.3,223.9 204.4,222.2 204.4,223.5 204.5,222.4 204.6,223.7 204.7,222.0 204.8,224.5 204.8,222.4 204.9,223.7 205.0,222.5 205.1,224.0 205.1,222.4 205.2,223.7 205.3,222.8 205.4,223.7 205.4,222.5 205.5,222.4 205.6,222.6 205.7,223.9 205.8,222.7 205.8,224.2 205.9,223.9 206.0,224.0 206.1,222.8 206.1,224.1 206.2,222.9 206.3,224.5 206.4,222.4 206.4,223.1 206.5,223.9 206.6,224.1 206.7,222.8 206.8,223.0 206.8,224.6 206.9,224.6 207.0,224.7 207.1,224.5 207.1,223.1 207.2,224.0 207.3,223.1 207.4,224.6 207.4,223.3 207.5,224.4 207.6,222.5 207.7,224.2 207.8,222.9 207.8,224.2 207.9,222.9 208.0,224.3 208.1,223.0 208.1,224.2 208.2,223.2 208.3,224.2 208.4,224.4 208.4,224.9 208.5,224.5 208.6,224.5 208.7,224.8 208.8,224.9 208.8,223.0 208.9,224.8 209.0,223.1 209.1,224.7 209.1,224.4 209.2,224.5 209.3,223.6 209.4,224.5 209.4,224.5 209.5,224.8 209.6,224.7 209.7,225.0 209.8,223.4 209.8,224.8 209.9,223.7 210.0,225.1 210.1,223.5 210.1,223.4 210.2,225.1 210.3,224.7 210.4,223.3 210.4,224.9 210.5,223.8 210.6,225.0 210.7,223.3 210.8,224.8 210.8,223.9 210.9,223.6 211.0,223.6 211.1,225.1 211.1,223.8 211.2,224.8 211.3,223.4 211.4,225.5 211.4,223.8 211.5,225.3 211.6,223.1 211.7,226.1 211.8,222.9 211.8,223.3 211.9,223.6 212.0,225.4 212.1,222.8 212.1,225.7 212.2,223.2 212.3,222.9 212.4,223.4 212.4,225.0 212.5,223.5 212.6,225.0 212.7,223.5 212.8,225.2 212.8,222.7 212.9,223.3 213.0,222.6 213.1,223.2 213.1,223.3 213.2,225.6 213.3,225.0 213.4,225.2 213.4,223.2 213.5,225.0 213.6,223.2 213.7,225.2 213.8,224.8 213.8,225.4 213.9,223.6 214.0,225.1 214.1,223.4 214.1,224.9 214.2,222.8 214.3,225.4 214.4,223.3 214.4,224.9 214.5,223.3 214.6,225.4 214.7,223.0 214.8,224.9 214.8,223.6 214.9,223.8 215.0,223.7 215.1,224.9 215.1,223.6 215.2,223.8 215.3,223.6 215.4,224.6 215.4,223.6 215.5,224.6 215.6,223.8 215.7,224.6 215.8,223.7 215.8,224.6 215.9,223.6 216.0,224.9 216.1,223.6 216.1,223.7 216.2,223.5 216.3,225.1 216.4,223.7 216.4,224.7 216.5,223.9 216.6,225.1 216.7,224.9 216.8,225.0 216.8,223.5 216.9,225.2 217.0,223.8 217.1,225.1 217.1,223.9 217.2,224.8 217.3,223.5 217.4,224.9 217.4,225.1 217.5,225.3 217.6,223.3 217.7,225.0 217.8,223.3 217.8,225.2 217.9,223.6 218.0,225.0 218.1,223.6 218.1,225.4 218.2,224.0 218.3,225.6 218.4,225.4 218.4,225.1 218.5,223.9 218.6,225.6 218.7,223.7 218.8,225.5 218.8,224.0 218.9,225.1 219.0,223.6 219.1,225.6 219.1,223.6 219.2,225.9 219.3,223.2 219.4,226.2 219.4,223.0 219.5,223.1 219.6,223.2 219.7,225.2 219.8,223.3 219.8,225.6 219.9,225.7 220.0,226.2 220.1,223.4 220.1,225.6 220.2,223.6 220.3,226.0 220.4,225.7 220.4,225.4 220.5,223.6 220.6,225.2 220.7,225.1 220.8,225.2 220.8,225.6 220.9,225.1 221.0,223.7 221.1,225.5 221.1,223.9 221.2,225.3 221.3,224.3 221.4,224.2 221.4,224.2 221.5,225.5 221.6,223.5 221.7,225.5 221.8,224.3 221.8,225.2 221.9,224.2 222.0,223.9 222.1,223.7 222.1,225.5 222.2,223.9 222.3,225.5 222.4,223.9 222.4,225.7 222.5,224.2 222.6,225.3 222.7,224.4 222.8,226.0 222.8,225.7 222.9,225.7 223.0,224.2 223.1,225.5 223.1,224.4 223.2,225.5 223.3,224.5 223.4,225.4 223.4,224.0 223.5,225.6 223.6,223.8 223.7,223.8 223.8,223.8 223.8,226.2 223.9,224.3 224.0,225.5 224.1,223.8 224.1,226.4 224.2,224.0 224.3,226.0 224.4,224.1 224.4,225.7 224.5,224.3 224.6,224.5 224.7,224.4 224.8,225.6 224.8,224.1 224.9,225.3 225.0,224.1 225.1,225.6 225.1,224.7 225.2,224.3 225.3,224.3 225.4,226.1 225.4,225.9 225.5,226.1 225.6,224.2 225.7,226.4 225.8,224.5 225.8,226.4 225.9,224.5 226.0,226.3 226.1,224.9 226.1,224.8 226.2,224.6 226.3,225.9 226.4,225.8 226.4,226.1 226.5,224.5 226.6,226.2 226.7,225.1 226.8,226.3 226.8,224.6 226.9,226.1 227.0,225.2 227.1,226.2 227.1,224.7 227.2,226.4 227.3,225.0 227.4,226.1 227.4,224.8 227.5,226.5 227.6,224.9 227.7,226.6 227.8,225.0 227.8,227.0 227.9,224.7 228.0,226.6 228.1,225.2 228.1,226.4 228.2,226.8 228.3,226.8 228.4,225.3 228.4,227.3 228.5,225.5 228.6,227.0 228.7,225.3 228.8,226.8 228.8,225.1 228.9,227.2 229.0,225.0 229.1,227.2 229.1,227.0 229.2,226.6 229.3,225.6 229.4,226.7 229.5,225.3 229.5,225.7 229.6,225.5 229.7,227.2 229.8,225.7 229.8,227.3 229.9,225.4 230.0,226.7 230.1,225.4 230.1,227.7 230.2,225.2 230.3,226.8 230.4,225.6 230.5,226.9 230.5,225.8 230.6,227.4 230.7,225.0 230.8,227.0 230.8,225.6 230.9,227.2 231.0,225.6 231.1,227.3 231.1,225.5 231.2,227.1 231.3,225.9 231.4,227.2 231.5,225.6 231.5,227.3 231.6,227.0 231.7,227.2 231.8,226.0 231.8,225.9 231.9,225.9 232.0,226.4 232.1,226.0 232.1,226.4 232.2,226.5 232.3,228.0 232.4,226.5 232.5,227.3 232.5,226.5 232.6,227.9 232.7,226.3 232.8,227.7 232.8,228.0 232.9,227.4 233.0,227.9 233.1,226.8 233.1,226.3 233.2,227.9 233.3,226.3 233.4,228.1 233.5,226.6 233.5,228.2 233.6,226.9 233.7,228.0 233.8,226.4 233.8,227.7 233.9,227.0 234.0,228.0 234.1,226.7 234.1,228.1 234.2,226.7 234.3,228.2 234.4,227.8 234.5,227.8 234.5,227.2 234.6,228.4 234.7,226.8 234.8,228.6 234.8,227.0 234.9,228.2 235.0,226.7 235.1,228.0 235.1,226.6 235.2,226.8 235.3,227.1 235.4,228.6 235.5,226.9 235.5,228.5 235.6,227.0 235.7,226.9 235.8,226.7 235.8,229.2 235.9,226.8 236.0,228.6 236.1,228.7 236.1,228.6 236.2,226.8 236.3,228.6 236.4,227.1 236.5,226.7 236.5,226.9 236.6,227.2 236.7,227.4 236.8,229.1 236.8,228.7 236.9,229.0 237.0,229.0 237.1,227.0 237.1,228.9 237.2,229.7 237.3,229.4 237.4,228.6 237.5,227.4 237.5,228.7 237.6,227.3 237.7,229.4 237.8,227.4 237.8,228.8 237.9,227.3 238.0,229.0 238.1,227.5 238.1,229.5 238.2,227.5 238.3,227.3 238.4,227.8 238.5,229.3 238.5,229.5 238.6,227.4 238.7,227.9 238.8,229.5 238.8,228.0 238.9,229.7 239.0,227.9 239.1,229.2 239.1,228.0 239.2,229.6 239.3,228.2 239.4,229.2 239.5,228.0 239.5,229.0 239.6,228.1 239.7,229.2 239.8,227.7 239.8,229.3 239.9,227.6 240.0,229.7 240.1,228.0 240.1,230.1 240.2,228.1 240.3,229.9 240.4,227.9 240.5,229.6 240.5,228.3 240.6,230.4 240.7,227.8 240.8,229.7 240.8,228.2 240.9,230.0 241.0,228.2 241.1,230.0 241.1,228.3 241.2,230.0 241.3,230.2 241.4,230.0 241.5,228.1 241.5,230.5 241.6,228.5 241.7,230.3 241.8,228.4 241.8,230.3 241.9,229.7 242.0,230.8 242.1,228.1 242.1,230.6 242.2,228.1 242.3,228.7 242.4,228.2 242.5,229.9 242.5,227.9 242.6,230.4 242.7,228.4 242.8,231.2 242.8,230.3 242.9,227.9 243.0,228.1 243.1,230.2 243.1,228.7 243.2,228.2 243.3,227.9 243.4,227.9 243.5,231.8 243.5,231.1 243.6,228.4 243.7,230.9 243.8,228.0 243.8,231.0 243.9,228.4 244.0,230.7 244.1,228.2 244.1,227.8 244.2,228.3 244.3,232.1 244.4,227.6 244.5,231.3 244.5,231.6 244.6,231.0 244.7,228.5 244.8,230.7 244.8,228.7 244.9,231.5 245.0,231.2 245.1,232.6 245.1,228.7 245.2,232.7 245.3,228.2 245.4,231.8 245.5,229.2 245.5,231.6 245.6,228.8 245.7,230.7 245.8,229.3 245.8,231.2 245.9,229.2 246.0,231.4 246.1,229.5 246.1,231.2 246.2,229.3 246.3,230.9 246.4,229.2 246.5,229.7 246.5,229.5 246.6,231.6 246.7,229.5 246.8,231.0 246.8,229.2 246.9,231.1 247.0,229.7 247.1,231.2 247.1,231.5 247.2,232.2 247.3,229.5 247.4,231.4 247.5,229.5 247.5,231.5 247.6,229.4 247.7,232.4 247.8,227.7 247.8,228.7 247.9,229.4 248.0,231.5 248.1,229.6 248.1,231.7 248.2,229.5 248.3,229.0 248.4,228.4 248.5,233.3 248.5,229.2 248.6,231.9 248.7,228.0 248.8,233.0 248.8,229.3 248.9,229.0 249.0,228.7 249.1,233.5 249.1,229.7 249.2,229.9 249.3,230.0 249.4,231.7 249.5,229.6 249.5,231.8 249.6,231.8 249.7,232.9 249.8,229.5 249.8,232.2 249.9,233.0 250.0,233.1 250.1,229.4 250.1,233.4 250.2,230.1 250.3,229.8 250.4,227.9 250.5,227.8 250.5,228.7 250.6,228.9 250.7,228.5 250.8,233.9 250.8,229.6 250.9,232.4 251.0,229.2 251.1,233.3 251.1,229.9 251.2,232.6 251.3,230.3 251.4,232.2 251.5,230.0 251.5,233.4 251.6,230.4 251.7,232.1 251.8,232.5 251.8,233.2 251.9,230.1 252.0,232.7 252.1,229.1 252.1,232.7 252.2,230.3 252.3,233.7 252.4,227.9 252.5,234.5 252.5,228.9 252.6,234.9 252.7,229.0 252.8,234.9 252.8,229.4 252.9,233.4 253.0,229.8 253.1,233.7 253.1,233.7 253.2,234.2 253.3,229.4 253.4,232.7 253.5,232.7 253.5,232.9 253.6,230.0 253.7,233.4 253.8,230.4 253.8,234.0 253.9,231.0 254.0,232.7 254.1,230.5 254.1,232.7 254.2,233.5 254.3,233.2 254.4,230.3 254.5,234.3 254.5,230.1 254.6,233.5 254.7,230.1 254.8,231.1 254.8,230.2 254.9,230.5 255.0,229.7 255.1,234.3 255.1,230.7 255.2,235.2 255.3,228.5 255.4,229.8 255.5,230.5 255.5,233.7 255.6,229.8 255.7,233.7 255.8,228.4 255.8,233.3 255.9,229.3 256.0,234.6 256.1,229.9 256.1,234.0 256.2,229.2 256.3,233.9 256.4,230.7 256.5,234.5 256.5,230.9 256.6,234.1 256.7,231.0 256.8,234.2 256.8,230.4 256.9,233.4 257.0,229.7 257.1,234.8 257.1,230.6 257.2,234.8 257.3,230.5 257.4,229.7 257.5,229.9 257.5,234.0 257.6,234.1 257.7,230.8 257.8,229.8 257.8,230.7 257.9,229.3 258.0,234.7 258.1,230.2 258.1,233.1 258.2,231.0 258.3,233.6 258.4,230.2 258.5,235.1 258.5,234.7 258.6,234.7 258.7,228.8 258.8,233.9 258.8,228.5 258.9,233.7 259.0,234.6 259.1,233.8 259.1,231.1 259.2,233.4 259.3,230.6 259.4,231.1 259.5,233.1 259.5,233.9 259.6,231.0 259.7,233.7 259.8,230.8 259.8,233.8 259.9,230.8 260.0,234.1 260.1,230.6 260.1,231.1 260.2,230.6 260.3,233.5 260.4,230.8 260.5,229.4 260.5,230.8 260.6,234.3 260.7,228.7 260.8,235.1 260.8,228.5 260.9,235.5 261.0,230.6 261.1,234.2 261.1,230.0 261.2,235.0 261.3,230.2 261.4,233.9 261.5,228.6 261.5,235.8 261.6,229.9 261.7,233.9 261.8,229.5 261.8,235.0 261.9,228.3 262.0,236.1 262.1,228.3 262.1,235.0 262.2,229.5 262.3,235.6 262.4,230.3 262.5,233.6 262.5,228.3 262.6,234.1 262.7,230.3 262.8,233.8 262.8,230.4 262.9,234.3 263.0,228.8 263.1,234.9 263.1,230.8 263.2,233.5 263.3,230.0 263.4,233.4 263.5,229.1 263.5,235.0 263.6,229.6 263.7,233.9 263.8,231.0 263.8,235.1 263.9,228.9 264.0,234.3 264.1,235.8 264.1,236.2 264.2,229.5 264.3,233.8 264.4,229.4 264.5,234.3 264.5,230.8 264.6,234.7 264.7,231.1 264.8,234.0 264.8,230.5 264.9,233.2 265.0,230.4 265.1,234.0 265.1,231.1 265.2,233.6 265.3,229.3 265.4,230.2 265.5,230.0 265.5,234.4 265.6,231.0 265.7,233.4 265.8,230.9 265.8,234.2 265.9,230.1 266.0,233.0 266.1,231.0 266.1,233.7 266.2,233.1 266.3,234.0 266.4,231.1 266.5,234.0 266.5,230.8 266.6,229.9 266.7,230.9 266.8,235.1 266.8,230.1 266.9,233.8 267.0,229.4 267.1,234.9 267.1,230.2 267.2,230.7 267.3,233.3 267.4,230.3 267.5,231.5 267.5,233.3 267.6,231.4 267.7,229.8 267.8,230.3 267.8,235.2 267.9,230.5 268.0,233.7 268.1,231.0 268.1,233.2 268.2,231.1 268.3,233.9 268.4,231.4 268.5,233.8 268.5,231.6 268.6,231.6 268.7,231.1 268.8,233.7 268.8,231.1 268.9,233.1 269.0,231.4 269.1,234.1 269.1,231.4 269.2,233.7 269.3,230.8 269.4,231.3 269.5,230.7 269.5,233.6 269.6,230.8 269.7,230.8 269.8,231.3 269.8,233.4 269.9,231.8 270.0,233.4 270.1,231.0 270.1,233.5 270.2,231.8 270.3,233.9 270.4,231.5 270.5,233.0 270.5,231.2 270.6,233.9 270.7,231.2 270.8,233.5 270.8,231.6 270.9,233.2 271.0,231.4 271.1,233.8 271.1,231.2 271.2,233.6 271.3,234.3 271.4,233.5 271.5,230.5 271.5,234.3 271.6,233.6 271.7,234.1 271.8,231.2 271.8,233.7 271.9,231.0 272.0,233.4 272.1,230.9 272.1,233.3 272.2,231.2 272.3,234.4 272.4,231.0 272.5,233.7 272.5,231.5 272.6,233.7 272.7,231.2 272.8,233.7 272.8,234.2 272.9,234.0 273.0,230.6 273.1,233.8 273.1,231.4 273.2,234.5 273.3,229.9 273.4,233.7 273.5,231.4 273.5,234.4 273.6,235.2 273.7,234.7 273.8,230.9 273.8,234.8 273.9,230.6 274.0,230.4 274.1,230.5 274.1,233.8 274.2,233.7 274.3,235.3 274.4,231.2 274.5,230.1 274.5,230.6 274.6,230.3 274.7,230.9 274.8,230.4 274.8,231.5 274.9,234.8 275.0,230.7 275.1,235.3 275.1,231.4 275.2,234.9 275.3,230.7 275.4,234.5 275.5,230.7 275.5,234.6 275.6,233.9 275.7,233.9 275.8,230.5 275.8,234.0 275.9,231.6 276.0,234.0 276.1,231.7 276.1,231.1 276.2,233.2 276.3,233.5 276.4,231.3 276.5,231.6 276.5,231.7 276.6,234.0 276.7,233.8 276.8,233.7 276.8,233.3 276.9,234.1 277.0,231.6 277.1,233.4 277.2,231.5 277.2,233.2 277.3,231.2 277.4,233.8 277.5,231.4 277.5,233.9 277.6,231.1 277.7,234.6 277.8,233.8 277.8,234.3 277.9,231.4 278.0,231.0 278.1,230.8 278.2,229.8 278.2,229.0 278.3,234.6 278.4,230.7 278.5,233.9 278.5,228.9 278.6,236.0 278.7,234.7 278.8,234.3 278.8,230.2 278.9,235.4 279.0,229.4 279.1,236.1 279.2,230.6 279.2,234.5 279.3,229.1 279.4,234.1 279.5,233.7 279.5,233.9 279.6,229.9 279.7,234.4 279.8,234.3 279.8,234.7 279.9,231.6 280.0,234.9 280.1,231.3 280.2,233.4 280.2,231.4 280.3,231.4 280.4,231.4 280.5,234.0 280.5,231.2 280.6,233.9 280.7,231.0 280.8,233.5 280.8,234.2 280.9,234.0 281.0,233.9 281.1,234.3 281.2,233.6 281.2,234.6 281.3,230.5 281.4,234.2 281.5,231.3 281.5,235.3 281.6,230.4 281.7,233.7 281.8,235.3 281.8,230.6 281.9,231.5 282.0,233.6 282.1,231.5 282.2,234.3 282.2,229.8 282.3,231.2 282.4,230.9 282.5,233.3 282.5,231.3 282.6,233.4 282.7,231.7 282.8,234.7 282.8,231.7 282.9,233.9 283.0,233.6 283.1,234.4 283.2,231.3 283.2,235.1 283.3,231.7 283.4,233.7 283.5,230.6 283.5,234.4 283.6,231.5 283.7,233.7 283.8,230.1 283.8,233.8 283.9,231.7 284.0,233.8 284.1,231.6 284.2,234.7 284.2,230.8 284.3,233.7 284.4,231.5 284.5,235.1 284.5,231.2 284.6,235.2 284.7,230.6 284.8,233.9 284.8,230.6 284.9,233.8 285.0,231.2 285.1,234.3 285.2,233.4 285.2,233.4 285.3,234.4 285.4,234.5 285.5,231.7 285.5,231.8 285.6,230.5 285.7,234.0 285.8,230.9 285.8,233.4 285.9,230.4 286.0,234.2 286.1,230.7 286.2,233.4 286.2,230.6 286.3,233.6 286.4,230.2 286.5,233.7 286.5,231.4 286.6,233.9 286.7,231.2 286.8,233.0 286.8,231.8 286.9,231.7 287.0,231.4 287.1,233.2 287.2,233.7 287.2,231.8 287.3,231.6 287.4,231.6 287.5,231.7 287.5,233.3 287.6,231.8 287.7,233.0 287.8,231.6 287.8,233.3 287.9,233.8 288.0,233.8 288.1,230.9 288.2,233.3 288.2,231.0 288.3,233.4 288.4,231.3 288.5,233.5 288.5,231.5 288.6,233.4 288.7,231.7 288.8,233.7 288.8,231.8 288.9,232.9 289.0,233.3 289.1,233.5 289.2,231.7 289.2,233.2 289.3,231.3 289.4,234.0 289.5,233.5 289.5,233.3 289.6,231.4 289.7,233.3 289.8,231.4 289.8,233.7 289.9,234.7 290.0,234.8 290.1,228.7 290.2,236.0 290.2,230.0 290.3,228.8 290.4,230.5 290.5,229.8 290.5,227.7 290.6,236.2 290.7,229.4 290.8,234.9 290.8,228.5 290.9,236.1 291.0,229.3 291.1,234.1 291.2,229.8 291.2,236.0 291.3,229.6 291.4,237.5 291.5,228.5 291.5,235.8 291.6,225.4 291.7,234.5 291.8,227.6 291.8,237.5 291.9,235.0 292.0,239.1 292.1,225.7 292.2,236.6 292.2,222.5 292.3,226.6 292.4,223.8 292.5,241.1 292.5,222.9 292.6,223.5 292.7,226.2 292.8,238.9 292.8,221.6 292.9,240.2 293.0,223.7 293.1,236.5 293.2,227.2 293.2,236.7 293.3,225.5 293.4,240.0 293.5,223.2 293.5,237.5 293.6,238.4 293.7,242.5 293.8,226.2 293.8,234.5 293.9,238.2 294.0,238.2 294.1,224.1 294.2,240.1 294.2,227.3 294.3,223.0 294.4,226.3 294.5,239.7 294.5,221.4 294.6,237.2 294.7,219.3 294.8,243.1 294.8,221.0 294.9,241.8 295.0,221.9 295.1,241.0 295.2,222.1 295.2,221.1 295.3,225.3 295.4,239.3 295.5,248.3 295.5,237.2 295.6,240.5 295.7,237.3 295.8,223.0 295.8,237.6 295.9,238.9 296.0,238.8 296.1,226.6 296.2,238.7 296.2,227.0 296.3,234.7 296.4,235.5 296.5,224.1 296.5,235.8 296.6,233.8 296.7,226.5 296.8,235.6 296.8,225.0 296.9,237.2 297.0,225.6 297.1,226.3 297.2,222.7 297.2,241.7 297.3,220.0 297.4,238.5 297.5,235.2 297.5,235.7 297.6,224.0 297.7,220.0 297.8,225.9 297.8,239.5 297.9,238.7 298.0,219.9 298.1,246.5 298.2,245.1 298.2,221.1 298.3,242.9 298.4,211.3 298.5,243.0 298.5,222.6 298.6,245.7 298.7,217.5 298.8,239.9 298.8,217.2 298.9,245.7 299.0,224.3 299.1,244.6 299.2,243.8 299.2,242.9 299.3,220.2 299.4,240.2 299.5,221.6 299.5,220.7 299.6,219.9 299.7,242.3 299.8,241.3 299.8,249.1 299.9,223.0 300.0,241.9 300.1,217.0 300.2,221.7 300.2,249.0 300.3,217.4 300.4,249.3 300.5,246.6 300.5,217.6 300.6,241.1 300.7,244.0 300.8,244.3 300.8,218.7 300.9,216.6 301.0,216.8 301.1,243.4 301.2,216.7 301.2,243.6 301.3,224.5 301.4,244.1 301.5,219.0 301.5,245.5 301.6,225.6 301.7,236.5 301.8,222.2 301.8,243.7 301.9,224.2 302.0,239.5 302.1,226.0 302.2,243.1 302.2,222.5 302.3,239.0 302.4,238.5 302.5,234.8 302.5,237.4 302.6,236.7 302.7,225.7 302.8,222.4 302.8,235.8 302.9,235.0 303.0,224.1 303.1,235.9 303.2,220.7 303.2,220.8 303.3,222.8 303.4,237.4 303.5,223.5 303.5,236.6 303.6,218.2 303.7,237.6 303.8,226.0 303.8,241.2 303.9,222.5 304.0,240.0 304.1,222.9 304.2,224.9 304.2,222.5 304.3,235.0 304.4,221.4 304.5,238.0 304.5,224.9 304.6,239.5 304.7,214.1 304.8,240.9 304.8,224.4 304.9,223.8 305.0,219.6 305.1,223.8 305.2,222.0 305.2,218.2 305.3,225.8 305.4,220.6 305.5,218.1 305.5,238.6 305.6,237.4 305.7,236.5 305.8,224.8 305.8,238.9 305.9,218.5 306.0,237.7 306.1,222.6 306.2,240.6 306.2,222.5 306.3,237.8 306.4,202.0 306.5,238.4 306.5,218.3 306.6,239.0 306.7,219.1 306.8,237.5 306.8,243.4 306.9,248.0 307.0,214.0 307.1,242.3 307.2,217.1 307.2,237.2 307.3,237.0 307.4,251.0 307.5,215.9 307.5,236.1 307.6,219.1 307.7,238.7 307.8,221.4 307.8,242.9 307.9,217.2 308.0,242.7 308.1,219.7 308.2,241.8 308.2,221.4 308.3,214.6 308.4,218.9 308.5,247.6 308.5,210.7 308.6,240.3 308.7,256.0 308.8,254.9 308.8,214.6 308.9,245.3 309.0,250.7 309.1,240.0 309.2,216.7 309.2,222.0 309.3,217.5 309.4,243.3 309.5,222.6 309.5,239.3 309.6,218.1 309.7,235.5 309.8,212.3 309.8,238.7 309.9,219.5 310.0,218.4 310.1,244.6 310.2,240.6 310.2,210.3 310.3,244.8 310.4,214.5 310.5,215.3 310.5,217.0 310.6,236.1 310.7,221.9 310.8,238.3 310.8,224.3 310.9,237.5 311.0,254.0 311.1,222.3 311.2,241.2 311.2,242.4 311.3,220.4 311.4,211.9 311.5,215.5 311.5,244.8 311.6,217.6 311.7,240.2 311.8,210.8 311.8,242.2 311.9,221.3 312.0,210.0 312.1,235.4 312.2,241.8 312.2,216.8 312.3,243.0 312.4,215.0 312.5,240.4 312.5,222.7 312.6,251.3 312.7,240.7 312.8,237.4 312.8,223.5 312.9,245.0 313.0,254.0 313.1,222.5 313.2,217.6 313.2,219.6 313.3,213.4 313.4,243.5 313.5,223.4 313.5,249.6 313.6,217.1 313.7,237.4 313.8,212.7 313.8,219.3 313.9,218.5 314.0,215.0 314.1,216.6 314.2,242.6 314.2,215.7 314.3,248.4 314.4,206.5 314.5,238.2 314.5,221.3 314.6,242.7 314.7,224.4 314.8,219.1 314.8,240.2 314.9,238.5 315.0,220.9 315.1,242.9 315.2,223.2 315.2,236.5 315.3,221.1 315.4,239.1 315.5,223.5 315.5,236.2 315.6,222.9 315.7,239.5 315.8,224.1 315.8,238.8 315.9,222.0 316.0,240.9 316.1,237.0 316.2,239.6 316.2,220.1 316.3,221.0 316.4,225.8 316.5,239.4 316.5,225.2 316.6,221.5 316.7,222.0 316.8,213.7 316.8,217.9 316.9,239.5 317.0,242.5 317.1,247.3 317.2,222.6 317.2,246.0 317.3,216.0 317.4,245.9 317.5,211.1 317.5,244.4 317.6,224.0 317.7,248.1 317.8,213.2 317.8,219.9 317.9,221.3 318.0,239.3 318.1,217.7 318.2,238.7 318.2,216.0 318.3,240.9 318.4,222.5 318.5,239.8 318.5,225.3 318.6,240.4 318.7,222.9 318.8,239.6 318.8,224.4 318.9,245.6 319.0,223.3 319.1,236.5 319.2,237.4 319.2,245.7 319.3,223.5 319.4,238.4 319.5,222.2 319.5,236.8 319.6,238.9 319.7,237.0 319.8,221.4 319.8,235.6 319.9,234.7 320.0,243.8 320.1,224.3 320.2,238.7 320.2,235.1 320.3,237.7 320.4,226.2 320.5,241.1 320.5,225.1 320.6,237.5 320.7,223.7 320.8,228.1 320.8,226.2 320.9,236.5 321.0,228.3 321.1,235.9 321.2,228.2 321.2,227.4 321.3,228.6 321.4,226.5 321.5,226.4 321.5,238.4 321.6,227.6 321.7,223.3 321.8,227.6 321.8,234.9 321.9,224.0 322.0,243.6 322.1,226.0 322.2,235.8 322.2,220.8 322.3,238.7 322.4,225.6 322.5,237.9 322.5,239.4 322.6,224.7 322.7,223.4 322.8,238.9 322.8,226.9 322.9,240.8 323.0,237.5 323.1,235.9 323.2,225.4 323.2,235.5 323.3,227.7 323.4,239.9 323.5,228.5 323.5,237.3 323.6,228.8 323.7,239.9 323.8,227.1 323.9,228.4 323.9,229.2 324.0,239.9 324.1,227.2 324.2,238.2 324.2,229.6 324.3,237.0 324.4,238.2 324.5,237.3 324.5,230.9 324.6,238.3 324.7,228.1 324.8,229.7 324.9,229.1 324.9,238.6 325.0,228.7 325.1,240.1 325.2,229.4 325.2,238.9 325.3,231.6 325.4,235.5 325.5,229.5 325.5,239.2 325.6,237.5 325.7,238.1 325.8,228.3 325.9,237.5 325.9,239.1 326.0,237.4 326.1,229.4 326.2,229.9 326.2,230.9 326.3,224.1 326.4,228.3 326.5,230.3 326.5,230.8 326.6,241.0 326.7,224.5 326.8,240.5 326.9,240.9 326.9,241.0 327.0,231.6 327.1,227.4 327.2,227.4 327.2,238.0 327.3,230.0 327.4,231.4 327.5,240.1 327.5,239.6 327.6,232.8 327.7,237.3 327.8,232.5 327.9,237.3 327.9,231.4 328.0,236.6 328.1,232.8 328.2,233.2 328.2,236.9 328.3,239.9 328.4,230.0 328.5,241.8 328.5,231.6 328.6,241.8 328.7,228.5 328.8,241.5 328.9,229.0 328.9,244.1 329.0,231.3 329.1,242.9 329.2,229.0 329.2,238.3 329.3,232.1 329.4,240.3 329.5,228.6 329.5,239.7 329.6,232.1 329.7,240.0 329.8,231.6 329.9,239.1 329.9,231.8 330.0,238.5 330.1,238.0 330.2,231.6 330.2,237.6 330.3,237.6 330.4,233.6 330.5,240.1 330.5,234.1 330.6,238.5 330.7,233.9 330.8,232.8 330.9,233.6 330.9,234.0 331.0,234.6 331.1,237.8 331.2,233.2 331.2,237.5 331.3,233.5 331.4,238.4 331.5,231.3 331.5,238.0 331.6,232.0 331.7,239.3 331.8,231.9 331.9,241.8 331.9,231.7 332.0,239.1 332.1,233.4 332.2,232.8 332.2,231.9 332.3,240.6 332.4,232.2 332.5,239.8 332.5,232.7 332.6,240.0 332.7,234.3 332.8,239.3 332.9,238.0 332.9,238.8 333.0,233.7 333.1,240.2 333.2,233.6 333.2,238.0 333.3,234.6 333.4,238.7 333.5,235.0 333.5,238.8 333.6,234.4 333.7,235.2 333.8,235.3 333.9,239.3 333.9,234.6 334.0,238.9 334.1,234.6 334.2,237.8 334.2,235.3 334.3,237.6 334.4,236.1 334.5,238.3 334.5,235.6 334.6,237.3 334.7,236.2 334.8,237.7 334.9,237.3 334.9,237.5 335.0,236.2 335.1,237.8 335.2,237.9 335.2,237.7 335.3,237.9 335.4,236.0 335.5,236.4 335.5,238.0 335.6,236.3 335.7,237.8 335.8,236.0 335.9,235.7 335.9,236.2 336.0,239.7 336.1,235.2 336.2,238.5 336.2,235.9 336.3,240.3 336.4,239.6 336.5,239.6 336.5,234.8 336.6,238.9 336.7,236.0 336.8,238.9 336.9,233.0 336.9,239.9 337.0,233.8 337.1,240.3 337.2,234.3 337.2,234.7 337.3,233.1 337.4,241.1 337.5,232.7 337.5,240.5 337.6,235.4 337.7,239.4 337.8,236.1 337.9,236.5 337.9,234.1 338.0,242.5 338.1,235.0 338.2,241.2 338.2,235.7 338.3,242.1 338.4,233.2 338.5,242.7 338.5,240.5 338.6,243.3 338.7,234.1 338.8,242.3 338.9,233.1 338.9,242.2 339.0,232.9 339.1,241.1 339.2,234.3 339.2,241.4 339.3,235.5 339.4,241.0 339.5,235.5 339.5,232.9 339.6,235.8 339.7,240.7 339.8,235.0 339.9,239.8 339.9,235.1 340.0,242.9 340.1,231.8 340.2,243.4 340.2,243.6 340.3,242.3 340.4,234.7 340.5,233.0 340.5,233.1 340.6,241.8 340.7,232.1 340.8,232.1 340.9,232.4 340.9,243.8 341.0,231.7 341.1,242.4 341.2,232.0 341.2,241.0 341.3,233.3 341.4,234.7 341.5,235.1 341.5,231.6 341.6,234.4 341.7,243.6 341.8,244.1 341.9,232.7 341.9,243.9 342.0,241.5 342.1,232.5 342.2,241.8 342.2,232.2 342.3,235.5 342.4,231.8 342.5,231.0 342.5,231.6 342.6,243.5 342.7,234.8 342.8,240.5 342.9,230.9 342.9,242.4 343.0,234.1 343.1,233.0 343.2,229.3 343.2,248.5 343.3,233.1 343.4,243.8 343.5,228.8 343.5,229.3 343.6,247.4 343.7,243.5 343.8,229.2 343.9,252.7 343.9,229.8 344.0,230.4 344.1,233.9 344.2,231.7 344.2,242.9 344.3,231.2 344.4,253.3 344.5,245.3 344.5,233.4 344.6,247.9 344.7,232.3 344.8,250.4 344.9,246.7 344.9,230.0 345.0,231.9 345.1,248.5 345.2,249.5 345.2,227.9 345.3,230.7 345.4,251.2 345.5,228.7 345.5,250.9 345.6,227.7 345.7,242.8 345.8,229.5 345.9,247.8 345.9,232.6 346.0,247.9 346.1,226.0 346.2,242.9 346.2,231.0 346.3,244.4 346.4,230.4 346.5,247.5 346.5,231.1 346.6,245.4 346.7,231.5 346.8,251.1 346.9,229.6 346.9,248.6 347.0,225.5 347.1,224.8 347.2,230.1 347.2,254.3 347.3,223.2 347.4,253.8 347.5,230.3 347.5,255.9 347.6,221.4 347.7,254.3 347.8,231.8 347.9,216.9 347.9,230.5 348.0,253.3 348.1,222.8 348.2,224.6 348.2,248.9 348.3,250.3 348.4,242.6 348.5,242.6 348.5,227.3 348.6,232.3 348.7,229.9 348.8,228.6 348.9,251.3 348.9,249.2 349.0,248.2 349.1,247.2 349.2,248.6 349.2,253.5 349.3,231.5 349.4,248.4 349.5,232.6 349.5,245.7 349.6,231.7 349.7,245.7 349.8,230.7 349.9,228.6 349.9,230.5 350.0,249.1 350.1,230.5 350.2,246.6 350.2,226.4 350.3,246.8 350.4,233.1 350.5,230.8 350.5,227.0 350.6,255.9 350.7,223.5 350.8,254.1 350.9,229.8 350.9,251.8 351.0,226.2 351.1,249.7 351.2,231.9 351.2,250.0 351.3,229.1 351.4,244.6 351.5,231.2 351.5,248.8 351.6,250.4 351.7,251.7 351.8,223.3 351.9,228.1 351.9,231.5 352.0,250.1 352.1,224.5 352.2,250.9 352.2,231.5 352.3,256.5 352.4,228.7 352.5,246.9 352.5,223.5 352.6,247.4 352.7,229.8 352.8,244.0 352.9,228.7 352.9,251.8 353.0,259.0 353.1,231.7 353.2,230.1 353.2,244.2 353.3,228.1 353.4,247.2 353.5,232.0 353.5,243.2 353.6,228.6 353.7,246.3 353.8,231.8 353.9,246.5 353.9,232.6 354.0,211.0 354.1,246.1 354.2,247.4 354.2,254.3 354.3,252.3 354.4,219.2 354.5,247.2 354.5,222.8 354.6,246.9 354.7,227.0 354.8,247.3 354.9,229.9 354.9,250.1 355.0,226.1 355.1,248.7 355.2,225.2 355.2,247.8 355.3,222.4 355.4,248.7 355.5,223.3 355.5,249.0 355.6,231.7 355.7,252.5 355.8,231.8 355.9,250.5 355.9,222.2 356.0,252.5 356.1,244.7 356.2,250.0 356.2,229.0 356.3,251.9 356.4,249.3 356.5,246.2 356.5,231.4 356.6,251.7 356.7,229.1 356.8,244.9 356.9,226.8 356.9,247.3 357.0,232.4 357.1,248.8 357.2,232.1 357.2,246.0 357.3,226.5 357.4,247.7 357.5,225.8 357.5,247.0 357.6,229.9 357.7,230.8 357.8,228.8 357.9,255.2 357.9,253.5 358.0,228.9 358.1,229.9 358.2,246.3 358.2,250.0 358.3,244.2 358.4,231.0 358.5,244.7 358.5,230.8 358.6,245.1 358.7,229.7 358.8,244.3 358.9,249.7 358.9,245.9 359.0,234.4 359.1,242.0 359.2,230.8 359.2,244.3 359.3,233.5 359.4,245.5 359.5,249.4 359.5,242.8 359.6,234.9 359.7,243.4 359.8,233.5 359.9,249.0 359.9,226.6 360.0,247.0 360.1,223.7 360.2,248.5 360.2,229.1 360.3,226.3 360.4,233.1 360.5,247.0 360.5,227.8 360.6,251.6 360.7,246.3 360.8,246.5 360.9,227.8 360.9,247.5 361.0,245.6 361.1,228.2 361.2,232.7 361.2,249.5 361.3,231.4 361.4,248.7 361.5,244.1 361.5,247.4 361.6,234.1 361.7,247.7 361.8,235.8 361.9,245.3 361.9,232.6 362.0,243.9 362.1,231.7 362.2,231.1 362.2,228.7 362.3,244.3 362.4,235.3 362.5,249.4 362.5,233.5 362.6,247.3 362.7,232.8 362.8,245.8 362.9,245.6 362.9,250.2 363.0,247.3 363.1,250.8 363.2,230.2 363.2,253.5 363.3,231.9 363.4,247.2 363.5,228.0 363.5,254.2 363.6,226.4 363.7,249.3 363.8,230.1 363.9,255.4 363.9,235.7 364.0,251.7 364.1,232.5 364.2,254.5 364.2,232.2 364.3,248.8 364.4,235.8 364.5,246.1 364.5,230.5 364.6,248.2 364.7,234.4 364.8,246.5 364.9,229.7 364.9,251.4 365.0,233.8 365.1,247.3 365.2,235.8 365.2,251.7 365.3,231.6 365.4,246.8 365.5,236.6 365.5,247.7 365.6,234.8 365.7,246.0 365.8,234.1 365.9,248.1 365.9,237.2 366.0,245.4 366.1,237.3 366.2,245.7 366.2,236.7 366.3,249.2 366.4,234.3 366.5,247.8 366.5,249.7 366.6,245.4 366.7,248.0 366.8,248.7 366.9,238.0 366.9,245.8 367.0,232.3 367.1,248.8 367.2,234.7 367.2,245.4 367.3,238.6 367.4,245.7 367.5,236.9 367.5,246.6 367.6,235.9 367.7,247.2 367.8,239.1 367.9,236.3 367.9,237.7 368.0,246.2 368.1,239.6 368.2,249.0 368.2,237.6 368.3,248.1 368.4,236.4 368.5,240.0 368.5,238.8 368.6,245.5 368.7,239.3 368.8,245.5 368.9,238.5 368.9,247.1 369.0,239.5 369.1,247.9 369.2,247.7 369.2,247.8 369.3,238.2 369.4,247.4 369.5,239.1 369.5,240.8 369.6,239.7 369.7,248.6 369.8,234.4 369.9,237.4 369.9,238.0 370.0,249.1 370.1,236.1 370.2,237.0 370.2,235.7 370.3,237.6 370.4,236.7 370.5,248.0 370.5,237.2 370.6,250.5 370.7,236.8 370.8,246.6 370.9,234.9 370.9,250.5 371.0,239.9 371.1,251.8 371.2,239.4 371.2,246.7 371.3,240.8 371.4,248.2 371.5,240.5 371.6,251.9 371.6,240.3 371.7,247.3 371.8,239.5 371.9,249.8 371.9,238.9 372.0,239.3 372.1,240.7 372.2,246.9 372.2,241.2 372.3,248.7 372.4,242.5 372.5,246.7 372.6,242.1 372.6,247.5 372.7,241.9 372.8,247.7 372.9,242.8 372.9,247.1 373.0,241.1 373.1,247.0 373.2,241.8 373.2,248.4 373.3,241.4 373.4,247.5 373.5,246.4 373.6,246.8 373.6,242.5 373.7,246.2 373.8,243.1 373.9,246.1 373.9,246.8 374.0,245.8 374.1,242.8 374.2,247.3 374.2,242.3 374.3,246.3 374.4,242.6 374.5,246.5 374.6,242.9 374.6,246.4 374.7,242.5 374.8,248.6 374.9,241.5 374.9,246.8 375.0,241.7 375.1,247.1 375.2,241.5 375.2,242.3 375.3,243.7 375.4,246.6 375.5,243.5 375.6,247.8 375.6,242.2 375.7,247.9 375.8,242.2 375.9,249.2 375.9,243.3 376.0,243.6 376.1,244.3 376.2,247.6 376.2,242.5 376.3,247.0 376.4,243.1 376.5,248.3 376.6,244.3 376.6,247.0 376.7,244.2 376.8,247.5 376.9,243.0 376.9,248.1 377.0,247.6 377.1,247.3 377.2,242.3 377.2,247.2 377.3,244.3 377.4,243.5 377.5,244.0 377.6,247.7 377.6,243.6 377.7,246.9 377.8,244.1 377.9,247.0 377.9,244.4 378.0,247.4 378.1,244.6 378.2,247.4 378.2,243.8 378.3,247.5 378.4,243.7 378.5,246.7 378.6,244.2 378.6,246.6 378.7,245.0 378.8,246.8 378.9,244.9 378.9,246.6 379.0,244.8 379.1,247.1 379.2,244.5 379.2,246.6 379.3,243.9 379.4,247.5 379.5,244.2 379.6,246.5 379.6,244.0 379.7,244.3 379.8,244.2 379.9,247.0 379.9,244.9 380.0,246.4 380.1,244.3 380.2,244.4 380.2,244.6 380.3,248.4 380.4,244.2 380.5,248.4 380.6,247.4 380.6,247.9 380.7,244.7 380.8,247.7 380.9,247.9 380.9,249.3 381.0,242.7 381.1,248.8 381.2,244.4 381.2,248.5 381.3,243.3 381.4,247.5 381.5,242.9 381.6,248.4 381.6,240.4 381.7,248.4 381.8,241.2 381.9,242.0 381.9,241.2 382.0,249.5 382.1,249.8 382.2,248.4 382.2,239.9 382.3,251.1 382.4,239.0 382.5,254.4 382.6,248.7 382.6,241.5 382.7,239.8 382.8,241.5 382.9,237.6 382.9,251.8 383.0,241.1 383.1,242.0 383.2,239.9 383.2,239.7 383.3,238.5 383.4,249.1 383.5,242.4 383.6,253.3 383.6,243.6 383.7,250.1 383.8,254.3 383.9,241.8 383.9,249.8 384.0,252.4 384.1,240.0 384.2,251.7 384.2,242.8 384.3,239.4 384.4,239.1 384.5,254.7 384.6,238.9 384.6,241.8 384.7,236.4 384.8,250.2 384.9,243.5 384.9,251.0 385.0,242.8 385.1,253.4 385.2,242.9 385.2,252.0 385.3,242.5 385.4,251.9 385.5,239.7 385.6,252.7 385.6,240.2 385.7,255.2 385.8,238.4 385.9,254.1 385.9,239.9 386.0,256.5 386.1,240.1 386.2,255.6 386.2,240.2 386.3,253.8 386.4,242.1 386.5,251.4 386.6,239.7 386.6,254.2 386.7,240.9 386.8,253.1 386.9,240.7 386.9,251.5 387.0,239.9 387.1,250.4 387.2,242.4 387.2,256.4 387.3,242.5 387.4,243.2 387.5,238.5 387.6,239.4 387.6,250.5 387.7,252.8 387.8,250.9 387.9,252.7 387.9,240.7 388.0,253.7 388.1,242.6 388.2,253.2 388.2,242.0 388.3,253.5 388.4,241.9 388.5,252.1 388.6,241.3 388.6,251.3 388.7,243.4 388.8,251.4 388.9,243.3 388.9,252.5 389.0,241.5 389.1,253.5 389.2,254.4 389.2,252.7 389.3,238.8 389.4,251.0 389.5,251.4 389.6,241.2 389.6,240.2 389.7,253.5 389.8,238.9 389.9,250.6 389.9,242.3 390.0,251.7 390.1,238.8 390.2,250.8 390.2,242.6 390.3,251.7 390.4,243.0 390.5,251.9 390.6,237.9 390.6,249.7 390.7,235.7 390.8,254.0 390.9,252.1 390.9,253.5 391.0,240.7 391.1,254.2 391.2,240.8 391.2,249.3 391.3,239.8 391.4,251.4 391.5,239.0 391.6,255.0 391.6,253.8 391.7,255.8 391.8,252.4 391.9,255.6 391.9,242.8 392.0,242.0 392.1,240.3 392.2,251.2 392.2,242.6 392.3,250.5 392.4,242.7 392.5,252.0 392.6,240.0 392.6,252.7 392.7,240.6 392.8,255.7 392.9,237.3 392.9,250.3 393.0,253.5 393.1,249.8 393.2,232.3 393.2,255.3 393.3,236.0 393.4,221.0 393.5,253.5 393.6,253.4 393.6,238.8 393.7,256.9 393.8,239.4 393.9,255.2 393.9,250.2 394.0,250.9 394.1,238.8 394.2,252.8 394.2,238.2 394.3,256.4 394.4,242.0 394.5,255.6 394.6,241.0 394.6,250.3 394.7,236.9 394.8,255.3 394.9,237.0 394.9,253.4 395.0,238.4 395.1,255.4 395.2,252.9 395.2,262.8 395.3,236.8 395.4,232.2 395.5,233.1 395.6,237.4 395.6,238.9 395.7,258.3 395.8,237.8 395.9,258.6 395.9,232.8 396.0,252.9 396.1,234.6 396.2,254.9 396.2,238.2 396.3,255.6 396.4,237.9 396.5,254.8 396.6,237.6 396.6,253.2 396.7,234.9 396.8,256.7 396.9,235.8 396.9,250.1 397.0,237.9 397.1,253.4 397.2,237.5 397.2,234.4 397.3,238.3 397.4,233.2 397.5,253.1 397.6,253.0 397.6,231.9 397.7,262.7 397.8,237.3 397.9,265.1 397.9,225.4 398.0,236.9 398.1,233.9 398.2,259.6 398.2,230.6 398.3,255.9 398.4,231.8 398.5,261.6 398.6,231.7 398.6,254.9 398.7,237.8 398.8,258.8 398.9,229.6 398.9,262.3 399.0,258.4 399.1,255.8 399.2,232.6 399.2,257.8 399.3,235.0 399.4,257.7 399.5,236.7 399.6,241.3 399.6,254.8 399.7,253.3 399.8,239.9 399.9,241.5 399.9,239.2 400.0,252.4 400.1,256.0 400.2,257.9 400.2,238.7 400.3,254.9 400.4,240.7 400.5,257.3 400.6,235.1 400.6,255.1 400.7,237.7 400.8,262.2 400.9,233.8 400.9,257.7 401.0,241.7 401.1,259.5 401.2,228.7 401.2,255.4 401.3,234.4 401.4,256.4 401.5,241.5 401.6,259.4 401.6,240.1 401.7,259.2 401.8,239.0 401.9,267.9 401.9,238.7 402.0,269.9 402.1,234.4 402.2,266.5 402.2,255.9 402.3,261.4 402.4,260.1 402.5,259.8 402.6,234.8 402.6,264.8 402.7,234.5 402.8,241.9 402.9,258.1 402.9,266.1 403.0,240.1 403.1,260.2 403.2,240.4 403.2,256.0 403.3,240.0 403.4,241.9 403.5,237.5 403.6,243.9 403.6,256.0 403.7,240.6 403.8,244.0 403.9,255.5 403.9,245.2 404.0,256.3 404.1,241.5 404.2,256.1 404.2,242.4 404.3,254.4 404.4,242.8 404.5,243.6 404.6,244.3 404.6,258.0 404.7,240.6 404.8,260.7 404.9,243.5 404.9,257.2 405.0,245.6 405.1,257.8 405.2,240.2 405.2,241.1 405.3,244.0 405.4,253.3 405.5,240.8 405.6,244.4 405.6,246.7 405.7,256.9 405.8,244.3 405.9,258.1 405.9,243.9 406.0,255.1 406.1,257.6 406.2,259.5 406.2,242.9 406.3,241.9 406.4,245.0 406.5,257.4 406.6,245.6 406.6,258.4 406.7,244.8 406.8,255.1 406.9,239.2 406.9,256.9 407.0,245.6 407.1,257.3 407.2,256.3 407.2,255.1 407.3,242.6 407.4,255.1 407.5,256.0 407.6,257.2 407.6,248.7 407.7,244.6 407.8,247.3 407.9,255.5 407.9,246.4 408.0,245.7 408.1,246.5 408.2,256.6 408.2,248.4 408.3,246.3 408.4,248.7 408.5,255.3 408.6,248.4 408.6,256.8 408.7,246.4 408.8,256.5 408.9,248.7 408.9,259.8 409.0,247.8 409.1,257.9 409.2,258.6 409.2,258.6 409.3,248.1 409.4,259.8 409.5,261.1 409.6,242.4 409.6,249.2 409.7,258.2 409.8,248.1 409.9,258.1 409.9,245.9 410.0,258.2 410.1,259.2 410.2,257.1 410.2,248.5 410.3,255.9 410.4,248.1 410.5,256.0 410.6,247.9 410.6,248.2 410.7,247.8 410.8,248.2 410.9,248.3 410.9,257.1 411.0,249.1 411.1,259.5 411.2,256.8 411.2,259.7 411.3,251.2 411.4,262.0 411.5,249.0 411.6,248.4 411.6,251.4 411.7,259.0 411.8,246.4 411.9,261.7 411.9,247.9 412.0,260.4 412.1,249.3 412.2,261.5 412.2,257.8 412.3,260.5 412.4,249.7 412.5,260.0 412.6,249.3 412.6,262.5 412.7,263.0 412.8,259.5 412.9,251.1 412.9,260.2 413.0,249.1 413.1,261.8 413.2,261.5 413.2,262.7 413.3,249.2 413.4,259.0 413.5,258.9 413.6,259.3 413.6,251.4 413.7,259.9 413.8,253.4 413.9,251.9 413.9,254.2 414.0,260.9 414.1,251.8 414.2,262.1 414.2,252.2 414.3,260.2 414.4,260.4 414.5,262.0 414.6,251.7 414.6,262.0 414.7,254.4 414.8,262.4 414.9,251.9 414.9,255.2 415.0,254.8 415.1,255.5 415.2,255.3 415.2,260.6 415.3,253.5 415.4,259.1 415.5,252.9 415.6,260.7 415.6,261.1 415.7,261.0 415.8,253.0 415.9,260.6 415.9,260.6 416.0,262.7 416.1,252.2 416.2,262.7 416.2,253.7 416.3,263.6 416.4,250.5 416.5,262.2 416.6,253.2 416.6,260.9 416.7,253.7 416.8,263.8 416.9,253.7 416.9,253.4 417.0,255.7 417.1,256.3 417.2,255.4 417.2,259.6 417.3,255.9 417.4,260.9 417.5,255.3 417.6,261.5 417.6,256.0 417.7,263.0 417.8,256.3 417.9,255.1 417.9,262.7 418.0,262.2 418.1,254.8 418.2,256.9 418.2,256.6 418.3,261.6 418.4,255.8 418.5,256.1 418.6,256.6 418.6,261.6 418.7,256.1 418.8,257.3 418.9,258.1 418.9,260.1 419.0,257.1 419.1,260.7 419.2,257.0 419.3,259.9 419.3,257.8 419.4,260.0 419.5,257.6 419.6,260.4 419.6,257.8 419.7,260.2 419.8,260.5 419.9,261.6 419.9,258.1 420.0,260.2 420.1,257.7 420.2,260.7 420.3,257.7 420.3,260.9 420.4,261.1 420.5,261.1 420.6,261.2 420.6,261.4 420.7,258.6 420.8,260.4 420.9,258.3 420.9,260.6 421.0,258.4 421.1,261.0 421.2,257.9 421.3,261.0 421.3,258.3 421.4,260.5 421.5,258.5 421.6,258.8 421.6,259.0 421.7,261.4 421.8,258.9 421.9,260.9 421.9,258.0 422.0,259.2 422.1,258.7 422.2,260.8 422.3,259.2 422.3,260.3 422.4,259.3 422.5,260.8 422.6,258.9 422.6,260.9 422.7,259.5 422.8,260.3 422.9,259.6 422.9,259.4 423.0,259.6 423.1,259.1 423.2,259.5 423.3,260.8 423.3,259.4 423.4,261.6 423.5,258.6 423.6,261.1 423.6,259.1 423.7,258.5 423.8,257.9 423.9,262.3 423.9,258.6 424.0,256.9 424.1,257.7 424.2,261.9 424.3,257.7 424.3,261.4 424.4,258.4 424.5,257.4 424.6,256.4 424.6,263.7 424.7,261.8 424.8,261.9 424.9,255.5 424.9,262.8 425.0,262.0 425.1,263.4 425.2,263.7 425.3,262.6 425.3,262.9 425.4,263.1 425.5,255.4 425.6,262.4 425.6,263.9 425.7,264.3 425.8,254.7 425.9,264.8 425.9,256.2 426.0,264.7 426.1,254.3 426.2,267.9 426.3,252.0 426.3,263.7 426.4,256.0 426.5,257.2 426.6,253.4 426.6,265.5 426.7,254.5 426.8,264.2 426.9,255.8 426.9,264.9 427.0,254.9 427.1,265.7 427.2,257.0 427.3,262.2 427.3,262.2 427.4,263.9 427.5,258.1 427.6,264.2 427.6,257.2 427.7,256.9 427.8,257.9 427.9,256.7 427.9,255.4 428.0,266.4 428.1,256.3 428.2,262.5 428.3,256.2 428.3,263.3 428.4,252.5 428.5,253.1 428.6,256.0 428.6,266.8 428.7,255.0 428.8,267.5 428.9,254.1 428.9,265.5 429.0,254.7 429.1,254.8 429.2,254.3 429.3,266.2 429.3,251.6 429.4,265.2 429.5,252.0 429.6,267.3 429.6,252.0 429.7,268.0 429.8,256.0 429.9,271.1 429.9,251.6 430.0,268.0 430.1,251.6 430.2,253.8 430.3,252.9 430.3,251.4 430.4,253.1 430.5,268.2 430.6,253.5 430.6,264.3 430.7,254.3 430.8,264.4 430.9,257.0 430.9,265.0 431.0,256.1 431.1,262.5 431.2,256.6 431.3,262.7 431.3,257.1 431.4,256.2 431.5,255.4 431.6,261.7 431.6,256.2 431.7,261.5 431.8,253.9 431.9,262.5 431.9,257.3 432.0,262.5 432.1,257.0 432.2,256.0 432.3,264.4 432.3,266.7 432.4,255.7 432.5,262.2 432.6,263.0 432.6,253.4 432.7,256.0 432.8,263.2 432.9,265.8 432.9,263.6 433.0,250.8 433.1,253.1 433.2,256.1 433.3,255.6 433.3,261.7 433.4,261.3 433.5,252.2 433.6,263.7 433.6,264.1 433.7,264.2 433.8,254.3 433.9,254.1 433.9,264.9 434.0,261.4 434.1,253.3 434.2,264.2 434.3,255.2 434.3,254.9 434.4,253.7 434.5,261.9 434.6,254.9 434.6,264.5 434.7,253.6 434.8,265.6 434.9,252.0 434.9,267.3 435.0,247.8 435.1,269.4 435.2,243.2 435.3,247.2 435.3,247.3 435.4,268.7 435.5,245.8 435.6,273.8 435.6,244.4 435.7,272.0 435.8,249.3 435.9,266.7 435.9,251.6 436.0,262.3 436.1,249.7 436.2,263.3 436.3,250.6 436.3,263.4 436.4,250.0 436.5,262.6 436.6,251.2 436.6,263.9 436.7,252.7 436.8,260.9 436.9,249.2 436.9,253.0 437.0,249.7 437.1,261.6 437.2,259.8 437.3,251.5 437.3,251.3 437.4,265.6 437.5,247.1 437.6,261.2 437.6,247.6 437.7,266.7 437.8,242.0 437.9,268.7 437.9,247.1 438.0,268.5 438.1,236.1 438.2,272.1 438.3,241.8 438.3,264.3 438.4,242.9 438.5,265.2 438.6,248.4 438.6,261.5 438.7,242.9 438.8,261.0 438.9,260.4 438.9,263.0 439.0,250.3 439.1,265.5 439.2,246.0 439.3,242.0 439.3,245.9 439.4,267.7 439.5,265.1 439.6,266.7 439.6,264.5 439.7,264.6 439.8,271.0 439.9,263.7 439.9,243.4 440.0,262.3 440.1,250.5 440.2,259.8 440.3,249.2 440.3,264.4 440.4,244.6 440.5,248.2 440.6,247.0 440.6,263.5 440.7,265.0 440.8,266.7 440.9,249.2 440.9,270.1 441.0,235.6 441.1,261.9 441.2,267.0 441.3,263.9 441.3,236.2 441.4,247.6 441.5,266.9 441.6,262.5 441.6,283.0 441.7,247.7 441.8,246.8 441.9,266.3 441.9,245.7 442.0,266.1 442.1,245.6 442.2,266.6 442.3,243.7 442.3,265.8 442.4,249.0 442.5,270.4 442.6,243.2 442.6,264.2 442.7,249.5 442.8,267.7 442.9,249.6 442.9,268.8 443.0,246.0 443.1,270.3 443.2,246.4 443.3,262.6 443.3,251.7 443.4,261.8 443.5,251.2 443.6,263.5 443.6,252.0 443.7,261.3 443.8,248.2 443.9,248.6 443.9,247.5 444.0,261.8 444.1,244.1 444.2,268.2 444.3,245.7 444.3,268.1 444.4,241.6 444.5,274.9 444.6,238.6 444.6,265.7 444.7,250.6 444.8,271.5 444.9,243.6 444.9,266.8 445.0,242.9 445.1,266.2 445.2,243.8 445.3,271.3 445.3,247.3 445.4,267.1 445.5,248.6 445.6,265.0 445.6,249.1 445.7,263.5 445.8,245.7 445.9,242.6 445.9,264.6 446.0,265.3 446.1,246.5 446.2,266.2 446.3,245.3 446.3,267.1 446.4,246.4 446.5,264.6 446.6,266.3 446.6,262.9 446.7,253.8 446.8,262.1 446.9,254.2 446.9,267.1 447.0,240.0 447.1,263.2 447.2,248.7 447.3,248.5 447.3,253.6 447.4,263.0 447.5,252.9 447.6,265.7 447.6,251.8 447.7,263.3 447.8,252.8 447.9,262.9 447.9,253.5 448.0,265.7 448.1,255.1 448.2,260.7 448.3,255.8 448.3,263.5 448.4,253.1 448.5,264.5 448.6,253.8 448.6,254.2 448.7,253.5 448.8,255.8 448.9,266.8 448.9,264.3 449.0,253.6 449.1,262.6 449.2,252.5 449.3,268.3 449.3,266.1 449.4,265.1 449.5,256.2 449.6,264.5 449.6,255.6 449.7,264.4 449.8,254.6 449.9,265.2 449.9,254.6 450.0,264.9 450.1,251.0 450.2,269.0 450.3,266.5 450.3,256.1 450.4,254.1 450.5,265.4 450.6,255.3 450.6,263.4 450.7,255.7 450.8,268.5 450.9,249.8 450.9,269.4 451.0,264.5 451.1,268.5 451.2,253.0 451.3,264.2 451.3,256.3 451.4,266.7 451.5,255.4 451.6,267.1 451.6,253.4 451.7,270.8 451.8,253.1 451.9,264.6 451.9,253.7 452.0,267.9 452.1,252.3 452.2,264.3 452.3,268.9 452.3,270.4 452.4,250.7 452.5,270.7 452.6,253.3 452.6,268.3 452.7,254.4 452.8,249.9 452.9,272.7 452.9,266.9 453.0,257.1 453.1,266.4 453.2,251.7 453.3,272.6 453.3,250.1 453.4,268.0 453.5,257.7 453.6,266.8 453.6,256.8 453.7,267.7 453.8,258.9 453.9,268.7 453.9,256.4 454.0,265.4 454.1,257.0 454.2,265.1 454.3,257.0 454.3,266.7 454.4,257.9 454.5,266.3 454.6,259.1 454.6,267.3 454.7,257.1 454.8,265.9 454.9,256.4 454.9,266.8 455.0,255.2 455.1,268.6 455.2,255.0 455.3,268.8 455.3,258.2 455.4,256.2 455.5,258.8 455.6,269.6 455.6,255.3 455.7,265.0 455.8,269.1 455.9,266.5 455.9,252.5 456.0,269.2 456.1,254.9 456.2,268.6 456.3,257.3 456.3,257.7 456.4,255.4 456.5,270.2 456.6,256.6 456.6,255.6 456.7,253.3 456.8,268.4 456.9,253.4 456.9,266.6 457.0,258.8 457.1,267.4 457.2,258.2 457.3,257.5 457.3,254.8 457.4,268.8 457.5,257.6 457.6,268.0 457.6,256.2 457.7,266.3 457.8,256.4 457.9,268.3 457.9,255.9 458.0,267.9 458.1,257.1 458.2,266.7 458.3,257.1 458.3,267.6 458.4,257.6 458.5,257.7 458.6,259.2 458.6,269.4 458.7,255.8 458.8,267.4 458.9,269.3 458.9,268.5 459.0,258.1 459.1,258.3 459.2,259.9 459.3,269.4 459.3,260.0 459.4,267.0 459.5,258.8 459.6,269.4 459.6,258.2 459.7,266.6 459.8,260.1 459.9,259.2 459.9,257.9 460.0,268.1 460.1,260.3 460.2,266.3 460.3,269.3 460.3,267.9 460.4,260.3 460.5,266.8 460.6,261.4 460.6,266.4 460.7,259.6 460.8,259.8 460.9,260.6 460.9,259.6 461.0,260.0 461.1,266.3 461.2,258.8 461.3,266.1 461.3,261.1 461.4,266.8 461.5,258.6 461.6,259.5 461.6,260.7 461.7,260.7 461.8,261.1 461.9,265.9 461.9,267.7 462.0,267.7 462.1,260.8 462.2,264.8 462.3,259.0 462.3,267.4 462.4,261.6 462.5,266.1 462.6,258.8 462.6,264.4 462.7,259.9 462.8,264.2 462.9,259.8 462.9,265.6 463.0,263.9 463.1,264.9 463.2,264.9 463.3,264.1 463.3,262.2 463.4,264.2 463.5,261.9 463.6,264.8 463.6,262.2 463.7,261.9 463.8,264.0 463.9,264.2 463.9,261.2 464.0,264.3 464.1,261.4 464.2,264.3 464.3,261.4 464.3,264.7 464.4,261.8 464.5,263.6 464.6,262.4 464.6,264.2 464.7,261.9 464.8,264.3 464.9,261.8 464.9,264.0 465.0,264.7 465.1,264.2 465.2,264.8 465.3,263.9 465.3,261.3 465.4,264.4 465.5,260.7 465.6,264.8 465.6,260.2 465.7,264.3 465.8,265.1 465.9,264.8 466.0,260.9 466.0,265.5 466.1,261.0 466.2,264.8 466.3,261.4 466.3,263.7 466.4,260.9 466.5,263.7 466.6,261.2 466.6,264.8 466.7,260.1 466.8,259.9 466.9,259.4 467.0,259.1 467.0,259.7 467.1,264.0 467.2,259.1 467.3,264.4 467.3,260.8 467.4,265.7 467.5,259.0 467.6,263.8 467.6,260.5 467.7,264.8 467.8,259.2 467.9,265.7 468.0,258.8 468.0,258.8 468.1,258.1 468.2,264.6 468.3,259.9 468.3,268.1 468.4,258.5 468.5,264.9 468.6,256.8 468.6,266.8 468.7,253.9 468.8,271.4 468.9,269.8 469.0,268.7 469.0,255.7 469.1,267.8 469.2,257.3 469.3,268.1 469.3,269.3 469.4,270.9 469.5,253.3 469.6,270.0 469.6,252.5 469.7,265.8 469.8,255.4 469.9,269.5 470.0,253.6 470.0,271.0 470.1,255.4 470.2,266.0 470.3,255.7 470.3,268.1 470.4,254.1 470.5,267.6 470.6,257.3 470.6,255.6 470.7,258.2 470.8,267.8 470.9,252.5 471.0,265.4 471.0,251.3 471.1,266.6 471.2,255.6 471.3,266.7 471.3,271.7 471.4,267.0 471.5,252.7 471.6,268.8 471.6,251.2 471.7,265.3 471.8,250.8 471.9,271.3 472.0,248.3 472.0,253.9 472.1,253.7 472.2,275.6 472.3,250.8 472.3,269.3 472.4,249.9 472.5,274.5 472.6,248.1 472.6,276.4 472.7,245.2 472.8,275.4 472.9,254.9 473.0,269.4 473.0,251.9 473.1,269.1 473.2,244.5 473.3,244.4 473.3,247.9 473.4,270.1 473.5,248.5 473.6,268.7 473.6,268.6 473.7,268.3 473.8,250.7 473.9,275.5 474.0,256.8 474.0,265.2 474.1,253.7 474.2,265.1 474.3,251.0 474.3,268.2 474.4,249.2 474.5,270.1 474.6,275.5 474.6,252.4 474.7,253.7 474.8,269.3 474.9,244.7 475.0,266.6 475.0,252.0 475.1,264.6 475.2,251.1 475.3,268.4 475.3,254.0 475.4,265.7 475.5,251.8 475.6,268.1 475.6,251.1 475.7,253.0 475.8,249.7 475.9,263.9 476.0,251.5 476.0,263.7 476.1,250.7 476.2,268.0 476.3,252.8 476.3,264.4 476.4,255.4 476.5,264.2 476.6,252.7 476.6,264.1 476.7,252.0 476.8,264.2 476.9,248.2 477.0,266.4 477.0,248.5 477.1,269.5 477.2,246.8 477.3,269.6 477.3,242.0 477.4,277.9 477.5,250.2 477.6,281.1 477.6,246.1 477.7,274.1 477.8,249.9 477.9,270.6 478.0,247.6 478.0,265.8 478.1,246.8 478.2,266.6 478.3,249.7 478.3,263.5 478.4,271.2 478.5,265.6 478.6,267.0 478.6,271.6 478.7,251.5 478.8,271.7 478.9,272.5 479.0,240.1 479.0,248.2 479.1,244.4 479.2,267.4 479.3,264.7 479.3,243.5 479.4,269.9 479.5,245.2 479.6,270.5 479.6,236.6 479.7,270.7 479.8,241.4 479.9,269.7 480.0,249.2 480.0,283.0 480.1,249.1 480.2,269.7 480.3,276.8 480.3,268.8 480.4,242.4 480.5,280.1 480.6,240.1 480.6,274.9 480.7,245.0 480.8,243.1 480.9,246.1 481.0,264.0 481.0,237.5 481.1,267.3 481.2,267.1 481.3,273.5 481.3,244.3 481.4,239.7 481.5,265.2 481.6,228.0 481.6,264.6 481.7,272.5 481.8,235.5 481.9,272.2 482.0,237.3 482.0,279.6 482.1,234.7 482.2,264.2 482.3,248.1 482.3,273.0 482.4,244.9 482.5,270.7 482.6,239.8 482.6,277.7 482.7,269.4 482.8,267.5 482.9,248.9 483.0,267.2 483.0,267.4 483.1,264.0 483.2,268.8 483.3,245.5 483.3,240.9 483.4,265.5 483.5,273.8 483.6,245.8 483.6,241.6 483.7,269.9 483.8,247.6 483.9,272.9 484.0,248.3 484.0,267.3 484.1,245.0 484.2,278.7 484.3,247.6 484.3,265.2 484.4,243.0 484.5,276.0 484.6,249.7 484.6,266.6 484.7,253.6 484.8,268.5 484.9,252.4 485.0,270.1 485.0,245.5 485.1,271.7 485.2,272.5 485.3,266.6 485.3,241.5 485.4,272.2 485.5,248.2 485.6,266.1 485.6,242.8 485.7,240.7 485.8,248.3 485.9,276.8 486.0,241.2 486.0,275.8 486.1,252.2 486.2,268.4 486.3,252.2 486.3,271.2 486.4,277.2 486.5,266.9 486.6,242.5 486.6,274.0 486.7,247.0 486.8,269.0 486.9,255.8 487.0,263.7 487.0,267.7 487.1,265.2 487.2,252.4 487.3,264.3 487.3,253.9 487.4,267.5 487.5,257.0 487.6,268.1 487.6,256.7 487.7,270.4 487.8,246.6 487.9,275.4 488.0,250.3 488.0,266.3 488.1,250.8 488.2,266.2 488.3,255.3 488.3,270.4 488.4,268.0 488.5,265.2 488.6,251.9 488.6,257.3 488.7,255.7 488.8,266.4 488.9,255.2 489.0,254.8 489.0,256.4 489.1,264.7 489.2,267.4 489.3,264.3 489.3,254.8 489.4,265.0 489.5,255.0 489.6,266.8 489.6,258.8 489.7,267.9 489.8,267.3 489.9,268.2 490.0,266.0 490.0,266.2 490.1,265.5 490.2,266.5 490.3,254.9 490.3,264.7 490.4,257.4 490.5,264.8 490.6,259.0 490.6,267.0 490.7,256.3 490.8,267.5 490.9,258.4 491.0,270.6 491.0,256.3 491.1,267.9 491.2,258.6 491.3,272.5 491.3,258.2 491.4,268.6 491.5,256.3 491.6,269.1 491.6,251.2 491.7,274.8 491.8,255.1 491.9,254.4 492.0,255.8 492.0,270.4 492.1,255.5 492.2,270.6 492.3,259.7 492.3,269.9 492.4,257.5 492.5,269.8 492.6,257.7 492.6,267.1 492.7,257.5 492.8,267.8 492.9,257.5 493.0,269.7 493.0,257.5 493.1,270.0 493.2,254.6 493.3,268.8 493.3,257.4 493.4,268.4 493.5,260.0 493.6,274.0 493.6,259.3 493.7,266.8 493.8,269.7 493.9,267.7 494.0,259.4 494.0,266.6 494.1,259.5 494.2,266.9 494.3,262.1 494.3,268.9 494.4,266.8 494.5,267.2 494.6,261.3 494.6,268.7 494.7,261.6 494.8,266.5 494.9,260.8 495.0,266.5 495.0,263.1 495.1,266.6 495.2,261.0 495.3,267.9 495.3,262.2 495.4,269.8 495.5,261.6 495.6,268.8 495.6,262.8 495.7,267.2 495.8,259.9 495.9,268.1 496.0,261.8 496.0,270.2 496.1,267.3 496.2,270.2 496.3,261.8 496.3,269.0 496.4,269.5 496.5,268.2 496.6,262.2 496.6,263.7 496.7,264.0 496.8,270.4 496.9,268.8 497.0,263.2 497.0,262.9 497.1,262.0 497.2,263.6 497.3,262.8 497.3,263.5 497.4,268.3 497.5,263.3 497.6,269.9 497.6,270.2 497.7,270.4 497.8,262.9 497.9,271.8 498.0,263.8 498.0,273.6 498.1,261.8 498.2,269.8 498.3,259.3 498.3,273.9 498.4,262.8 498.5,271.4 498.6,261.1 498.6,272.6 498.7,264.2 498.8,269.7 498.9,261.5 499.0,264.6 499.0,262.1 499.1,271.4 499.2,264.6 499.3,263.5 499.3,269.9 499.4,262.0 499.5,262.0 499.6,270.2 499.6,262.3 499.7,271.5 499.8,261.6 499.9,272.2 500.0,264.9 500.0,271.1 500.1,264.7 500.2,263.5 500.3,266.3 500.3,271.3 500.4,266.2 500.5,264.7 500.6,262.6 500.6,273.4 500.7,266.3 500.8,272.9 500.9,271.9 501.0,271.7 501.0,266.7 501.1,273.0 501.2,273.3 501.3,274.7 501.3,266.5 501.4,272.8 501.5,264.4 501.6,271.3 501.6,264.6 501.7,273.7 501.8,267.0 501.9,272.5 502.0,265.9 502.0,265.5 502.1,265.5 502.2,271.5 502.3,274.0 502.3,273.1 502.4,264.7 502.5,277.5 502.6,267.1 502.6,271.9 502.7,264.8 502.8,272.7 502.9,267.5 503.0,273.9 503.0,267.1 503.1,271.1 503.2,268.2 503.3,271.8 503.3,266.4 503.4,270.8 503.5,266.6 503.6,270.9 503.6,267.6 503.7,271.5 503.8,268.1 503.9,271.9 504.0,267.9 504.0,272.2 504.1,267.6 504.2,271.2 504.3,267.4 504.3,271.2 504.4,267.7 504.5,270.3 504.6,267.7 504.6,270.9 504.7,267.5 504.8,267.8 504.9,270.6 505.0,270.5 505.0,268.3 505.1,269.6 505.2,267.8 505.3,269.9 505.3,268.3 505.4,267.6 505.5,268.0 505.6,270.3 505.6,268.3 505.7,269.8 505.8,268.4 505.9,270.3 506.0,269.8 506.0,270.4 506.1,268.7 506.2,270.2 506.3,270.0 506.3,270.3 506.4,270.1 506.5,270.1 506.6,268.2 506.6,269.7 506.7,268.5 506.8,270.0 506.9,268.6 507.0,268.7 507.0,268.4 507.1,269.6 507.2,268.3 507.3,268.3 507.3,268.3 507.4,270.0 507.5,267.9 507.6,269.5 507.6,268.1 507.7,269.6 507.8,268.6 507.9,270.1 508.0,268.2 508.0,269.5 508.1,268.2 508.2,267.5 508.3,267.6 508.3,270.2 508.4,267.9 508.5,269.8 508.6,267.9 508.6,269.4 508.7,267.2 508.8,269.8 508.9,267.9 509.0,269.3 509.0,267.9 509.1,269.1 509.2,267.9 509.3,269.2 509.3,268.0 509.4,269.8 509.5,267.9 509.6,269.2 509.6,268.3 509.7,270.0 509.8,269.3 509.9,267.4 510.0,268.0 510.0,269.5 510.1,267.7 510.2,269.3 510.3,267.8 510.3,269.5 510.4,269.4 510.5,269.1 510.6,267.6 510.6,269.5 510.7,267.4 510.8,267.5 510.9,267.5 511.0,267.4 511.0,267.4 511.1,269.1 511.2,267.1 511.3,267.9 511.3,267.3 511.4,268.8 511.5,267.4 511.6,269.1 511.6,267.2 511.7,269.1 511.8,267.7 511.9,266.7 512.0,266.9 512.0,269.2 512.1,267.0 512.2,268.6 512.3,269.3 512.3,267.0 512.4,266.5 512.5,269.1 512.6,267.2 512.6,267.3 512.7,266.7 512.8,269.3 512.9,268.7 513.0,268.6 513.0,267.0 513.1,269.5 513.2,266.8 513.3,268.7 513.3,266.6 513.4,266.1 513.5,266.2 513.6,269.1 513.7,265.9 513.7,269.2 513.8,266.4 513.9,268.5 514.0,266.3 514.0,268.5 514.1,265.5 514.2,268.3 514.3,266.6 514.3,269.2 514.4,265.9 514.5,268.1 514.6,266.3 514.7,268.0 514.7,266.2 514.8,267.8 514.9,266.5 515.0,268.0 515.0,266.4 515.1,266.8 515.2,266.4 515.3,267.9 515.3,266.6 515.4,267.7 515.5,266.6 515.6,266.1 515.7,266.2 515.7,267.7 515.8,266.4 515.9,268.3 516.0,266.4 516.0,268.6 516.1,265.7 516.2,268.3 516.3,265.4 516.3,267.9 516.4,265.3 516.5,267.9 516.6,266.0 516.7,267.7 516.7,265.7 516.8,268.0 516.9,268.1 517.0,267.5 517.0,265.6 517.1,267.2 517.2,267.4 517.3,267.3 517.3,265.6 517.4,267.5 517.5,265.2 517.6,265.5 517.7,265.6 517.7,267.7 517.8,266.1 517.9,267.3 518.0,267.6 518.0,267.3 518.1,265.9 518.2,267.3 518.3,266.0 518.3,267.3 518.4,265.8 518.5,267.3 518.6,265.8 518.7,267.7 518.7,265.5 518.8,267.0 518.9,264.8 519.0,267.7 519.0,264.6 519.1,267.7 519.2,265.1 519.3,268.1 519.3,265.3 519.4,267.1 519.5,265.0 519.6,267.2 519.7,264.6 519.7,267.1 519.8,265.6 519.9,264.4 520.0,265.1 520.0,266.8 520.1,264.9 520.2,267.2 520.3,265.1 520.3,266.7 520.4,264.9 520.5,266.8 520.6,264.4 520.7,267.0 520.7,265.0 520.8,266.9 520.9,265.1 521.0,266.8 521.0,264.7 521.1,266.1 521.2,265.1 521.3,266.1 521.3,266.1 521.4,266.4 521.5,265.0 521.6,266.1 521.7,266.9 521.7,264.0 521.8,264.1 521.9,266.6 522.0,263.9 522.0,266.5 522.1,264.1 522.2,266.7 522.3,263.6 522.3,264.1 522.4,263.7 522.5,263.2 522.6,263.8 522.7,266.4 522.7,266.1 522.8,266.1 522.9,266.0 523.0,265.8 523.0,263.6 523.1,265.7 523.2,264.1 523.3,266.1 523.3,265.6 523.4,265.5 523.5,264.5 523.6,265.4 523.7,264.2 523.7,265.4 523.8,263.8 523.9,263.9 524.0,264.3 524.0,265.0 524.1,264.1 524.2,263.8 524.3,264.0 524.3,265.1 524.4,263.6 524.5,264.0 524.6,263.0 524.7,265.5 524.7,264.9 524.8,265.2 524.9,263.4 525.0,265.5 525.0,263.1 525.1,264.8 525.2,263.0 525.3,264.9 525.3,262.9 525.4,262.6 525.5,264.8 525.6,263.4 525.7,263.2 525.7,265.1 525.8,263.1 525.9,264.9 526.0,262.3 526.0,264.7 526.1,262.4 526.2,264.4 526.3,262.2 526.3,264.3 526.4,262.7 526.5,264.4 526.6,261.9 526.7,265.2 526.7,262.5 526.8,264.7 526.9,262.6 527.0,264.8 527.0,264.3 527.1,264.4 527.2,262.5 527.3,264.0 527.3,262.0 527.4,264.1 527.5,262.6 527.6,264.4 527.7,262.3 527.7,264.4 527.8,261.6 527.9,264.4 528.0,261.9 528.0,261.7 528.1,264.6 528.2,264.2 528.3,262.1 528.3,264.5 528.4,264.0 528.5,263.8 528.6,261.1 528.7,262.1 528.7,264.4 528.8,264.4 528.9,261.1 529.0,264.7 529.0,261.3 529.1,261.3 529.2,261.6 529.3,264.1 529.3,261.9 529.4,264.1 529.5,261.6 529.6,263.9 529.7,261.3 529.7,263.9 529.8,262.0 529.9,263.9 530.0,261.8 530.0,263.2 530.1,262.2 530.2,263.4 530.3,261.6 530.3,263.2 530.4,261.7 530.5,263.5 530.6,262.0 530.7,263.0 530.7,262.0 530.8,263.7 530.9,261.7 531.0,261.6 531.0,262.1 531.1,263.1 531.2,261.7 531.3,261.6 531.3,261.4 531.4,263.4 531.5,261.6 531.6,263.4 531.7,261.0 531.7,263.3 531.8,263.8 531.9,260.9 532.0,263.0 532.0,263.4 532.1,261.3 532.2,263.0 532.3,261.5 532.3,262.8 532.4,261.4 532.5,262.7 532.6,261.5 532.7,262.6 532.7,261.4 532.8,262.8 532.9,262.9 533.0,263.0 533.0,261.5 533.1,262.9 533.2,261.2 533.3,262.6 533.3,261.3 533.4,260.9 533.5,261.0 533.6,263.3 533.7,260.8 533.7,263.6 533.8,260.2 533.9,262.9 534.0,263.1 534.0,262.6 534.1,261.0 534.2,262.7 534.3,261.2 534.3,263.1 534.4,262.6 534.5,263.5 534.6,260.3 534.7,262.3 534.7,261.0 534.8,261.1 534.9,261.1 535.0,262.8 535.0,260.8 535.1,263.4 535.2,262.5 535.3,262.3 535.3,260.2 535.4,262.9 535.5,261.0 535.6,262.8 535.7,260.1 535.7,263.0 535.8,260.0 535.9,260.6 536.0,260.6 536.0,262.3 536.1,260.7 536.2,262.8 536.3,260.2 536.3,263.0 536.4,259.8 536.5,262.4" fill="none" stroke="#0072BD" stroke-width="0.60" stroke-linejoin="round"/>
<text x="63.5" y="298.0" text-anchor="middle" font-size="11">0</text>
<text x="122.6" y="298.0" text-anchor="middle" font-size="11">5</text>
<text x="181.8" y="298.0" text-anchor="middle" font-size="11">10</text>
<text x="240.9" y="298.0" text-anchor="middle" font-size="11">15</text>
<text x="300.0" y="298.0" text-anchor="middle" font-size="11">20</text>
<text x="359.1" y="298.0" text-anchor="middle" font-size="11">25</text>
<text x="418.2" y="298.0" text-anchor="middle" font-size="11">30</text>
<text x="477.4" y="298.0" text-anchor="middle" font-size="11">35</text>
<text x="536.5" y="298.0" text-anchor="middle" font-size="11">40</text>
<text x="49.0" y="177.1" text-anchor="end" font-size="11">2</text>
<text x="59.6" y="172.1" text-anchor="end" font-size="8.8">14</text>
<text x="49.0" y="205.0" text-anchor="end" font-size="11">2</text>
<text x="59.6" y="200.0" text-anchor="end" font-size="8.8">13</text>
<text x="59.6" y="231.6" text-anchor="end" font-size="11">0</text>
<text x="49.0" y="261.0" text-anchor="end" font-size="11">−2</text>
<text x="59.6" y="256.0" text-anchor="end" font-size="8.8">13</text>
<text x="49.0" y="288.9" text-anchor="end" font-size="11">−2</text>
<text x="59.6" y="283.9" text-anchor="end" font-size="8.8">14</text>
<text transform="translate(16.8,226.9) rotate(-90)" text-anchor="middle" font-size="12.3">EMG (ADC units)</text>
<text transform="translate(31.1,226.9) rotate(-90)" text-anchor="middle" font-size="12.3">deltoideus medium</text>
<rect x="63.5" y="327.1" width="473.0" height="112.1" stroke="#262626" stroke-width="0.67" fill="none"/>
<g stroke="#262626" stroke-width="0.67" fill="none">
<path d="M122.6,439.2v-4.7M122.6,327.1v4.7M181.8,439.2v-4.7M181.8,327.1v4.7M240.9,439.2v-4.7M240.9,327.1v4.7M300.0,439.2v-4.7M300.0,327.1v4.7M359.1,439.2v-4.7M359.1,327.1v4.7M418.2,439.2v-4.7M418.2,327.1v4.7M477.4,439.2v-4.7M477.4,327.1v4.7M63.5,355.1h4.7M536.5,355.1h-4.7M63.5,383.1h4.7M536.5,383.1h-4.7M63.5,411.2h4.7M536.5,411.2h-4.7"/>
</g>
<path d="M63.5,401.1 63.6,401.2 63.7,403.4 63.8,401.7 63.9,403.0 64.0,401.0 64.0,403.2 64.1,401.7 64.2,403.5 64.3,401.4 64.4,401.7 64.5,401.0 64.6,403.4 64.7,400.7 64.8,403.1 64.9,400.7 65.0,401.1 65.0,401.2 65.1,402.7 65.2,401.3 65.3,402.8 65.4,402.8 65.5,401.1 65.6,401.3 65.7,401.2 65.8,401.0 65.9,402.7 66.0,402.1 66.0,402.4 66.1,401.1 66.2,402.2 66.3,401.0 66.4,402.3 66.5,400.9 66.6,402.3 66.7,402.1 66.8,402.2 66.9,400.8 67.0,402.6 67.0,403.2 67.1,402.4 67.2,399.7 67.3,400.3 67.4,400.3 67.5,402.1 67.6,400.6 67.7,401.8 67.8,400.8 67.9,399.7 68.0,400.7 68.0,402.2 68.1,400.5 68.2,401.7 68.3,400.3 68.4,402.0 68.5,400.5 68.6,402.4 68.7,401.6 68.8,399.9 68.9,400.5 69.0,400.2 69.0,399.7 69.1,402.3 69.2,399.9 69.3,401.8 69.4,399.9 69.5,399.5 69.6,399.9 69.7,401.6 69.8,399.9 69.9,401.6 70.0,399.3 70.0,401.1 70.1,400.0 70.2,401.1 70.3,401.5 70.4,401.1 70.5,399.7 70.6,401.1 70.7,399.9 70.8,400.7 70.9,401.4 71.0,400.9 71.0,400.8 71.1,401.1 71.2,399.7 71.3,401.4 71.4,399.1 71.5,401.1 71.6,399.2 71.7,401.5 71.8,399.3 71.9,400.6 72.0,399.4 72.0,400.5 72.1,398.9 72.2,400.3 72.3,398.8 72.4,400.0 72.5,398.2 72.6,399.5 72.7,399.1 72.8,399.2 72.9,396.8 73.0,398.5 73.0,396.7 73.1,398.0 73.2,398.2 73.3,396.3 73.4,405.0 73.5,393.9 73.6,395.6 73.7,397.2 73.8,394.1 73.9,396.3 74.0,394.5 74.0,397.2 74.1,393.8 74.2,395.6 74.3,393.8 74.4,395.6 74.5,392.9 74.6,395.5 74.7,392.7 74.8,394.1 74.9,394.0 75.0,394.2 75.0,391.7 75.1,393.4 75.2,391.1 75.3,393.0 75.4,390.1 75.5,393.0 75.6,392.0 75.7,391.1 75.8,392.3 75.9,391.4 76.0,385.1 76.0,389.9 76.1,390.6 76.2,383.6 76.3,390.4 76.4,389.5 76.5,383.4 76.6,389.3 76.7,390.0 76.8,389.3 76.9,381.4 77.0,387.2 77.0,380.6 77.1,388.1 77.2,381.0 77.3,387.7 77.4,380.6 77.5,387.5 77.6,387.1 77.7,385.4 77.8,382.2 77.9,386.3 78.0,381.2 78.0,387.9 78.1,381.1 78.2,386.7 78.3,379.2 78.4,380.8 78.5,381.3 78.6,387.5 78.7,380.8 78.8,386.7 78.9,381.2 79.0,389.3 79.0,379.3 79.1,389.0 79.2,379.7 79.3,386.6 79.4,377.1 79.5,387.0 79.6,380.9 79.7,388.8 79.8,379.5 79.9,389.6 80.0,376.8 80.0,388.5 80.1,386.6 80.2,387.1 80.3,380.8 80.4,386.0 80.5,381.1 80.6,386.3 80.7,380.0 80.8,387.7 80.9,381.5 81.0,387.8 81.0,379.4 81.1,378.3 81.2,379.9 81.3,386.8 81.4,379.7 81.5,386.8 81.6,379.3 81.7,381.3 81.8,379.3 81.9,379.3 82.0,381.3 82.0,386.8 82.1,378.5 82.2,388.9 82.3,379.6 82.4,387.3 82.5,381.3 82.6,385.5 82.7,381.4 82.8,387.6 82.9,380.1 83.0,389.6 83.0,379.8 83.1,387.9 83.2,386.1 83.3,381.1 83.4,380.5 83.5,386.2 83.6,381.9 83.7,384.9 83.8,380.6 83.9,384.5 84.0,380.7 84.0,381.8 84.1,379.4 84.2,385.5 84.3,381.3 84.4,384.7 84.5,379.8 84.6,384.8 84.7,382.2 84.8,386.9 84.9,382.4 85.0,387.7 85.0,382.9 85.1,387.0 85.2,382.5 85.3,386.6 85.4,383.2 85.5,387.6 85.6,384.1 85.7,388.8 85.8,385.0 85.9,385.6 86.0,386.6 86.0,388.6 86.1,387.0 86.2,389.8 86.3,387.6 86.4,390.3 86.5,388.0 86.6,391.0 86.7,388.7 86.8,389.3 86.9,389.8 87.0,389.8 87.0,389.4 87.1,392.1 87.2,389.1 87.3,393.2 87.4,390.9 87.5,389.7 87.6,393.5 87.7,394.4 87.8,391.7 87.9,394.2 88.0,390.4 88.1,394.6 88.1,392.0 88.2,394.5 88.3,395.1 88.4,394.5 88.5,393.1 88.6,395.3 88.7,393.6 88.8,395.9 88.9,393.6 89.0,395.5 89.1,394.1 89.1,396.6 89.2,394.3 89.3,396.4 89.4,394.8 89.5,394.9 89.6,394.6 89.7,395.5 89.8,395.9 89.9,397.5 90.0,395.7 90.1,398.0 90.1,396.1 90.2,397.9 90.3,395.9 90.4,398.0 90.5,396.5 90.6,398.3 90.7,398.2 90.8,399.1 90.9,397.2 91.0,399.1 91.1,398.9 91.1,398.8 91.2,397.6 91.3,399.2 91.4,398.0 91.5,398.1 91.6,398.0 91.7,399.4 91.8,399.8 91.9,400.1 92.0,398.5 92.1,400.0 92.1,398.7 92.2,399.9 92.3,398.5 92.4,399.8 92.5,398.5 92.6,398.4 92.7,398.3 92.8,399.5 92.9,399.6 93.0,399.7 93.1,398.1 93.1,399.6 93.2,399.9 93.3,399.9 93.4,399.5 93.5,399.3 93.6,397.5 93.7,399.8 93.8,396.8 93.9,399.4 94.0,397.4 94.1,399.3 94.1,397.1 94.2,399.6 94.3,396.4 94.4,399.3 94.5,397.0 94.6,399.1 94.7,396.4 94.8,396.5 94.9,398.7 95.0,399.0 95.1,396.3 95.1,396.3 95.2,395.9 95.3,396.6 95.4,396.0 95.5,398.8 95.6,395.9 95.7,398.4 95.8,398.3 95.9,397.8 96.0,398.2 96.1,395.4 96.1,396.4 96.2,397.8 96.3,395.0 96.4,397.6 96.5,397.4 96.6,398.2 96.7,395.7 96.8,397.7 96.9,395.2 97.0,394.9 97.1,395.3 97.1,395.1 97.2,395.0 97.3,395.2 97.4,395.7 97.5,398.0 97.6,394.1 97.7,394.1 97.8,395.3 97.9,397.4 98.0,396.8 98.1,396.9 98.1,395.1 98.2,396.9 98.3,395.4 98.4,396.7 98.5,396.3 98.6,396.6 98.7,396.1 98.8,396.3 98.9,394.9 99.0,396.3 99.1,394.7 99.1,396.5 99.2,394.3 99.3,396.2 99.4,394.3 99.5,395.9 99.6,394.3 99.7,396.3 99.8,394.6 99.9,396.5 100.0,394.1 100.1,396.2 100.1,394.1 100.2,395.9 100.3,393.9 100.4,396.0 100.5,396.1 100.6,395.4 100.7,394.1 100.8,395.3 100.9,394.2 101.0,395.3 101.1,394.0 101.1,394.0 101.2,393.7 101.3,395.5 101.4,393.5 101.5,395.0 101.6,393.9 101.7,395.3 101.8,393.7 101.9,395.4 102.0,395.1 102.1,394.7 102.1,394.8 102.2,394.8 102.3,393.3 102.4,395.0 102.5,393.4 102.6,395.0 102.7,394.4 102.8,394.7 102.9,393.3 103.0,394.7 103.1,392.8 103.1,394.3 103.2,393.2 103.3,393.0 103.4,394.5 103.5,394.7 103.6,394.3 103.7,394.2 103.8,392.3 103.9,394.4 104.0,392.4 104.1,392.2 104.1,392.3 104.2,392.8 104.3,392.7 104.4,394.0 104.5,394.4 104.6,393.7 104.7,392.2 104.8,393.7 104.9,392.6 105.0,393.5 105.1,392.2 105.1,393.5 105.2,393.4 105.3,393.6 105.4,392.4 105.5,393.6 105.6,392.7 105.7,393.9 105.8,392.4 105.9,394.6 106.0,392.4 106.1,395.0 106.1,394.8 106.2,394.1 106.3,392.7 106.4,394.6 106.5,392.0 106.6,395.0 106.7,392.2 106.8,394.9 106.9,392.0 107.0,394.4 107.1,392.7 107.1,394.3 107.2,393.0 107.3,394.1 107.4,393.3 107.5,394.6 107.6,392.9 107.7,394.4 107.8,393.1 107.9,394.5 108.0,393.1 108.1,393.2 108.1,394.6 108.2,392.9 108.3,393.5 108.4,394.3 108.5,394.3 108.6,393.3 108.7,393.8 108.8,394.7 108.9,393.6 109.0,394.7 109.1,393.2 109.1,395.5 109.2,393.3 109.3,395.0 109.4,393.0 109.5,393.3 109.6,393.2 109.7,395.3 109.8,393.7 109.9,395.4 110.0,395.1 110.1,394.8 110.1,394.1 110.2,394.1 110.3,393.8 110.4,395.6 110.5,394.0 110.6,395.2 110.7,394.1 110.8,395.5 110.9,395.5 111.0,395.9 111.1,394.1 111.1,396.0 111.2,393.6 111.3,395.4 111.4,393.8 111.5,395.8 111.6,393.9 111.7,396.0 111.8,394.0 111.9,396.3 112.0,393.9 112.1,396.0 112.1,394.5 112.2,396.0 112.3,394.4 112.4,395.5 112.5,394.5 112.6,395.8 112.7,394.4 112.8,395.4 112.9,394.4 113.0,395.3 113.1,394.0 113.1,395.4 113.2,393.8 113.3,395.5 113.4,394.1 113.5,395.3 113.6,393.7 113.7,395.2 113.8,393.9 113.9,395.5 114.0,394.0 114.1,395.9 114.1,394.1 114.2,395.9 114.3,395.6 114.4,395.5 114.5,393.7 114.6,395.8 114.7,393.4 114.8,395.6 114.9,393.9 115.0,395.3 115.1,395.6 115.1,393.5 115.2,393.4 115.3,394.8 115.4,393.0 115.5,393.3 115.6,402.0 115.7,391.9 115.8,393.4 115.9,395.2 116.0,393.6 116.1,393.3 116.1,393.6 116.2,395.1 116.3,393.1 116.4,394.8 116.5,392.9 116.6,395.0 116.7,394.7 116.8,393.4 116.9,394.8 117.0,394.4 117.1,393.2 117.1,394.7 117.2,393.0 117.3,393.2 117.4,392.5 117.5,393.2 117.6,392.9 117.7,394.9 117.8,393.1 117.9,394.9 118.0,392.9 118.1,394.3 118.1,393.4 118.2,394.5 118.3,393.2 118.4,394.6 118.5,393.1 118.6,393.0 118.7,392.4 118.8,392.9 118.9,394.0 119.0,394.3 119.1,392.8 119.1,394.0 119.2,393.3 119.3,394.1 119.4,393.1 119.5,394.0 119.6,393.2 119.7,394.0 119.8,392.9 119.9,393.8 120.0,392.9 120.1,394.2 120.1,392.7 120.2,394.4 120.3,394.4 120.4,392.8 120.5,392.3 120.6,394.7 120.7,394.1 120.8,394.6 120.9,392.7 121.0,394.2 121.1,392.7 121.1,394.1 121.2,392.7 121.3,394.4 121.4,392.5 121.5,394.1 121.6,392.3 121.7,394.3 121.8,392.4 121.9,392.3 122.0,392.5 122.1,394.3 122.1,393.0 122.2,394.5 122.3,392.9 122.4,394.7 122.5,393.0 122.6,394.0 122.7,392.7 122.8,394.6 122.9,392.9 123.0,394.1 123.1,393.2 123.1,394.9 123.2,392.9 123.3,394.7 123.4,394.5 123.5,394.5 123.6,393.1 123.7,394.4 123.8,392.9 123.9,394.5 124.0,392.9 124.1,392.6 124.1,392.7 124.2,395.1 124.3,392.4 124.4,393.0 124.5,392.6 124.6,394.5 124.7,392.5 124.8,394.9 124.9,393.4 125.0,395.0 125.1,395.7 125.1,395.3 125.2,393.3 125.3,394.9 125.4,392.6 125.5,394.6 125.6,393.4 125.7,394.8 125.8,393.0 125.9,394.9 126.0,393.2 126.1,394.6 126.1,394.0 126.2,393.9 126.3,391.5 126.4,394.5 126.5,389.7 126.6,392.7 126.7,389.9 126.8,393.2 126.9,388.3 127.0,392.9 127.1,390.9 127.1,388.0 127.2,387.0 127.3,390.5 127.4,386.1 127.5,389.2 127.6,385.9 127.7,389.2 127.8,385.0 127.9,388.4 128.0,384.7 128.1,388.4 128.1,384.3 128.2,389.8 128.3,384.0 128.4,388.1 128.5,382.2 128.6,388.9 128.7,382.3 128.8,388.5 128.9,381.8 129.0,387.7 129.1,382.5 129.1,389.3 129.2,380.0 129.3,389.6 129.4,377.0 129.5,387.6 129.6,381.5 129.7,389.8 129.8,381.3 129.9,389.3 130.0,382.2 130.1,382.9 130.1,383.8 130.2,387.2 130.3,383.6 130.4,387.2 130.5,383.4 130.6,387.8 130.7,381.9 130.8,387.8 130.9,382.8 131.0,387.7 131.1,382.3 131.1,388.7 131.2,383.7 131.3,382.0 131.4,383.8 131.5,388.0 131.6,382.3 131.7,387.4 131.8,383.3 131.9,387.9 132.0,382.0 132.1,380.3 132.1,380.5 132.2,381.1 132.3,381.1 132.4,389.4 132.5,383.0 132.6,390.3 132.7,383.0 132.8,390.3 132.9,383.2 133.0,383.1 133.1,383.3 133.1,384.2 133.2,388.0 133.3,389.5 133.4,384.7 133.5,383.9 133.6,383.9 133.7,388.4 133.8,382.8 133.9,387.8 134.0,383.9 134.1,388.5 134.1,384.0 134.2,383.4 134.3,388.0 134.4,389.5 134.5,383.4 134.6,387.4 134.7,383.2 134.8,384.0 134.9,384.5 135.0,388.1 135.1,383.8 135.2,385.0 135.2,382.7 135.3,384.6 135.4,382.4 135.5,388.5 135.6,388.1 135.7,390.8 135.8,383.4 135.9,388.9 136.0,382.4 136.1,388.8 136.2,383.2 136.2,388.2 136.3,384.4 136.4,388.2 136.5,385.6 136.6,387.4 136.7,385.7 136.8,388.4 136.9,387.6 137.0,388.2 137.1,385.9 137.2,388.0 137.2,386.2 137.3,387.8 137.4,386.2 137.5,388.4 137.6,388.4 137.7,387.9 137.8,386.6 137.9,388.9 138.0,386.3 138.1,389.0 138.2,386.7 138.2,389.6 138.3,386.4 138.4,389.3 138.5,386.7 138.6,385.6 138.7,389.3 138.8,390.2 138.9,386.9 139.0,389.2 139.1,386.7 139.2,389.2 139.2,387.6 139.3,389.4 139.4,386.8 139.5,389.8 139.6,388.2 139.7,389.6 139.8,387.7 139.9,391.0 140.0,388.1 140.1,390.2 140.2,388.4 140.2,390.6 140.3,388.3 140.4,390.4 140.5,388.6 140.6,390.3 140.7,389.2 140.8,389.1 140.9,389.2 141.0,390.7 141.1,389.4 141.2,391.2 141.2,389.6 141.3,391.2 141.4,389.2 141.5,391.1 141.6,389.4 141.7,391.1 141.8,391.5 141.9,391.3 142.0,390.1 142.1,391.4 142.2,391.7 142.2,391.3 142.3,389.9 142.4,391.3 142.5,390.0 142.6,391.5 142.7,390.6 142.8,391.9 142.9,390.8 143.0,392.2 143.1,390.8 143.2,391.8 143.2,390.8 143.3,392.0 143.4,390.6 143.5,392.2 143.6,390.9 143.7,392.9 143.8,391.0 143.9,393.2 144.0,391.4 144.1,391.5 144.2,392.5 144.2,391.4 144.3,391.3 144.4,392.9 144.5,393.6 144.6,393.7 144.7,390.9 144.8,393.7 144.9,391.0 145.0,394.2 145.1,392.7 145.2,393.3 145.2,391.1 145.3,393.4 145.4,390.2 145.5,392.8 145.6,390.7 145.7,393.2 145.8,392.9 145.9,393.5 146.0,392.8 146.1,392.9 146.2,390.5 146.2,393.3 146.3,389.6 146.4,390.1 146.5,393.1 146.6,392.3 146.7,390.6 146.8,392.9 146.9,390.4 147.0,392.7 147.1,391.0 147.2,392.2 147.2,390.9 147.3,392.7 147.4,390.4 147.5,392.1 147.6,390.7 147.7,392.0 147.8,390.6 147.9,392.6 148.0,390.8 148.1,392.5 148.2,390.5 148.2,392.0 148.3,390.4 148.4,392.7 148.5,390.1 148.6,392.0 148.7,390.6 148.8,390.3 148.9,390.2 149.0,392.3 149.1,390.5 149.2,391.9 149.2,390.4 149.3,391.8 149.4,390.1 149.5,392.5 149.6,390.3 149.7,392.1 149.8,390.0 149.9,392.1 150.0,390.1 150.1,391.9 150.2,390.5 150.2,392.2 150.3,389.9 150.4,392.2 150.5,392.2 150.6,392.3 150.7,392.2 150.8,392.2 150.9,390.3 151.0,391.6 151.1,389.7 151.2,392.1 151.2,390.4 151.3,391.6 151.4,389.9 151.5,392.1 151.6,390.3 151.7,392.1 151.8,389.7 151.9,392.4 152.0,390.0 152.1,391.7 152.2,389.4 152.2,391.7 152.3,389.9 152.4,392.0 152.5,389.6 152.6,392.4 152.7,389.5 152.8,392.0 152.9,389.6 153.0,389.7 153.1,389.4 153.2,390.0 153.2,389.7 153.3,391.5 153.4,389.7 153.5,391.7 153.6,390.0 153.7,391.6 153.8,390.2 153.9,391.5 154.0,389.8 154.1,391.4 154.2,391.2 154.2,389.8 154.3,390.5 154.4,390.5 154.5,390.5 154.6,391.7 154.7,391.9 154.8,392.0 154.9,390.5 155.0,391.0 155.1,390.8 155.2,392.4 155.2,392.4 155.3,390.9 155.4,391.4 155.5,392.9 155.6,391.6 155.7,392.6 155.8,391.5 155.9,391.5 156.0,391.5 156.1,393.7 156.2,392.0 156.2,393.3 156.3,392.1 156.4,393.7 156.5,391.3 156.6,394.2 156.7,394.5 156.8,393.8 156.9,392.2 157.0,393.9 157.1,392.1 157.2,394.3 157.2,392.4 157.3,395.3 157.4,393.0 157.5,394.6 157.6,393.2 157.7,394.7 157.8,393.3 157.9,394.8 158.0,394.7 158.1,395.6 158.2,393.4 158.2,395.1 158.3,393.8 158.4,395.3 158.5,393.9 158.6,395.8 158.7,394.2 158.8,395.7 158.9,394.1 159.0,395.8 159.1,394.1 159.2,396.1 159.2,394.2 159.3,396.0 159.4,394.6 159.5,394.7 159.6,394.5 159.7,396.4 159.8,395.4 159.9,396.7 160.0,395.6 160.1,396.8 160.2,395.2 160.2,397.0 160.3,394.7 160.4,397.6 160.5,395.9 160.6,397.1 160.7,396.2 160.8,397.7 160.9,396.4 161.0,397.5 161.1,396.2 161.2,396.4 161.2,396.7 161.3,398.1 161.4,396.2 161.5,397.8 161.6,396.6 161.7,398.2 161.8,396.8 161.9,396.4 162.0,396.9 162.1,398.5 162.2,397.4 162.2,399.5 162.3,397.1 162.4,398.9 162.5,397.3 162.6,399.8 162.7,397.1 162.8,399.8 162.9,397.7 163.0,400.0 163.1,397.7 163.2,399.8 163.2,397.8 163.3,399.7 163.4,400.3 163.5,400.7 163.6,398.5 163.7,400.6 163.8,398.3 163.9,400.5 164.0,399.0 164.1,400.6 164.2,399.2 164.2,401.4 164.3,398.6 164.4,401.7 164.5,399.2 164.6,401.1 164.7,399.0 164.8,401.4 164.9,399.7 165.0,405.0 165.1,399.1 165.2,401.5 165.2,399.5 165.3,400.9 165.4,400.9 165.5,401.1 165.6,399.5 165.7,400.6 165.8,399.3 165.9,400.9 166.0,398.9 166.1,401.3 166.2,399.2 166.2,401.1 166.3,397.9 166.4,400.5 166.5,400.8 166.6,400.4 166.7,398.5 166.8,400.0 166.9,398.0 167.0,400.3 167.1,398.2 167.2,399.9 167.2,398.1 167.3,399.7 167.4,397.7 167.5,399.5 167.6,399.4 167.7,399.7 167.8,399.3 167.9,399.5 168.0,397.9 168.1,399.5 168.2,398.0 168.2,399.7 168.3,397.3 168.4,399.6 168.5,397.4 168.6,396.7 168.7,396.6 168.8,399.1 168.9,397.0 169.0,399.7 169.1,396.9 169.2,399.2 169.2,396.0 169.3,400.0 169.4,398.7 169.5,399.7 169.6,396.6 169.7,399.1 169.8,396.2 169.9,400.0 170.0,396.9 170.1,396.5 170.2,396.3 170.2,398.9 170.3,396.5 170.4,399.0 170.5,396.9 170.6,399.4 170.7,396.6 170.8,399.0 170.9,396.8 171.0,398.6 171.1,395.9 171.2,399.1 171.2,398.9 171.3,399.1 171.4,397.0 171.5,398.4 171.6,396.0 171.7,398.3 171.8,396.6 171.9,398.9 172.0,398.3 172.1,398.5 172.2,396.5 172.2,398.3 172.3,397.0 172.4,399.1 172.5,396.8 172.6,398.0 172.7,397.2 172.8,398.6 172.9,396.4 173.0,398.6 173.1,396.7 173.2,397.9 173.2,396.6 173.3,397.9 173.4,398.2 173.5,398.5 173.6,396.8 173.7,399.1 173.8,399.3 173.9,399.0 174.0,396.0 174.1,399.1 174.2,396.3 174.2,399.1 174.3,395.6 174.4,398.9 174.5,396.6 174.6,398.5 174.7,398.0 174.8,398.3 174.9,396.4 175.0,396.8 175.1,396.4 175.2,398.3 175.2,397.9 175.3,398.3 175.4,395.7 175.5,396.3 175.6,396.1 175.7,398.1 175.8,396.2 175.9,398.0 176.0,396.0 176.1,399.0 176.2,396.3 176.2,398.2 176.3,396.4 176.4,398.5 176.5,396.2 176.6,398.1 176.7,398.4 176.8,395.9 176.9,395.9 177.0,398.1 177.1,396.3 177.2,397.9 177.2,396.2 177.3,397.9 177.4,396.2 177.5,397.8 177.6,396.0 177.7,398.3 177.8,397.9 177.9,397.8 178.0,395.4 178.1,397.7 178.2,396.0 178.2,397.0 178.3,395.5 178.4,397.0 178.5,394.7 178.6,396.5 178.7,394.6 178.8,396.8 178.9,394.5 179.0,402.0 179.1,392.7 179.2,395.3 179.2,393.7 179.3,395.9 179.4,395.7 179.5,394.8 179.6,395.2 179.7,394.8 179.8,392.9 179.9,393.8 180.0,392.3 180.1,393.3 180.2,392.0 180.2,391.5 180.3,390.7 180.4,393.2 180.5,390.9 180.6,392.6 180.7,391.9 180.8,392.4 180.9,389.9 181.0,392.3 181.1,388.8 181.2,391.3 181.2,390.5 181.3,391.2 181.4,388.1 181.5,390.1 181.6,387.3 181.7,390.2 181.8,387.0 181.9,387.4 182.0,389.6 182.1,389.5 182.2,389.4 182.3,389.4 182.3,389.8 182.4,390.9 182.5,390.5 182.6,389.9 182.7,387.2 182.8,391.1 182.9,387.0 183.0,391.2 183.1,387.6 183.2,390.5 183.3,388.3 183.3,390.9 183.4,388.9 183.5,391.1 183.6,389.4 183.7,390.5 183.8,389.7 183.9,390.7 184.0,389.7 184.1,391.5 184.2,391.2 184.3,390.2 184.3,389.9 184.4,392.2 184.5,389.8 184.6,392.2 184.7,389.5 184.8,393.0 184.9,390.3 185.0,392.5 185.1,390.4 185.2,392.5 185.3,393.1 185.3,393.6 185.4,393.0 185.5,392.8 185.6,391.4 185.7,392.0 185.8,391.8 185.9,393.5 186.0,391.5 186.1,393.9 186.2,392.4 186.3,394.5 186.3,392.3 186.4,394.4 186.5,392.6 186.6,392.5 186.7,392.2 186.8,394.8 186.9,392.6 187.0,394.8 187.1,392.9 187.2,394.9 187.3,393.1 187.3,395.2 187.4,393.6 187.5,395.0 187.6,395.5 187.7,395.4 187.8,392.9 187.9,395.5 188.0,393.4 188.1,395.9 188.2,393.1 188.3,393.6 188.3,396.0 188.4,395.9 188.5,393.7 188.6,396.5 188.7,394.3 188.8,396.6 188.9,393.5 189.0,393.6 189.1,393.5 189.2,393.8 189.3,394.2 189.3,396.9 189.4,394.6 189.5,396.9 189.6,394.6 189.7,396.3 189.8,393.7 189.9,396.9 190.0,394.1 190.1,396.7 190.2,394.3 190.3,397.3 190.3,396.9 190.4,397.3 190.5,395.1 190.6,397.4 190.7,394.8 190.8,397.5 190.9,398.1 191.0,397.1 191.1,395.3 191.2,397.4 191.3,395.2 191.3,397.5 191.4,395.9 191.5,397.2 191.6,395.9 191.7,397.2 191.8,396.1 191.9,397.3 192.0,395.9 192.1,397.7 192.2,396.3 192.3,397.5 192.3,398.1 192.4,398.1 192.5,396.4 192.6,397.7 192.7,396.1 192.8,396.5 192.9,396.4 193.0,398.1 193.1,396.9 193.2,398.2 193.3,396.4 193.3,397.9 193.4,396.4 193.5,397.6 193.6,396.2 193.7,397.4 193.8,395.8 193.9,397.5 194.0,395.7 194.1,397.0 194.2,395.9 194.3,396.9 194.3,395.4 194.4,396.4 194.5,395.6 194.6,396.4 194.7,395.2 194.8,396.1 194.9,394.8 195.0,396.4 195.1,396.3 195.2,396.4 195.3,394.5 195.3,395.6 195.4,394.7 195.5,395.8 195.6,396.1 195.7,395.9 195.8,393.4 195.9,395.1 196.0,393.7 196.1,395.2 196.2,393.9 196.3,393.7 196.3,393.6 196.4,395.0 196.5,393.3 196.6,394.9 196.7,393.4 196.8,394.7 196.9,394.3 197.0,392.8 197.1,392.9 197.2,392.8 197.3,392.7 197.3,393.9 197.4,392.7 197.5,394.0 197.6,392.1 197.7,393.7 197.8,392.3 197.9,393.6 198.0,391.9 198.1,393.3 198.2,392.0 198.3,392.9 198.3,393.1 198.4,392.9 198.5,391.8 198.6,392.7 198.7,390.9 198.8,393.3 198.9,391.3 199.0,392.3 199.1,392.5 199.2,392.2 199.3,390.4 199.3,392.7 199.4,390.4 199.5,392.5 199.6,390.7 199.7,392.3 199.8,390.5 199.9,392.2 200.0,389.2 200.1,391.6 200.2,391.8 200.3,391.8 200.3,388.4 200.4,391.6 200.5,391.6 200.6,391.7 200.7,389.5 200.8,390.7 200.9,388.9 201.0,391.2 201.1,389.1 201.2,390.4 201.3,389.1 201.3,390.3 201.4,388.7 201.5,390.0 201.6,388.4 201.7,389.5 201.8,388.6 201.9,389.4 202.0,388.2 202.1,389.2 202.2,388.3 202.3,388.1 202.3,388.2 202.4,389.1 202.5,387.7 202.6,389.3 202.7,387.6 202.8,388.9 202.9,387.2 203.0,388.6 203.1,387.1 203.2,388.9 203.3,387.2 203.3,388.8 203.4,387.2 203.5,387.6 203.6,387.7 203.7,388.7 203.8,387.6 203.9,388.7 204.0,387.7 204.1,389.1 204.2,387.6 204.3,389.3 204.3,387.7 204.4,389.6 204.5,386.8 204.6,390.1 204.7,387.3 204.8,389.3 204.9,388.1 205.0,389.9 205.1,389.2 205.2,389.2 205.3,387.9 205.3,389.5 205.4,388.1 205.5,390.0 205.6,388.3 205.7,390.0 205.8,390.1 205.9,389.7 206.0,388.4 206.1,390.3 206.2,391.0 206.3,390.6 206.3,388.1 206.4,390.4 206.5,388.1 206.6,390.3 206.7,388.0 206.8,389.9 206.9,388.6 207.0,389.9 207.1,390.1 207.2,390.1 207.3,388.3 207.3,390.3 207.4,388.4 207.5,390.5 207.6,388.8 207.7,390.4 207.8,390.7 207.9,390.2 208.0,387.7 208.1,391.2 208.2,388.8 208.3,388.1 208.3,388.7 208.4,390.6 208.5,388.2 208.6,391.8 208.7,388.9 208.8,391.6 208.9,388.8 209.0,391.9 209.1,389.3 209.2,391.4 209.3,388.1 209.3,390.8 209.4,389.0 209.5,388.4 209.6,388.7 209.7,390.7 209.8,389.6 209.9,390.6 210.0,389.6 210.1,389.1 210.2,389.6 210.3,389.5 210.3,389.6 210.4,391.0 210.5,389.6 210.6,390.7 210.7,390.6 210.8,390.7 210.9,389.1 211.0,390.4 211.1,389.3 211.2,390.4 211.3,390.6 211.3,391.0 211.4,388.7 211.5,390.6 211.6,389.1 211.7,391.2 211.8,389.5 211.9,391.0 212.0,390.6 212.1,390.7 212.2,389.3 212.3,390.7 212.3,388.9 212.4,390.4 212.5,389.1 212.6,389.5 212.7,389.1 212.8,391.1 212.9,389.5 213.0,390.6 213.1,389.2 213.2,389.4 213.3,390.7 213.3,390.8 213.4,389.0 213.5,391.4 213.6,391.1 213.7,391.1 213.8,389.1 213.9,390.7 214.0,389.3 214.1,389.4 214.2,388.6 214.3,390.8 214.3,389.4 214.4,391.8 214.5,389.2 214.6,390.6 214.7,390.8 214.8,389.2 214.9,391.0 215.0,391.2 215.1,389.3 215.2,390.6 215.3,389.2 215.3,391.3 215.4,388.2 215.5,390.7 215.6,388.2 215.7,391.1 215.8,389.2 215.9,390.6 216.0,389.0 216.1,390.7 216.2,389.1 216.3,390.5 216.3,390.7 216.4,390.9 216.5,388.6 216.6,388.1 216.7,388.2 216.8,390.4 216.9,388.3 217.0,390.3 217.1,388.5 217.2,390.3 217.3,387.5 217.3,389.9 217.4,386.8 217.5,389.9 217.6,387.2 217.7,390.4 217.8,389.6 217.9,390.5 218.0,387.5 218.1,390.3 218.2,389.7 218.3,390.3 218.3,386.5 218.4,389.6 218.5,386.9 218.6,386.9 218.7,386.1 218.8,388.8 218.9,386.5 219.0,389.9 219.1,386.8 219.2,388.7 219.3,386.1 219.3,389.8 219.4,386.0 219.5,388.2 219.6,385.9 219.7,386.0 219.8,389.0 219.9,388.5 220.0,388.1 220.1,388.6 220.2,385.0 220.3,387.9 220.3,388.6 220.4,385.5 220.5,384.7 220.6,388.6 220.7,388.0 220.8,387.7 220.9,388.9 221.0,385.4 221.1,384.3 221.2,387.9 221.3,385.8 221.3,387.3 221.4,385.6 221.5,387.5 221.6,385.2 221.7,387.7 221.8,384.9 221.9,387.0 222.0,385.3 222.1,386.7 222.2,385.3 222.3,385.5 222.3,385.0 222.4,385.4 222.5,385.4 222.6,386.9 222.7,387.1 222.8,386.5 222.9,387.5 223.0,386.5 223.1,384.2 223.2,386.7 223.3,385.0 223.3,386.6 223.4,384.8 223.5,384.4 223.6,387.0 223.7,387.3 223.8,384.4 223.9,386.4 224.0,384.4 224.1,386.1 224.2,386.9 224.3,386.6 224.3,384.1 224.4,384.4 224.5,383.7 224.6,383.5 224.7,382.8 224.8,386.9 224.9,383.7 225.0,386.2 225.1,382.7 225.2,387.0 225.3,386.4 225.3,386.4 225.4,382.7 225.5,385.2 225.6,382.5 225.7,385.3 225.8,381.2 225.9,384.8 226.0,381.8 226.1,384.6 226.2,382.3 226.3,384.5 226.3,380.9 226.4,383.8 226.5,381.3 226.6,392.0 226.7,379.3 226.8,384.5 226.9,380.4 227.0,383.9 227.1,379.8 227.2,382.6 227.3,378.9 227.3,382.6 227.4,378.9 227.5,383.4 227.6,378.7 227.7,382.7 227.8,377.2 227.9,382.6 228.0,377.3 228.1,382.0 228.2,377.8 228.3,381.4 228.3,377.0 228.4,381.7 228.5,376.6 228.6,382.9 228.7,381.3 228.8,381.7 228.9,375.2 229.0,382.3 229.1,374.6 229.2,374.6 229.3,373.9 229.4,381.7 229.4,382.3 229.5,380.9 229.6,375.0 229.7,381.9 229.8,375.3 229.9,380.9 230.0,376.6 230.1,380.2 230.2,377.1 230.3,380.5 230.4,376.7 230.4,379.7 230.5,376.9 230.6,379.5 230.7,376.8 230.8,380.1 230.9,375.7 231.0,381.0 231.1,376.5 231.2,376.5 231.3,375.4 231.4,381.0 231.4,375.2 231.5,380.2 231.6,377.2 231.7,380.2 231.8,376.6 231.9,379.2 232.0,375.5 232.1,380.1 232.2,376.7 232.3,380.1 232.4,379.4 232.4,379.1 232.5,376.8 232.6,379.5 232.7,376.1 232.8,379.9 232.9,380.4 233.0,380.8 233.1,374.6 233.2,381.5 233.3,375.0 233.4,380.1 233.4,376.3 233.5,380.3 233.6,376.2 233.7,376.7 233.8,376.5 233.9,381.5 234.0,379.3 234.1,380.5 234.2,376.4 234.3,379.2 234.4,375.6 234.4,376.5 234.5,381.8 234.6,380.4 234.7,375.5 234.8,379.4 234.9,376.0 235.0,376.1 235.1,377.2 235.2,377.2 235.3,376.3 235.4,380.0 235.4,376.3 235.5,380.0 235.6,377.4 235.7,379.5 235.8,375.8 235.9,380.1 236.0,375.5 236.1,380.4 236.2,377.0 236.3,380.9 236.4,375.5 236.4,380.8 236.5,374.4 236.6,376.0 236.7,376.9 236.8,380.4 236.9,374.4 237.0,382.4 237.1,375.4 237.2,376.8 237.3,377.1 237.4,380.8 237.4,376.6 237.5,380.7 237.6,376.6 237.7,379.4 237.8,375.8 237.9,376.3 238.0,376.6 238.1,381.3 238.2,376.5 238.3,375.4 238.4,379.7 238.4,380.6 238.5,376.8 238.6,381.0 238.7,375.5 238.8,382.7 238.9,375.0 239.0,380.1 239.1,375.9 239.2,380.0 239.3,376.2 239.4,380.7 239.4,377.1 239.5,381.3 239.6,377.2 239.7,377.7 239.8,377.0 239.9,379.9 240.0,377.4 240.1,379.7 240.2,380.0 240.3,379.9 240.4,377.9 240.4,379.9 240.5,378.6 240.6,380.5 240.7,378.4 240.8,380.1 240.9,378.8 241.0,380.5 241.1,379.2 241.2,380.8 241.3,379.0 241.4,380.8 241.4,379.4 241.5,381.1 241.6,379.8 241.7,381.5 241.8,379.4 241.9,382.3 242.0,379.5 242.1,382.8 242.2,382.1 242.3,380.4 242.4,380.7 242.4,382.9 242.5,380.7 242.6,381.1 242.7,381.0 242.8,382.8 242.9,381.2 243.0,382.9 243.1,383.1 243.2,381.7 243.3,381.7 243.4,383.4 243.4,382.0 243.5,383.7 243.6,381.9 243.7,384.2 243.8,382.7 243.9,384.2 244.0,382.8 244.1,384.1 244.2,382.9 244.3,384.5 244.4,383.1 244.4,384.7 244.5,385.1 244.6,384.9 244.7,382.9 244.8,384.9 244.9,383.4 245.0,385.7 245.1,383.5 245.2,385.7 245.3,383.8 245.4,383.3 245.4,383.5 245.5,385.2 245.6,383.5 245.7,385.0 245.8,383.3 245.9,385.1 246.0,384.1 246.1,384.9 246.2,383.4 246.3,385.3 246.4,383.9 246.4,383.3 246.5,383.6 246.6,385.4 246.7,383.1 246.8,385.3 246.9,385.1 247.0,385.1 247.1,383.3 247.2,384.8 247.3,384.8 247.4,385.3 247.4,383.8 247.5,385.0 247.6,383.4 247.7,385.2 247.8,383.3 247.9,385.3 248.0,383.1 248.1,385.4 248.2,383.7 248.3,385.2 248.4,383.6 248.4,384.8 248.5,383.5 248.6,384.9 248.7,383.6 248.8,384.9 248.9,383.1 249.0,385.1 249.1,382.8 249.2,385.4 249.3,383.4 249.4,385.4 249.4,383.2 249.5,385.0 249.6,383.0 249.7,385.1 249.8,383.4 249.9,384.4 250.0,383.2 250.1,384.6 250.2,383.1 250.3,384.5 250.4,383.1 250.4,384.5 250.5,383.5 250.6,384.3 250.7,383.2 250.8,382.9 250.9,383.0 251.0,384.8 251.1,384.8 251.2,384.6 251.3,382.8 251.4,384.4 251.4,383.2 251.5,384.8 251.6,382.4 251.7,384.8 251.8,382.9 251.9,384.6 252.0,384.6 252.1,382.9 252.2,382.5 252.3,384.6 252.4,382.7 252.4,384.5 252.5,382.9 252.6,384.2 252.7,383.0 252.8,383.1 252.9,382.8 253.0,384.3 253.1,383.0 253.2,384.1 253.3,384.9 253.4,385.1 253.4,382.5 253.5,385.0 253.6,382.9 253.7,384.5 253.8,382.9 253.9,384.4 254.0,382.8 254.1,384.5 254.2,383.1 254.3,384.3 254.4,384.6 254.4,384.5 254.5,383.2 254.6,383.3 254.7,382.8 254.8,384.4 254.9,383.5 255.0,384.3 255.1,383.3 255.2,384.5 255.3,383.3 255.4,384.7 255.4,383.3 255.5,384.6 255.6,382.8 255.7,385.7 255.8,382.6 255.9,385.3 256.0,383.2 256.1,385.4 256.2,382.7 256.3,385.7 256.4,382.5 256.4,385.9 256.5,385.9 256.6,384.9 256.7,383.0 256.8,384.9 256.9,383.3 257.0,385.5 257.1,382.8 257.2,385.8 257.3,383.6 257.4,385.3 257.4,383.9 257.5,385.0 257.6,383.6 257.7,385.7 257.8,383.2 257.9,385.4 258.0,383.4 258.1,385.1 258.2,384.1 258.3,385.2 258.4,383.9 258.4,385.6 258.5,385.5 258.6,385.5 258.7,384.0 258.8,385.9 258.9,383.7 259.0,385.9 259.1,386.3 259.2,385.3 259.3,383.3 259.4,385.9 259.4,383.2 259.5,386.1 259.6,384.1 259.7,385.8 259.8,383.7 259.9,385.7 260.0,384.1 260.1,385.4 260.2,385.8 260.3,385.3 260.4,384.2 260.4,385.6 260.5,384.4 260.6,383.9 260.7,384.0 260.8,385.4 260.9,384.2 261.0,385.7 261.1,383.8 261.2,385.7 261.3,384.2 261.4,385.6 261.4,384.3 261.5,385.8 261.6,384.6 261.7,386.1 261.8,384.1 261.9,385.8 262.0,384.4 262.1,386.0 262.2,384.7 262.3,384.6 262.4,386.4 262.4,385.9 262.5,384.6 262.6,386.2 262.7,386.0 262.8,386.0 262.9,384.3 263.0,385.8 263.1,384.0 263.2,386.2 263.3,384.5 263.4,386.4 263.4,384.3 263.5,386.3 263.6,384.1 263.7,386.1 263.8,384.8 263.9,386.5 264.0,384.6 264.1,386.5 264.2,384.3 264.3,386.0 264.4,384.7 264.4,386.8 264.5,384.1 264.6,384.8 264.7,386.5 264.8,386.2 264.9,384.6 265.0,386.6 265.1,384.7 265.2,386.6 265.3,384.7 265.4,386.5 265.4,384.7 265.5,386.3 265.6,384.3 265.7,384.4 265.8,384.4 265.9,386.8 266.0,384.5 266.1,386.9 266.2,384.6 266.3,386.4 266.4,384.6 266.4,386.0 266.5,386.1 266.6,385.0 266.7,384.6 266.8,386.2 266.9,386.1 267.0,385.9 267.1,384.4 267.2,386.4 267.3,384.6 267.4,386.0 267.4,384.5 267.5,385.8 267.6,384.5 267.7,386.4 267.8,385.1 267.9,385.9 268.0,384.6 268.1,386.5 268.2,384.8 268.3,385.8 268.4,386.2 268.4,386.0 268.5,386.1 268.6,386.1 268.7,384.7 268.8,386.3 268.9,385.9 269.0,386.0 269.1,384.7 269.2,385.8 269.3,386.0 269.4,384.8 269.4,384.6 269.5,384.7 269.6,385.9 269.7,386.4 269.8,384.9 269.9,385.8 270.0,384.8 270.1,385.7 270.2,385.9 270.3,384.8 270.4,384.9 270.4,384.7 270.5,384.8 270.6,385.8 270.7,384.7 270.8,386.0 270.9,384.8 271.0,385.8 271.1,384.8 271.2,386.3 271.3,386.2 271.4,384.2 271.4,384.1 271.5,385.8 271.6,384.5 271.7,386.2 271.8,384.3 271.9,384.2 272.0,383.9 272.1,385.8 272.2,384.6 272.3,386.3 272.4,384.0 272.4,386.2 272.5,384.1 272.6,386.3 272.7,384.1 272.8,386.3 272.9,383.8 273.0,385.9 273.1,384.4 273.2,386.4 273.3,386.8 273.4,386.0 273.4,383.5 273.5,385.8 273.6,383.6 273.7,386.3 273.8,384.3 273.9,386.1 274.0,385.8 274.1,386.2 274.2,386.1 274.3,385.6 274.4,384.3 274.4,385.6 274.5,383.6 274.6,386.0 274.7,384.3 274.8,385.6 274.9,386.0 275.0,385.6 275.1,384.3 275.2,386.4 275.3,385.9 275.4,386.2 275.4,385.5 275.5,385.8 275.6,383.8 275.7,383.7 275.8,385.6 275.9,385.5 276.0,384.4 276.1,385.5 276.2,384.6 276.3,384.6 276.4,384.5 276.5,385.5 276.5,384.3 276.6,385.8 276.7,385.8 276.8,385.9 276.9,384.4 277.0,385.8 277.1,384.4 277.2,384.3 277.3,384.4 277.4,384.2 277.5,384.4 277.5,385.5 277.6,385.7 277.7,386.2 277.8,383.8 277.9,383.9 278.0,383.8 278.1,385.5 278.2,385.7 278.3,385.6 278.4,384.0 278.5,385.8 278.5,384.5 278.6,385.8 278.7,384.7 278.8,385.6 278.9,384.3 279.0,385.9 279.1,384.2 279.2,385.3 279.3,384.2 279.4,385.3 279.5,385.8 279.5,385.5 279.6,384.5 279.7,385.4 279.8,384.2 279.9,385.4 280.0,384.6 280.1,385.5 280.2,384.3 280.3,385.7 280.4,384.6 280.5,385.7 280.5,384.3 280.6,385.6 280.7,383.9 280.8,386.0 280.9,384.2 281.0,385.6 281.1,384.3 281.2,386.1 281.3,384.3 281.4,386.2 281.5,384.0 281.5,384.1 281.6,383.8 281.7,385.6 281.8,384.6 281.9,386.1 282.0,384.4 282.1,384.6 282.2,385.7 282.3,385.6 282.4,384.6 282.5,384.6 282.5,384.1 282.6,386.2 282.7,384.4 282.8,384.4 282.9,384.1 283.0,385.7 283.1,385.9 283.2,385.6 283.3,384.2 283.4,385.5 283.5,384.6 283.5,384.3 283.6,384.2 283.7,385.4 283.8,384.1 283.9,384.6 284.0,384.6 284.1,384.3 284.2,385.3 284.3,385.7 284.4,384.6 284.5,385.6 284.5,384.1 284.6,385.4 284.7,384.2 284.8,385.7 284.9,384.2 285.0,386.0 285.1,384.1 285.2,385.9 285.3,384.6 285.4,385.9 285.5,384.6 285.5,384.3 285.6,385.8 285.7,385.5 285.8,384.3 285.9,385.6 286.0,384.2 286.1,384.1 286.2,384.1 286.3,384.4 286.4,384.2 286.5,384.4 286.5,384.6 286.6,385.7 286.7,384.3 286.8,385.8 286.9,384.2 287.0,385.8 287.1,384.4 287.2,385.6 287.3,384.5 287.4,385.4 287.5,384.2 287.5,385.5 287.6,384.4 287.7,385.4 287.8,386.0 287.9,386.0 288.0,383.8 288.1,383.4 288.2,384.1 288.3,383.8 288.4,383.2 288.5,386.4 288.5,385.7 288.6,386.4 288.7,383.0 288.8,386.4 288.9,386.2 289.0,386.4 289.1,383.9 289.2,384.0 289.3,383.4 289.4,386.3 289.5,383.6 289.5,386.1 289.6,384.0 289.7,386.3 289.8,383.5 289.9,386.2 290.0,383.8 290.1,386.7 290.2,386.0 290.3,387.0 290.4,383.9 290.5,387.0 290.5,383.8 290.6,383.6 290.7,382.8 290.8,387.2 290.9,382.7 291.0,387.4 291.1,383.7 291.2,387.4 291.3,383.0 291.4,383.2 291.5,383.7 291.5,385.8 291.6,383.8 291.7,385.8 291.8,384.2 291.9,386.5 292.0,383.8 292.1,386.0 292.2,383.4 292.3,386.7 292.4,384.1 292.5,386.8 292.5,385.8 292.6,385.7 292.7,386.3 292.8,384.0 292.9,383.4 293.0,384.3 293.1,386.7 293.2,385.7 293.3,383.3 293.4,386.3 293.5,383.5 293.5,386.0 293.6,382.9 293.7,386.2 293.8,386.3 293.9,382.5 294.0,384.2 294.1,386.8 294.2,383.4 294.3,387.0 294.4,387.4 294.5,386.5 294.5,386.9 294.6,387.3 294.7,382.3 294.8,383.4 294.9,383.0 295.0,386.9 295.1,382.9 295.2,387.6 295.3,383.0 295.4,386.8 295.5,384.2 295.5,386.5 295.6,386.4 295.7,388.0 295.8,383.7 295.9,382.7 296.0,383.4 296.1,387.7 296.2,383.2 296.3,382.7 296.4,381.4 296.5,382.9 296.5,381.7 296.6,391.2 296.7,380.1 296.8,387.4 296.9,380.7 297.0,388.6 297.1,382.3 297.2,387.5 297.3,382.4 297.4,388.3 297.5,382.8 297.5,388.3 297.6,381.1 297.7,382.1 297.8,381.9 297.9,388.5 298.0,381.7 298.1,381.0 298.2,382.0 298.3,387.2 298.4,387.8 298.5,389.4 298.5,382.7 298.6,381.4 298.7,381.4 298.8,388.0 298.9,381.0 299.0,387.0 299.1,382.9 299.2,386.4 299.3,381.4 299.4,387.9 299.5,379.8 299.5,382.3 299.6,381.1 299.7,380.2 299.8,381.2 299.9,388.0 300.0,388.9 300.1,390.7 300.2,381.9 300.3,388.6 300.4,388.2 300.5,389.8 300.5,389.5 300.6,388.8 300.7,387.8 300.8,389.1 300.9,380.5 301.0,381.6 301.1,381.6 301.2,387.7 301.3,388.7 301.4,391.6 301.5,374.3 301.5,389.1 301.6,378.0 301.7,392.0 301.8,376.3 301.9,374.4 302.0,378.3 302.1,388.4 302.2,375.7 302.3,387.6 302.4,378.6 302.5,374.2 302.5,376.4 302.6,390.4 302.7,387.2 302.8,386.7 302.9,388.4 303.0,387.0 303.1,377.0 303.2,376.8 303.3,375.7 303.4,389.0 303.5,376.6 303.5,385.4 303.6,385.6 303.7,387.4 303.8,379.5 303.9,388.0 304.0,379.7 304.1,386.8 304.2,379.8 304.3,386.2 304.4,379.1 304.5,384.7 304.5,377.9 304.6,387.3 304.7,377.1 304.8,386.9 304.9,387.6 305.0,385.0 305.1,376.9 305.2,376.3 305.3,378.2 305.4,385.9 305.5,374.8 305.5,385.2 305.6,378.4 305.7,387.4 305.8,386.9 305.9,385.5 306.0,375.0 306.1,385.6 306.2,377.1 306.3,377.5 306.4,376.7 306.5,388.0 306.5,376.4 306.6,388.8 306.7,374.5 306.8,375.1 306.9,378.8 307.0,387.7 307.1,377.5 307.2,383.9 307.3,378.8 307.4,377.5 307.5,377.0 307.5,385.1 307.6,375.2 307.7,385.7 307.8,373.8 307.9,387.2 308.0,376.9 308.1,385.2 308.2,376.3 308.3,390.2 308.4,376.2 308.5,377.5 308.5,374.8 308.6,386.9 308.7,385.3 308.8,376.0 308.9,378.2 309.0,376.0 309.1,375.4 309.2,384.1 309.3,378.5 309.4,376.4 309.5,386.2 309.5,384.0 309.6,374.3 309.7,377.3 309.8,377.2 309.9,389.5 310.0,369.0 310.1,383.9 310.2,377.5 310.3,385.0 310.4,377.6 310.5,386.6 310.5,376.0 310.6,385.5 310.7,374.7 310.8,387.3 310.9,375.1 311.0,385.4 311.1,385.8 311.2,385.7 311.3,385.8 311.4,377.0 311.5,375.1 311.5,386.0 311.6,376.4 311.7,384.9 311.8,375.1 311.9,385.0 312.0,376.6 312.1,387.8 312.2,384.5 312.3,384.5 312.4,372.7 312.5,383.4 312.5,374.2 312.6,393.0 312.7,376.8 312.8,385.6 312.9,375.7 313.0,387.5 313.1,376.8 313.2,384.4 313.3,375.4 313.4,383.7 313.5,377.7 313.5,382.5 313.6,376.1 313.7,384.8 313.8,385.1 313.9,383.2 314.0,382.7 314.1,385.0 314.2,375.5 314.3,384.8 314.4,377.5 314.5,383.7 314.5,376.8 314.6,385.4 314.7,375.8 314.8,385.0 314.9,377.9 315.0,383.7 315.1,376.8 315.2,384.4 315.3,377.5 315.4,384.9 315.5,378.3 315.5,378.4 315.6,383.5 315.7,385.2 315.8,377.0 315.9,383.7 316.0,375.5 316.1,387.4 316.2,376.2 316.3,383.9 316.4,376.4 316.5,384.5 316.5,376.7 316.6,377.6 316.7,383.0 316.8,385.1 316.9,376.3 317.0,384.5 317.1,377.7 317.2,385.0 317.3,374.8 317.4,384.2 317.5,376.6 317.5,385.9 317.6,376.7 317.7,378.8 317.8,376.5 317.9,384.5 318.0,377.8 318.1,383.6 318.2,377.6 318.3,379.0 318.4,379.8 318.5,384.0 318.5,384.8 318.6,384.4 318.7,378.8 318.8,384.3 318.9,379.2 319.0,384.8 319.1,379.7 319.2,384.7 319.3,379.0 319.4,378.1 319.5,383.6 319.5,386.7 319.6,380.4 319.7,383.6 319.8,386.4 319.9,385.1 320.0,379.0 320.1,385.0 320.2,379.6 320.3,385.0 320.4,378.8 320.5,384.5 320.5,379.7 320.6,378.7 320.7,379.8 320.8,383.8 320.9,380.6 321.0,383.5 321.1,384.1 321.2,383.7 321.3,379.2 321.4,384.8 321.5,381.1 321.5,384.3 321.6,381.6 321.7,384.2 321.8,381.1 321.9,383.5 322.0,381.6 322.1,383.6 322.2,381.3 322.3,384.6 322.4,381.5 322.5,384.5 322.5,381.9 322.6,384.0 322.7,381.5 322.8,385.1 322.9,381.8 323.0,385.5 323.1,384.9 323.2,381.4 323.3,382.1 323.4,384.7 323.5,381.9 323.5,384.6 323.6,382.7 323.7,384.7 323.8,381.8 323.9,385.2 324.0,385.8 324.1,385.0 324.2,381.4 324.3,385.8 324.4,382.5 324.5,382.2 324.6,381.9 324.6,386.4 324.7,386.5 324.8,385.9 324.9,382.6 325.0,384.8 325.1,381.4 325.2,386.7 325.3,382.1 325.4,385.6 325.5,386.6 325.6,385.9 325.6,382.3 325.7,386.0 325.8,382.4 325.9,386.7 326.0,382.8 326.1,386.5 326.2,382.4 326.3,385.2 326.4,382.6 326.5,386.6 326.6,383.2 326.6,385.9 326.7,382.9 326.8,385.5 326.9,382.3 327.0,386.1 327.1,382.7 327.2,386.4 327.3,382.4 327.4,386.1 327.5,382.7 327.6,386.6 327.6,383.5 327.7,386.5 327.8,386.6 327.9,385.9 328.0,383.3 328.1,385.7 328.2,383.2 328.3,386.6 328.4,383.8 328.5,387.2 328.6,386.4 328.6,386.9 328.7,383.2 328.8,387.2 328.9,383.5 329.0,387.6 329.1,387.7 329.2,388.3 329.3,384.1 329.4,387.6 329.5,383.1 329.6,388.1 329.6,384.3 329.7,387.4 329.8,383.6 329.9,387.0 330.0,387.0 330.1,384.5 330.2,384.7 330.3,387.3 330.4,383.8 330.5,388.0 330.6,383.4 330.6,383.9 330.7,383.8 330.8,387.4 330.9,384.8 331.0,384.4 331.1,384.4 331.2,387.1 331.3,383.8 331.4,387.0 331.5,385.1 331.6,387.1 331.6,384.8 331.7,386.7 331.8,385.0 331.9,387.1 332.0,387.0 332.1,387.3 332.2,387.5 332.3,386.7 332.4,385.2 332.5,386.6 332.6,385.1 332.6,386.8 332.7,386.8 332.8,387.0 332.9,384.8 333.0,387.4 333.1,385.0 333.2,387.9 333.3,385.0 333.4,384.5 333.5,385.2 333.6,386.9 333.6,384.8 333.7,387.4 333.8,384.8 333.9,387.2 334.0,385.3 334.1,385.2 334.2,385.6 334.3,387.3 334.4,386.9 334.5,387.2 334.6,385.4 334.6,386.9 334.7,387.7 334.8,387.6 334.9,385.0 335.0,387.7 335.1,385.8 335.2,387.9 335.3,385.7 335.4,387.6 335.5,385.7 335.6,387.2 335.6,385.5 335.7,387.4 335.8,385.6 335.9,387.4 336.0,385.7 336.1,387.1 336.2,387.9 336.3,387.6 336.4,385.7 336.5,387.8 336.6,385.3 336.6,387.3 336.7,385.2 336.8,387.5 336.9,385.4 337.0,388.5 337.1,384.5 337.2,388.4 337.3,390.2 337.4,389.3 337.5,382.5 337.6,389.8 337.6,389.4 337.7,389.5 337.8,385.3 337.9,388.9 338.0,388.9 338.1,388.9 338.2,384.4 338.3,388.8 338.4,385.0 338.5,389.1 338.6,383.4 338.6,389.6 338.7,384.7 338.8,389.8 338.9,382.8 339.0,389.8 339.1,383.8 339.2,391.6 339.3,391.5 339.4,389.8 339.5,383.6 339.6,390.4 339.6,383.5 339.7,391.1 339.8,385.2 339.9,390.0 340.0,385.3 340.1,391.2 340.2,390.2 340.3,384.4 340.4,388.7 340.5,389.2 340.6,384.6 340.6,389.9 340.7,384.9 340.8,385.2 340.9,384.3 341.0,390.5 341.1,385.1 341.2,390.5 341.3,384.8 341.4,388.8 341.5,385.8 341.6,389.6 341.6,383.4 341.7,382.8 341.8,383.0 341.9,393.0 342.0,385.5 342.1,389.6 342.2,384.4 342.3,392.6 342.4,382.2 342.5,390.3 342.6,393.2 342.6,391.1 342.7,385.2 342.8,390.1 342.9,384.2 343.0,391.3 343.1,385.6 343.2,390.9 343.3,384.6 343.4,389.7 343.5,383.5 343.6,390.3 343.6,384.5 343.7,391.0 343.8,384.1 343.9,392.0 344.0,384.9 344.1,391.5 344.2,384.3 344.3,390.9 344.4,384.6 344.5,389.1 344.6,385.8 344.6,390.0 344.7,389.3 344.8,386.0 344.9,389.9 345.0,389.6 345.1,386.3 345.2,385.7 345.3,383.9 345.4,392.9 345.5,382.0 345.6,393.2 345.6,381.2 345.7,391.2 345.8,383.2 345.9,392.4 346.0,385.9 346.1,392.7 346.2,384.6 346.3,391.5 346.4,385.0 346.5,392.1 346.6,384.9 346.6,391.4 346.7,385.7 346.8,391.6 346.9,385.4 347.0,390.3 347.1,385.9 347.2,391.8 347.3,385.2 347.4,393.5 347.5,386.6 347.6,392.8 347.6,384.4 347.7,391.3 347.8,386.4 347.9,389.8 348.0,386.7 348.1,391.4 348.2,384.4 348.3,391.0 348.4,390.9 348.5,390.3 348.6,386.6 348.6,390.7 348.7,385.1 348.8,392.9 348.9,384.9 349.0,393.0 349.1,386.3 349.2,391.2 349.3,384.7 349.4,392.1 349.5,386.1 349.6,391.7 349.6,385.5 349.7,390.8 349.8,386.6 349.9,390.6 350.0,386.0 350.1,391.6 350.2,386.7 350.3,391.5 350.4,385.9 350.5,391.2 350.6,386.5 350.6,391.9 350.7,386.6 350.8,392.6 350.9,385.7 351.0,380.0 351.1,392.0 351.2,385.2 351.3,382.9 351.4,392.3 351.5,386.9 351.6,384.8 351.6,386.8 351.7,386.2 351.8,387.1 351.9,392.1 352.0,386.7 352.1,393.5 352.2,391.4 352.3,391.4 352.4,387.3 352.5,391.8 352.6,386.6 352.6,392.0 352.7,387.0 352.8,386.7 352.9,386.6 353.0,391.8 353.1,387.0 353.2,387.8 353.3,388.2 353.4,386.9 353.5,387.1 353.6,391.1 353.6,386.4 353.7,393.3 353.8,386.7 353.9,393.2 354.0,385.9 354.1,392.1 354.2,388.5 354.3,392.9 354.4,393.2 354.5,393.8 354.6,391.2 354.6,393.2 354.7,387.6 354.8,391.2 354.9,388.9 355.0,392.0 355.1,387.4 355.2,392.3 355.3,391.4 355.4,391.6 355.5,387.8 355.6,392.3 355.6,388.3 355.7,392.6 355.8,392.3 355.9,392.8 356.0,392.4 356.1,394.3 356.2,388.2 356.3,392.6 356.4,385.3 356.5,392.5 356.6,385.1 356.6,393.9 356.7,386.8 356.8,393.5 356.9,388.1 357.0,394.6 357.1,387.7 357.2,394.1 357.3,388.8 357.4,395.2 357.5,387.9 357.6,392.9 357.6,388.1 357.7,392.6 357.8,394.1 357.9,396.0 358.0,387.2 358.1,395.5 358.2,387.6 358.3,398.5 358.4,387.5 358.5,386.9 358.6,394.1 358.6,395.1 358.7,386.5 358.8,394.0 358.9,386.6 359.0,393.3 359.1,386.2 359.2,395.9 359.3,385.6 359.4,393.5 359.5,388.4 359.6,395.2 359.6,385.7 359.7,394.3 359.8,384.5 359.9,394.6 360.0,386.5 360.1,395.3 360.2,387.2 360.3,396.2 360.4,387.1 360.5,396.0 360.6,387.0 360.6,393.7 360.7,395.9 360.8,394.1 360.9,388.5 361.0,394.3 361.1,386.3 361.2,387.0 361.3,387.0 361.4,393.6 361.5,392.5 361.6,394.1 361.6,386.8 361.7,395.3 361.8,388.4 361.9,394.6 362.0,393.1 362.1,395.2 362.2,388.8 362.3,396.7 362.4,387.3 362.5,386.2 362.6,386.6 362.6,397.7 362.7,384.6 362.8,395.7 362.9,385.5 363.0,395.6 363.1,388.2 363.2,393.6 363.3,393.8 363.4,395.1 363.5,385.1 363.6,396.8 363.6,385.7 363.7,393.3 363.8,386.8 363.9,396.0 364.0,384.9 364.1,395.1 364.2,386.2 364.3,392.4 364.4,392.5 364.5,394.1 364.6,385.8 364.6,388.3 364.7,388.5 364.8,393.0 364.9,386.7 365.0,395.6 365.1,386.8 365.2,392.6 365.3,387.7 365.4,396.1 365.5,386.0 365.6,395.0 365.6,387.1 365.7,396.0 365.8,394.1 365.9,394.6 366.0,384.9 366.1,394.9 366.2,386.3 366.3,391.7 366.4,387.0 366.5,392.7 366.6,388.8 366.6,392.9 366.7,388.1 366.8,393.4 366.9,385.3 367.0,391.9 367.1,388.9 367.2,393.3 367.3,387.1 367.4,391.6 367.5,386.5 367.6,390.9 367.6,389.1 367.7,391.8 367.8,388.6 367.9,390.9 368.0,388.5 368.1,391.3 368.2,388.5 368.3,391.2 368.4,387.8 368.5,392.3 368.6,391.8 368.6,386.5 368.7,387.0 368.8,387.4 368.9,386.7 369.0,392.4 369.1,387.4 369.2,387.6 369.3,387.2 369.4,392.3 369.5,387.5 369.6,390.6 369.6,388.2 369.7,388.6 369.8,388.7 369.9,388.7 370.0,388.7 370.1,388.7 370.2,388.6 370.3,390.4 370.4,388.2 370.5,390.9 370.6,388.2 370.6,390.9 370.7,388.5 370.8,390.2 370.9,388.8 371.0,391.0 371.1,388.0 371.2,390.5 371.3,388.4 371.4,390.4 371.5,390.6 371.6,388.2 371.7,388.1 371.7,390.4 371.8,388.0 371.9,391.0 372.0,388.3 372.1,387.7 372.2,388.4 372.3,390.3 372.4,388.3 372.5,390.4 372.6,387.1 372.7,390.6 372.7,387.5 372.8,390.9 372.9,390.9 373.0,390.8 373.1,388.1 373.2,390.1 373.3,388.2 373.4,387.9 373.5,387.9 373.6,390.5 373.7,387.3 373.7,390.8 373.8,387.4 373.9,387.7 374.0,388.4 374.1,390.2 374.2,388.3 374.3,390.8 374.4,387.4 374.5,390.2 374.6,388.3 374.7,390.8 374.7,388.0 374.8,390.0 374.9,387.2 375.0,390.7 375.1,387.7 375.2,389.5 375.3,388.1 375.4,390.1 375.5,387.9 375.6,389.4 375.7,387.5 375.7,389.8 375.8,387.6 375.9,389.5 376.0,387.3 376.1,389.8 376.2,387.7 376.3,389.5 376.4,387.2 376.5,389.7 376.6,389.9 376.7,389.2 376.7,387.3 376.8,387.4 376.9,389.4 377.0,389.2 377.1,386.0 377.2,389.6 377.3,387.0 377.4,388.8 377.5,388.9 377.6,389.1 377.7,386.9 377.7,388.6 377.8,386.5 377.9,388.2 378.0,386.7 378.1,386.4 378.2,386.6 378.3,387.9 378.4,387.8 378.5,388.3 378.6,386.7 378.7,387.6 378.7,386.2 378.8,388.1 378.9,386.2 379.0,387.6 379.1,385.9 379.2,387.7 379.3,387.4 379.4,387.2 379.5,385.7 379.6,385.5 379.7,387.4 379.7,387.4 379.8,385.5 379.9,387.5 380.0,385.8 380.1,387.1 380.2,385.5 380.3,387.2 380.4,385.4 380.5,386.7 380.6,385.1 380.7,386.6 380.7,385.5 380.8,387.0 380.9,385.3 381.0,386.9 381.1,386.9 381.2,384.6 381.3,384.6 381.4,385.0 381.5,385.1 381.6,386.2 381.7,384.4 381.7,384.1 381.8,386.2 381.9,384.1 382.0,384.2 382.1,385.6 382.2,383.5 382.3,385.5 382.4,382.8 382.5,385.7 382.6,383.6 382.7,384.5 382.7,383.0 382.8,384.8 382.9,382.8 383.0,384.2 383.1,382.8 383.2,384.1 383.3,382.9 383.4,383.6 383.5,382.1 383.6,384.0 383.7,381.8 383.7,384.1 383.8,381.8 383.9,383.5 384.0,381.6 384.1,383.1 384.2,381.7 384.3,383.3 384.4,382.9 384.5,382.8 384.6,381.3 384.7,382.4 384.7,382.1 384.8,382.4 384.9,380.5 385.0,382.3 385.1,380.2 385.2,382.3 385.3,380.6 385.4,381.7 385.5,379.8 385.6,381.9 385.7,379.9 385.7,381.1 385.8,380.9 385.9,381.1 386.0,379.3 386.1,380.7 386.2,379.3 386.3,380.3 386.4,379.2 386.5,380.6 386.6,378.1 386.7,380.0 386.7,378.2 386.8,379.7 386.9,379.8 387.0,378.1 387.1,378.8 387.2,380.4 387.3,378.9 387.4,380.1 387.5,379.0 387.6,380.2 387.7,379.3 387.7,380.4 387.8,379.4 387.9,380.6 388.0,379.9 388.1,381.2 388.2,379.9 388.3,381.1 388.4,379.8 388.5,381.8 388.6,382.0 388.7,382.0 388.7,380.4 388.8,382.2 388.9,380.2 389.0,382.8 389.1,379.6 389.2,383.3 389.3,379.7 389.4,383.5 389.5,381.1 389.6,381.1 389.7,380.6 389.7,383.2 389.8,383.2 389.9,383.7 390.0,380.6 390.1,384.6 390.2,384.2 390.3,384.3 390.4,382.0 390.5,385.5 390.6,382.2 390.7,380.6 390.7,386.0 390.8,385.4 390.9,381.1 391.0,387.1 391.1,381.5 391.2,382.9 391.3,381.9 391.4,385.7 391.5,382.9 391.6,387.2 391.7,380.9 391.7,386.4 391.8,380.9 391.9,387.5 392.0,381.5 392.1,387.5 392.2,381.0 392.3,381.3 392.4,381.2 392.5,388.2 392.6,388.0 392.7,386.4 392.7,380.6 392.8,388.3 392.9,382.5 393.0,387.9 393.1,380.2 393.2,386.5 393.3,382.4 393.4,387.9 393.5,383.1 393.6,387.9 393.7,382.9 393.7,389.3 393.8,382.6 393.9,387.4 394.0,384.2 394.1,388.9 394.2,384.0 394.3,388.6 394.4,380.6 394.5,388.9 394.6,383.4 394.7,388.6 394.7,383.8 394.8,387.4 394.9,389.0 395.0,387.9 395.1,383.8 395.2,381.5 395.3,383.3 395.4,389.3 395.5,382.0 395.6,381.3 395.7,383.6 395.7,391.4 395.8,381.3 395.9,392.1 396.0,382.5 396.1,392.4 396.2,391.4 396.3,389.5 396.4,381.7 396.5,381.6 396.6,382.2 396.7,389.3 396.7,382.7 396.8,389.1 396.9,389.6 397.0,390.2 397.1,383.2 397.2,388.1 397.3,382.9 397.4,390.0 397.5,382.3 397.6,390.2 397.7,383.2 397.7,391.0 397.8,383.6 397.9,389.2 398.0,383.0 398.1,383.6 398.2,380.7 398.3,390.4 398.4,389.7 398.5,388.4 398.6,384.9 398.7,389.3 398.7,383.1 398.8,390.2 398.9,383.4 399.0,384.3 399.1,383.0 399.2,389.4 399.3,384.7 399.4,391.0 399.5,382.4 399.6,394.7 399.7,381.8 399.7,391.8 399.8,382.2 399.9,390.2 400.0,384.3 400.1,383.4 400.2,385.2 400.3,390.6 400.4,383.7 400.5,392.4 400.6,383.0 400.7,391.4 400.7,386.5 400.8,391.8 400.9,384.8 401.0,392.8 401.1,390.7 401.2,393.0 401.3,386.4 401.4,393.9 401.5,386.2 401.6,390.3 401.7,383.7 401.7,391.5 401.8,386.6 401.9,394.1 402.0,385.7 402.1,392.7 402.2,385.6 402.3,391.2 402.4,383.2 402.5,393.1 402.6,387.4 402.7,386.8 402.7,387.2 402.8,391.6 402.9,387.0 403.0,393.7 403.1,386.4 403.2,391.5 403.3,387.9 403.4,392.2 403.5,388.5 403.6,392.5 403.7,387.7 403.7,393.6 403.8,386.5 403.9,385.3 404.0,386.5 404.1,392.5 404.2,385.5 404.3,385.5 404.4,385.6 404.5,392.9 404.6,395.7 404.7,387.7 404.7,385.8 404.8,395.0 404.9,387.4 405.0,392.9 405.1,394.7 405.2,393.4 405.3,388.3 405.4,393.6 405.5,389.6 405.6,394.5 405.7,386.6 405.7,388.9 405.8,388.7 405.9,393.6 406.0,396.3 406.1,397.2 406.2,388.9 406.3,397.1 406.4,389.6 406.5,394.6 406.6,389.9 406.7,394.7 406.7,389.8 406.8,393.6 406.9,391.0 407.0,395.2 407.1,390.4 407.2,394.6 407.3,395.1 407.4,395.2 407.5,389.0 407.6,395.8 407.7,390.2 407.7,394.1 407.8,389.9 407.9,394.3 408.0,396.7 408.1,391.3 408.2,394.9 408.3,394.2 408.4,391.6 408.5,395.4 408.6,396.2 408.7,396.2 408.7,394.8 408.8,398.3 408.9,395.4 409.0,390.1 409.1,391.6 409.2,390.9 409.3,391.8 409.4,395.2 409.5,391.9 409.6,396.8 409.7,390.2 409.7,395.8 409.8,392.8 409.9,395.8 410.0,391.5 410.1,396.3 410.2,393.2 410.3,396.0 410.4,393.1 410.5,396.5 410.6,396.2 410.7,397.3 410.7,395.9 410.8,397.2 410.9,391.2 411.0,399.2 411.1,391.0 411.2,397.5 411.3,392.5 411.4,397.0 411.5,396.1 411.6,396.7 411.7,393.1 411.7,396.7 411.8,397.1 411.9,397.5 412.0,393.0 412.1,398.5 412.2,391.5 412.3,398.5 412.4,391.7 412.5,398.4 412.6,391.7 412.7,397.2 412.7,396.4 412.8,396.9 412.9,392.6 413.0,398.6 413.1,391.4 413.2,396.1 413.3,393.2 413.4,396.9 413.5,393.1 413.6,396.4 413.7,392.8 413.7,396.5 413.8,392.7 413.9,392.3 414.0,396.4 414.1,396.8 414.2,392.3 414.3,396.3 414.4,393.3 414.5,395.9 414.6,393.6 414.7,392.7 414.7,391.8 414.8,396.0 414.9,393.2 415.0,395.6 415.1,395.3 415.2,395.4 415.3,393.4 415.4,393.3 415.5,393.7 415.6,396.1 415.7,393.4 415.7,395.8 415.8,393.7 415.9,395.9 416.0,392.7 416.1,396.4 416.2,393.1 416.3,396.0 416.4,393.4 416.5,396.3 416.6,393.8 416.7,395.7 416.7,394.2 416.8,395.5 416.9,395.9 417.0,396.2 417.1,393.9 417.2,394.0 417.3,394.3 417.4,395.8 417.5,394.1 417.6,395.6 417.7,394.2 417.7,396.0 417.8,394.2 417.9,396.0 418.0,394.1 418.1,395.9 418.2,394.2 418.3,396.6 418.4,394.4 418.5,395.6 418.6,395.8 418.7,395.8 418.8,394.2 418.8,395.9 418.9,394.4 419.0,396.0 419.1,394.6 419.2,395.8 419.3,395.0 419.4,396.3 419.5,395.0 419.6,396.1 419.7,395.2 419.8,396.0 419.8,394.7 419.9,396.1 420.0,395.0 420.1,396.5 420.2,395.3 420.3,396.8 420.4,396.3 420.5,396.1 420.6,395.5 420.7,396.8 420.8,395.4 420.8,396.4 420.9,395.6 421.0,396.6 421.1,396.7 421.2,396.5 421.3,396.5 421.4,396.4 421.5,395.4 421.6,397.0 421.7,395.8 421.8,395.8 421.8,395.7 421.9,396.8 422.0,396.8 422.1,397.4 422.2,396.0 422.3,395.8 422.4,395.8 422.5,397.2 422.6,396.1 422.7,396.8 422.8,396.0 422.8,397.3 422.9,395.8 423.0,397.0 423.1,396.0 423.2,397.3 423.3,395.7 423.4,397.5 423.5,395.5 423.6,395.3 423.7,395.4 423.8,396.6 423.8,395.5 423.9,396.6 424.0,395.4 424.1,396.8 424.2,395.0 424.3,395.9 424.4,394.6 424.5,395.0 424.6,394.2 424.7,396.0 424.8,394.3 424.8,395.6 424.9,393.9 425.0,396.1 425.1,394.2 425.2,395.8 425.3,393.5 425.4,395.6 425.5,393.3 425.6,393.2 425.7,392.8 425.8,394.8 425.8,393.2 425.9,395.2 426.0,395.1 426.1,395.1 426.2,392.6 426.3,394.5 426.4,394.9 426.5,395.2 426.6,392.0 426.7,394.1 426.8,392.6 426.8,394.6 426.9,391.4 427.0,394.8 427.1,391.6 427.2,394.1 427.3,391.8 427.4,394.9 427.5,390.3 427.6,394.0 427.7,391.1 427.8,393.5 427.8,391.4 427.9,393.2 428.0,390.9 428.1,392.8 428.2,390.5 428.3,392.9 428.4,394.0 428.5,394.2 428.6,393.4 428.7,392.9 428.8,393.3 428.8,393.6 428.9,389.5 429.0,389.1 429.1,388.3 429.2,394.4 429.3,389.8 429.4,393.4 429.5,390.3 429.6,389.8 429.7,390.1 429.8,388.5 429.8,387.9 429.9,389.5 430.0,395.5 430.1,395.6 430.2,394.0 430.3,395.8 430.4,387.4 430.5,394.4 430.6,388.3 430.7,394.4 430.8,389.1 430.8,394.7 430.9,388.8 431.0,394.4 431.1,389.5 431.2,390.2 431.3,388.4 431.4,390.6 431.5,389.7 431.6,395.2 431.7,390.0 431.8,395.5 431.8,390.1 431.9,394.8 432.0,387.7 432.1,395.6 432.2,388.6 432.3,396.1 432.4,389.2 432.5,397.4 432.6,388.2 432.7,396.3 432.8,396.1 432.8,393.8 432.9,390.2 433.0,394.6 433.1,389.4 433.2,393.9 433.3,390.9 433.4,394.3 433.5,390.5 433.6,393.4 433.7,394.2 433.8,394.0 433.8,390.9 433.9,393.6 434.0,390.4 434.1,393.9 434.2,390.8 434.3,393.1 434.4,390.5 434.5,393.5 434.6,390.6 434.7,393.1 434.8,390.7 434.8,393.9 434.9,390.2 435.0,393.9 435.1,390.6 435.2,394.6 435.3,390.2 435.4,394.5 435.5,395.3 435.6,395.4 435.7,389.8 435.8,390.6 435.8,389.3 435.9,395.1 436.0,390.2 436.1,394.4 436.2,390.3 436.3,394.6 436.4,389.0 436.5,391.1 436.6,388.4 436.7,396.7 436.8,388.9 436.8,394.9 436.9,390.2 437.0,395.1 437.1,388.9 437.2,396.7 437.3,390.2 437.4,397.1 437.5,389.7 437.6,396.6 437.7,387.5 437.8,397.2 437.8,388.1 437.9,395.9 438.0,390.2 438.1,395.7 438.2,397.8 438.3,397.8 438.4,388.1 438.5,396.9 438.6,386.7 438.7,394.7 438.8,389.6 438.8,389.7 438.9,387.4 439.0,397.3 439.1,388.3 439.2,394.0 439.3,395.0 439.4,396.9 439.5,394.8 439.6,397.3 439.7,390.6 439.8,396.2 439.8,389.4 439.9,395.9 440.0,389.4 440.1,394.5 440.2,389.8 440.3,397.8 440.4,388.5 440.5,394.7 440.6,389.1 440.7,394.7 440.8,394.8 440.8,394.7 440.9,389.8 441.0,394.4 441.1,389.4 441.2,394.6 441.3,390.0 441.4,396.3 441.5,390.6 441.6,395.6 441.7,390.6 441.8,388.4 441.8,394.9 441.9,396.0 442.0,386.9 442.1,390.2 442.2,395.2 442.3,398.5 442.4,390.5 442.5,390.2 442.6,389.4 442.7,390.2 442.8,390.7 442.8,396.2 442.9,390.9 443.0,394.5 443.1,389.4 443.2,396.0 443.3,398.8 443.4,398.8 443.5,398.0 443.6,397.8 443.7,389.1 443.8,396.6 443.8,389.8 443.9,391.1 444.0,389.8 444.1,395.1 444.2,389.5 444.3,395.4 444.4,390.0 444.5,394.5 444.6,389.9 444.7,388.6 444.8,389.7 444.8,395.9 444.9,389.5 445.0,395.1 445.1,390.9 445.2,395.5 445.3,389.7 445.4,396.5 445.5,389.7 445.6,396.2 445.7,396.9 445.8,397.0 445.8,389.2 445.9,395.8 446.0,389.8 446.1,395.0 446.2,387.7 446.3,388.6 446.4,387.8 446.5,398.3 446.6,397.9 446.7,397.5 446.8,390.0 446.8,397.6 446.9,395.2 447.0,395.4 447.1,390.4 447.2,395.0 447.3,390.8 447.4,396.3 447.5,390.6 447.6,394.9 447.7,396.0 447.8,395.7 447.8,390.8 447.9,395.7 448.0,399.0 448.1,391.8 448.2,389.4 448.3,395.0 448.4,391.2 448.5,396.9 448.6,391.1 448.7,391.8 448.8,391.0 448.8,397.6 448.9,391.8 449.0,395.2 449.1,390.4 449.2,396.5 449.3,391.2 449.4,395.4 449.5,396.9 449.6,396.1 449.7,390.0 449.8,391.2 449.8,391.4 449.9,395.6 450.0,391.6 450.1,395.3 450.2,391.5 450.3,394.3 450.4,391.6 450.5,395.7 450.6,395.4 450.7,395.1 450.8,391.3 450.8,395.1 450.9,392.1 451.0,396.1 451.1,391.2 451.2,395.0 451.3,391.8 451.4,395.3 451.5,390.9 451.6,395.4 451.7,394.4 451.8,394.1 451.8,391.3 451.9,394.4 452.0,391.5 452.1,394.4 452.2,391.3 452.3,394.2 452.4,390.8 452.5,395.6 452.6,392.1 452.7,394.5 452.8,390.9 452.8,391.1 452.9,390.4 453.0,394.7 453.1,391.7 453.2,391.5 453.3,390.9 453.4,394.9 453.5,391.2 453.6,394.8 453.7,392.1 453.8,394.1 453.8,392.3 453.9,394.0 454.0,394.8 454.1,395.3 454.2,395.1 454.3,394.9 454.4,391.8 454.5,391.4 454.6,391.8 454.7,394.8 454.8,391.2 454.8,393.8 454.9,394.7 455.0,395.0 455.1,391.2 455.2,394.5 455.3,390.8 455.4,394.1 455.5,391.4 455.6,391.2 455.7,395.2 455.8,394.8 455.8,391.4 455.9,394.5 456.0,394.3 456.1,394.5 456.2,391.8 456.3,394.0 456.4,390.8 456.5,395.7 456.6,389.5 456.7,395.7 456.8,394.4 456.8,395.4 456.9,391.1 457.0,391.8 457.1,391.2 457.2,391.7 457.3,391.6 457.4,394.1 457.5,394.9 457.6,393.9 457.7,394.3 457.8,392.1 457.8,392.1 457.9,394.6 458.0,391.3 458.1,391.5 458.2,391.8 458.3,394.8 458.4,392.1 458.5,394.8 458.6,391.3 458.7,394.1 458.8,394.5 458.8,395.4 458.9,394.9 459.0,391.8 459.1,391.4 459.2,392.0 459.3,392.0 459.4,392.0 459.5,391.6 459.6,394.2 459.7,392.3 459.8,395.3 459.8,391.9 459.9,393.9 460.0,392.0 460.1,393.7 460.2,392.0 460.3,394.4 460.4,392.3 460.5,393.7 460.6,391.9 460.7,393.9 460.8,392.4 460.8,394.2 460.9,392.1 461.0,394.5 461.1,391.7 461.2,393.7 461.3,391.9 461.4,393.7 461.5,391.8 461.6,394.3 461.7,393.7 461.8,393.8 461.8,392.0 461.9,393.9 462.0,392.4 462.1,392.1 462.2,392.2 462.3,391.9 462.4,392.5 462.5,393.6 462.6,392.0 462.7,393.5 462.8,393.5 462.8,393.2 462.9,392.2 463.0,393.8 463.1,391.9 463.2,393.9 463.3,392.3 463.4,393.5 463.5,392.1 463.6,393.5 463.7,393.7 463.8,393.5 463.8,392.2 463.9,393.9 464.0,391.9 464.1,393.5 464.2,392.1 464.3,393.5 464.4,391.9 464.5,394.3 464.6,394.2 464.7,394.0 464.8,391.4 464.8,392.1 464.9,394.1 465.0,391.9 465.1,391.3 465.2,393.6 465.3,391.1 465.4,394.4 465.5,391.4 465.6,394.7 465.7,390.6 465.8,393.9 465.9,394.0 465.9,393.5 466.0,391.3 466.1,394.1 466.2,391.8 466.3,394.2 466.4,390.8 466.5,393.9 466.6,390.8 466.7,394.0 466.8,394.0 466.9,394.8 466.9,391.2 467.0,394.3 467.1,391.1 467.2,394.6 467.3,390.7 467.4,392.0 467.5,391.7 467.6,391.7 467.7,391.1 467.8,393.9 467.9,394.6 467.9,393.4 468.0,392.0 468.1,393.3 468.2,391.5 468.3,393.5 468.4,391.9 468.5,394.2 468.6,391.8 468.7,393.5 468.8,391.8 468.9,391.6 468.9,391.4 469.0,393.5 469.1,391.7 469.2,393.7 469.3,391.1 469.4,393.3 469.5,390.3 469.6,393.0 469.7,391.2 469.8,393.5 469.9,390.0 469.9,392.8 470.0,390.5 470.1,393.4 470.2,392.7 470.3,392.5 470.4,389.4 470.5,392.2 470.6,390.1 470.7,393.2 470.8,389.5 470.9,393.3 470.9,392.3 471.0,392.1 471.1,391.8 471.2,389.0 471.3,388.9 471.4,392.0 471.5,388.7 471.6,388.6 471.7,389.3 471.8,391.5 471.9,389.2 471.9,388.4 472.0,392.0 472.1,391.3 472.2,387.7 472.3,391.8 472.4,388.2 472.5,393.1 472.6,386.5 472.7,394.3 472.8,388.2 472.9,392.4 472.9,388.5 473.0,393.2 473.1,387.7 473.2,393.3 473.3,392.9 473.4,388.7 473.5,387.6 473.6,392.4 473.7,388.3 473.8,393.7 473.9,388.4 473.9,391.6 474.0,387.8 474.1,392.3 474.2,388.7 474.3,393.1 474.4,387.5 474.5,391.9 474.6,388.9 474.7,392.2 474.8,387.7 474.9,394.1 474.9,386.1 475.0,393.3 475.1,386.3 475.2,392.6 475.3,387.6 475.4,394.5 475.5,387.6 475.6,394.8 475.7,388.6 475.8,393.4 475.9,387.6 475.9,392.3 476.0,393.3 476.1,388.6 476.2,387.1 476.3,394.0 476.4,388.3 476.5,394.0 476.6,388.1 476.7,386.9 476.8,388.8 476.9,395.4 476.9,386.0 477.0,386.9 477.1,387.4 477.2,393.3 477.3,393.2 477.4,394.3 477.5,386.7 477.6,392.1 477.7,388.8 477.8,392.0 477.9,389.2 477.9,393.5 478.0,389.0 478.1,393.6 478.2,387.2 478.3,393.1 478.4,392.7 478.5,394.8 478.6,384.1 478.7,394.8 478.8,384.6 478.9,396.7 478.9,385.6 479.0,396.5 479.1,394.0 479.2,395.1 479.3,386.0 479.4,396.5 479.5,385.2 479.6,396.6 479.7,386.0 479.8,396.3 479.9,388.0 479.9,395.6 480.0,386.1 480.1,394.2 480.2,386.6 480.3,395.6 480.4,394.8 480.5,393.1 480.6,388.1 480.7,393.9 480.8,387.7 480.9,393.5 480.9,394.1 481.0,387.4 481.1,387.4 481.2,393.2 481.3,388.2 481.4,395.0 481.5,388.4 481.6,392.9 481.7,396.6 481.8,386.5 481.9,394.9 481.9,395.8 482.0,393.6 482.1,386.7 482.2,388.9 482.3,394.0 482.4,388.1 482.5,393.9 482.6,388.2 482.7,396.4 482.8,389.4 482.9,386.8 482.9,389.0 483.0,393.4 483.1,388.6 483.2,394.7 483.3,387.5 483.4,393.2 483.5,386.8 483.6,393.7 483.7,387.5 483.8,393.8 483.9,388.7 483.9,393.0 484.0,386.7 484.1,394.5 484.2,386.0 484.3,396.4 484.4,394.7 484.5,396.0 484.6,386.7 484.7,395.2 484.8,388.2 484.9,396.2 484.9,386.4 485.0,394.9 485.1,393.9 485.2,394.8 485.3,393.5 485.4,395.5 485.5,388.3 485.6,393.2 485.7,393.4 485.8,392.9 485.9,389.2 485.9,396.8 486.0,387.8 486.1,397.3 486.2,385.5 486.3,394.4 486.4,386.0 486.5,393.7 486.6,386.3 486.7,394.3 486.8,386.3 486.9,397.1 486.9,388.0 487.0,399.4 487.1,389.2 487.2,394.7 487.3,389.5 487.4,395.6 487.5,387.2 487.6,393.7 487.7,386.2 487.8,394.9 487.9,387.4 487.9,394.8 488.0,389.1 488.1,395.8 488.2,388.2 488.3,395.3 488.4,389.5 488.5,386.8 488.6,394.3 488.7,396.8 488.8,387.6 488.9,396.3 488.9,388.2 489.0,395.7 489.1,387.4 489.2,389.0 489.3,386.8 489.4,395.8 489.5,389.4 489.6,395.2 489.7,385.8 489.8,396.1 489.9,388.5 489.9,395.3 490.0,388.9 490.1,397.4 490.2,389.1 490.3,396.5 490.4,389.6 490.5,393.9 490.6,388.8 490.7,393.3 490.8,390.6 490.9,394.0 490.9,387.2 491.0,394.8 491.1,389.4 491.2,394.7 491.3,388.4 491.4,393.5 491.5,388.8 491.6,394.0 491.7,388.5 491.8,396.3 491.9,389.7 491.9,396.3 492.0,395.8 492.1,394.5 492.2,386.7 492.3,397.2 492.4,387.2 492.5,396.5 492.6,388.0 492.7,397.2 492.8,386.6 492.9,388.0 492.9,386.7 493.0,396.6 493.1,389.7 493.2,396.8 493.3,387.2 493.4,396.3 493.5,389.4 493.6,395.3 493.7,390.1 493.8,394.4 493.9,395.3 493.9,395.9 494.0,394.9 494.1,394.6 494.2,389.0 494.3,397.0 494.4,389.5 494.5,394.2 494.6,389.4 494.7,397.1 494.8,389.2 494.9,394.3 494.9,388.4 495.0,394.6 495.1,395.4 495.2,394.7 495.3,388.5 495.4,394.6 495.5,390.8 495.6,394.0 495.7,393.6 495.8,392.9 495.9,390.1 495.9,395.4 496.0,388.5 496.1,389.3 496.2,389.9 496.3,395.7 496.4,388.9 496.5,394.5 496.6,394.0 496.7,394.7 496.8,387.5 496.9,393.8 496.9,390.3 497.0,395.0 497.1,393.4 497.2,393.7 497.3,389.7 497.4,394.9 497.5,389.4 497.6,395.8 497.7,388.8 497.8,394.2 497.9,388.5 497.9,395.3 498.0,390.0 498.1,393.9 498.2,389.9 498.3,394.1 498.4,393.1 498.5,394.7 498.6,389.5 498.7,394.1 498.8,389.8 498.9,394.0 498.9,393.0 499.0,394.5 499.1,392.9 499.2,393.8 499.3,392.9 499.4,390.5 499.5,390.4 499.6,393.3 499.7,390.9 499.8,393.1 499.9,389.8 499.9,393.3 500.0,390.9 500.1,394.5 500.2,393.8 500.3,393.8 500.4,389.6 500.5,393.2 500.6,393.5 500.7,393.2 500.8,392.8 500.9,393.6 500.9,390.1 501.0,391.1 501.1,394.8 501.2,392.9 501.3,390.0 501.4,393.9 501.5,389.5 501.6,393.6 501.7,393.7 501.8,395.1 501.9,389.8 501.9,393.0 502.0,393.2 502.1,393.2 502.2,389.4 502.3,391.3 502.4,391.1 502.5,394.7 502.6,389.4 502.7,394.1 502.8,390.2 502.9,390.2 502.9,391.2 503.0,390.7 503.1,393.0 503.2,393.1 503.3,389.9 503.4,393.7 503.5,390.8 503.6,393.5 503.7,393.2 503.8,394.0 503.9,390.3 503.9,393.1 504.0,390.9 504.1,393.4 504.2,390.6 504.3,393.5 504.4,391.3 504.5,392.4 504.6,390.7 504.7,392.8 504.8,392.8 504.9,391.5 504.9,391.4 505.0,392.7 505.1,391.2 505.2,392.5 505.3,391.2 505.4,392.1 505.5,391.2 505.6,392.2 505.7,391.4 505.8,392.5 505.9,391.0 505.9,390.8 506.0,391.4 506.1,392.6 506.2,391.1 506.3,391.0 506.4,390.4 506.5,393.2 506.6,391.0 506.7,392.3 506.8,392.3 506.9,390.1 506.9,390.9 507.0,393.3 507.1,390.6 507.2,392.8 507.3,391.1 507.4,392.4 507.5,391.2 507.6,392.9 507.7,391.0 507.8,392.4 507.9,390.7 507.9,392.2 508.0,391.0 508.1,392.3 508.2,390.8 508.3,390.9 508.4,392.9 508.5,392.8 508.6,391.0 508.7,392.5 508.8,391.0 508.9,390.4 508.9,392.3 509.0,392.1 509.1,390.5 509.2,392.0 509.3,390.2 509.4,391.7 509.5,390.7 509.6,392.1 509.7,390.9 509.8,391.8 509.9,390.6 509.9,391.7 510.0,390.7 510.1,392.1 510.2,391.0 510.3,391.6 510.4,390.7 510.5,390.9 510.6,390.5 510.7,391.6 510.8,390.9 510.9,390.6 510.9,390.9 511.0,391.6 511.1,390.4 511.2,391.5 511.3,390.2 511.4,391.9 511.5,390.6 511.6,392.0 511.7,390.5 511.8,391.9 511.9,390.3 511.9,390.3 512.0,390.1 512.1,391.9 512.2,390.0 512.3,391.8 512.4,390.4 512.5,391.3 512.6,391.4 512.7,391.4 512.8,390.1 512.9,391.9 513.0,389.6 513.0,390.0 513.1,390.3 513.2,391.5 513.3,390.1 513.4,391.6 513.5,389.5 513.6,392.1 513.7,389.8 513.8,390.0 513.9,390.0 514.0,391.3 514.0,390.2 514.1,392.0 514.2,389.2 514.3,391.5 514.4,390.0 514.5,391.2 514.6,389.8 514.7,392.1 514.8,391.3 514.9,391.2 515.0,391.5 515.0,391.5 515.1,389.9 515.2,391.1 515.3,390.1 515.4,390.9 515.5,390.0 515.6,391.1 515.7,389.7 515.8,391.0 515.9,389.8 516.0,390.8 516.0,389.8 516.1,391.0 516.2,389.6 516.3,389.7 516.4,389.3 516.5,389.1 516.6,389.8 516.7,391.1 516.8,389.4 516.9,391.3 517.0,389.3 517.0,391.0 517.1,389.4 517.2,390.6 517.3,389.4 517.4,390.7 517.5,389.5 517.6,390.8 517.7,389.6 517.8,390.7 517.9,389.5 518.0,390.8 518.0,391.2 518.1,388.8 518.2,388.7 518.3,390.8 518.4,388.6 518.5,390.4 518.6,390.9 518.7,390.5 518.8,389.4 518.9,390.5 519.0,389.1 519.0,390.2 519.1,389.5 519.2,390.4 519.3,390.9 519.4,390.7 519.5,389.1 519.6,391.3 519.7,388.5 519.8,388.9 519.9,388.6 520.0,390.6 520.0,388.5 520.1,390.2 520.2,388.9 520.3,390.4 520.4,390.4 520.5,390.8 520.6,388.5 520.7,390.9 520.8,388.7 520.9,390.7 521.0,388.6 521.0,390.2 521.1,389.0 521.2,390.3 521.3,388.8 521.4,390.0 521.5,388.7 521.6,390.6 521.7,390.2 521.8,390.0 521.9,388.6 522.0,390.4 522.0,387.7 522.1,390.1 522.2,388.8 522.3,390.4 522.4,388.4 522.5,390.3 522.6,388.5 522.7,390.0 522.8,388.2 522.9,390.1 523.0,388.3 523.0,390.1 523.1,388.5 523.2,389.7 523.3,388.4 523.4,389.9 523.5,388.6 523.6,390.1 523.7,388.6 523.8,389.9 523.9,388.3 524.0,389.7 524.0,388.4 524.1,388.1 524.2,388.0 524.3,389.7 524.4,387.7 524.5,389.3 524.6,387.5 524.7,387.5 524.8,387.2 524.9,389.1 525.0,387.5 525.0,389.0 525.1,387.4 525.2,387.7 525.3,389.0 525.4,389.0 525.5,387.7 525.6,389.1 525.7,387.0 525.8,389.3 525.9,387.0 526.0,389.2 526.0,389.0 526.1,389.0 526.2,387.1 526.3,388.9 526.4,386.7 526.5,388.7 526.6,386.9 526.7,388.7 526.8,388.6 526.9,388.6 527.0,386.5 527.0,388.1 527.1,386.4 527.2,387.9 527.3,386.4 527.4,388.1 527.5,386.5 527.6,388.0 527.7,386.6 527.8,388.0 527.9,386.2 528.0,387.6 528.0,386.3 528.1,388.1 528.2,386.4 528.3,387.3 528.4,385.5 528.5,387.8 528.6,385.9 528.7,387.6 528.8,385.2 528.9,387.1 529.0,384.8 529.0,385.1 529.1,385.4 529.2,387.3 529.3,385.4 529.4,386.9 529.5,387.4 529.6,387.2 529.7,384.6 529.8,386.8 529.9,383.9 530.0,384.2 530.0,383.6 530.1,384.5 530.2,387.1 530.3,387.3 530.4,384.6 530.5,386.8 530.6,384.3 530.7,386.2 530.8,386.8 530.9,386.4 531.0,383.8 531.0,386.2 531.1,383.5 531.2,387.3 531.3,383.3 531.4,387.1 531.5,383.4 531.6,386.5 531.7,383.3 531.8,383.0 531.9,383.0 532.0,385.7 532.0,382.3 532.1,385.4 532.2,383.1 532.3,385.2 532.4,385.4 532.5,385.3 532.6,383.6 532.7,385.8 532.8,383.6 532.9,383.3 533.0,383.3 533.0,385.9 533.1,383.7 533.2,385.6 533.3,383.0 533.4,385.5 533.5,383.6 533.6,386.9 533.7,383.0 533.8,386.1 533.9,383.1 534.0,385.3 534.0,383.8 534.1,385.8 534.2,383.0 534.3,385.6 534.4,383.8 534.5,385.8 534.6,383.2 534.7,385.3 534.8,383.4 534.9,385.8 535.0,382.9 535.0,385.9 535.1,383.8 535.2,385.6 535.3,385.8 535.4,385.1 535.5,383.7 535.6,385.4 535.7,383.9 535.8,385.7 535.9,383.2 536.0,385.1 536.0,383.1 536.1,385.4 536.2,383.1 536.3,385.4 536.4,383.7 536.5,386.3" fill="none" stroke="#D95319" stroke-width="0.60" stroke-linejoin="round"/>
<text x="63.5" y="453.9" text-anchor="middle" font-size="11">0</text>
<text x="122.6" y="453.9" text-anchor="middle" font-size="11">5</text>
<text x="181.8" y="453.9" text-anchor="middle" font-size="11">10</text>
<text x="240.9" y="453.9" text-anchor="middle" font-size="11">15</text>
<text x="300.0" y="453.9" text-anchor="middle" font-size="11">20</text>
<text x="359.1" y="453.9" text-anchor="middle" font-size="11">25</text>
<text x="418.2" y="453.9" text-anchor="middle" font-size="11">30</text>
<text x="477.4" y="453.9" text-anchor="middle" font-size="11">35</text>
<text x="536.5" y="453.9" text-anchor="middle" font-size="11">40</text>
<text x="49.0" y="332.7" text-anchor="end" font-size="11">2</text>
<text x="59.6" y="327.7" text-anchor="end" font-size="8.8">14</text>
<text x="49.0" y="360.7" text-anchor="end" font-size="11">2</text>
<text x="59.6" y="355.7" text-anchor="end" font-size="8.8">13</text>
<text x="59.6" y="387.3" text-anchor="end" font-size="11">0</text>
<text x="49.0" y="416.8" text-anchor="end" font-size="11">−2</text>
<text x="59.6" y="411.8" text-anchor="end" font-size="8.8">13</text>
<text x="49.0" y="444.8" text-anchor="end" font-size="11">−2</text>
<text x="59.6" y="439.8" text-anchor="end" font-size="8.8">14</text>
<text transform="translate(16.8,382.6) rotate(-90)" text-anchor="middle" font-size="12.3">EMG (ADC units)</text>
<text transform="translate(31.1,382.6) rotate(-90)" text-anchor="middle" font-size="12.3">triceps brachii</text>
<text x="300" y="468.3" text-anchor="middle" font-size="12.1">time (s)</text>
</svg>
</body></html>
